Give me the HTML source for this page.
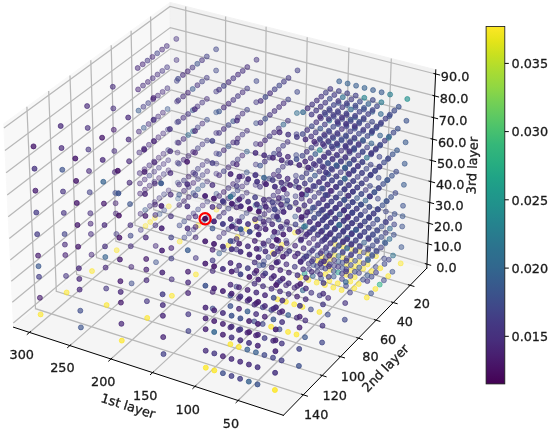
<!DOCTYPE html>
<html><head><meta charset="utf-8"><title>3D scatter</title>
<style>html,body{margin:0;padding:0;background:#fff}svg{display:block}</style></head>
<body>
<svg width="550" height="431" viewBox="0 0 550 431" font-family="'DejaVu Sans','Liberation Sans',sans-serif" font-size="12.8">
<rect width="550" height="431" fill="#fff"/>
<polygon points="172.2,194.2 13.5,327.2 3.7,123.7 170,2.4" fill="#f2f2f2" stroke="#f2f2f2" stroke-width="1" opacity="0.5" stroke-linejoin="miter"/>
<polygon points="426.8,268.2 172.2,194.2 170,2.4 435.8,69.8" fill="#e6e6e6" stroke="#e6e6e6" stroke-width="1" opacity="0.5" stroke-linejoin="miter"/>
<polygon points="426.8,268.2 172.2,194.2 13.5,327.2 283.4,415.3" fill="#ececec" stroke="#ececec" stroke-width="1" opacity="0.5" stroke-linejoin="miter"/>
<g fill="none" stroke="#b8b8b8" stroke-width="1.25" stroke-linejoin="miter">
<polyline points="238.1,400.5 384.2,255.8 391.3,58.5"/>
<polyline points="195,386.4 343.7,244 348.9,47.8"/>
<polyline points="152.6,372.6 303.7,232.4 307.2,37.2"/>
<polyline points="110.9,359 264.3,221 266.1,26.7"/>
<polyline points="69.9,345.6 225.5,209.7 225.6,16.5"/>
<polyline points="29.5,332.4 187.3,198.6 185.7,6.4"/>
<polyline points="410.1,285.3 153.7,209.7 150.6,16.5"/>
<polyline points="393.3,302.5 135,225.3 131.1,30.7"/>
<polyline points="376.1,320.2 115.9,241.3 111.2,45.3"/>
<polyline points="358.5,338.2 96.5,257.6 90.8,60.2"/>
<polyline points="340.5,356.6 76.6,274.3 70,75.4"/>
<polyline points="322.2,375.5 56.3,291.3 48.7,90.9"/>
<polyline points="303.4,394.8 35.5,308.7 26.9,106.8"/>
<polyline points="426.9,264.1 172.1,190.3 13.3,323"/>
<polyline points="427.9,243.8 171.9,170.6 12.3,302.2"/>
<polyline points="428.8,223.2 171.7,150.7 11.3,281.2"/>
<polyline points="429.8,202.5 171.4,130.6 10.3,259.9"/>
<polyline points="430.7,181.6 171.2,110.4 9.3,238.5"/>
<polyline points="431.7,160.5 171,90 8.2,216.8"/>
<polyline points="432.7,139.2 170.7,69.4 7.2,194.9"/>
<polyline points="433.6,117.6 170.5,48.6 6.1,172.8"/>
<polyline points="434.6,95.9 170.3,27.6 5,150.5"/>
<polyline points="435.6,74 170,6.4 3.9,128"/>
</g>
<g fill="none" stroke="#000" stroke-width="1.0" stroke-linecap="square">
<polyline points="13.5,327.2 283.4,415.3"/>
<polyline points="283.4,415.3 426.8,268.2"/>
<polyline points="426.8,268.2 435.8,69.8"/>
</g>
<g fill="none" stroke="#000" stroke-width="1" stroke-linecap="butt">
<polyline points="235.6,403 239.4,399.3"/>
<polyline points="192.4,388.9 196.3,385.2"/>
<polyline points="150,375 153.9,371.4"/>
<polyline points="108.3,361.4 112.3,357.8"/>
<polyline points="67.2,347.9 71.2,344.4"/>
<polyline points="26.8,334.7 30.9,331.2"/>
<polyline points="414.4,286.5 407.9,284.6"/>
<polyline points="397.6,303.8 391.1,301.9"/>
<polyline points="380.4,321.5 373.9,319.5"/>
<polyline points="362.9,339.6 356.3,337.5"/>
<polyline points="345,358 338.3,356"/>
<polyline points="326.6,376.9 319.9,374.8"/>
<polyline points="307.9,396.3 301.1,394.1"/>
<polyline points="431.2,265.4 424.8,263.5"/>
<polyline points="432.2,245 425.7,243.2"/>
<polyline points="433.1,224.5 426.7,222.6"/>
<polyline points="434.1,203.7 427.6,201.9"/>
<polyline points="435.1,182.8 428.5,181"/>
<polyline points="436.1,161.7 429.5,159.9"/>
<polyline points="437.1,140.3 430.5,138.6"/>
<polyline points="438.1,118.8 431.4,117.1"/>
<polyline points="439.1,97.1 432.4,95.3"/>
<polyline points="440.1,75.1 433.4,73.4"/>
</g>
<g text-anchor="middle" fill="#1a1a1a" stroke="#1a1a1a" stroke-width="0.3">
<text x="21.8" y="359">300</text>
<text x="62.4" y="372.3">250</text>
<text x="103.3" y="385.9">200</text>
<text x="145.3" y="399.8">150</text>
<text x="187.8" y="413.5">100</text>
<text x="231" y="427.7">50</text>
<text x="421.8" y="308.4">20</text>
<text x="404.8" y="325.6">40</text>
<text x="388.1" y="343.7">60</text>
<text x="370.4" y="361.3">80</text>
<text x="353" y="380.6">100</text>
<text x="334.8" y="399.5">120</text>
<text x="316.2" y="419">140</text>
<text x="446.4" y="271.6">0.0</text>
<text x="447.4" y="251.3">10.0</text>
<text x="448.3" y="230.7">20.0</text>
<text x="449.3" y="210">30.0</text>
<text x="450.2" y="189.1">40.0</text>
<text x="451.2" y="167.9">50.0</text>
<text x="452.2" y="146.6">60.0</text>
<text x="453.1" y="125.1">70.0</text>
<text x="454.1" y="103.4">80.0</text>
<text x="455.1" y="81.4">90.0</text>
<text transform="translate(127.8,406.9) rotate(17.5)" y="3.5">1st layer</text>
<text transform="translate(386.1,368.7) rotate(-46)" y="3.5">2nd layer</text>
<text transform="translate(473.3,165.6) rotate(-87.4)" y="3.5">3rd layer</text>
</g>
<g stroke-width="1.0">
<circle cx="178" cy="198.6" r="2.5" fill="#355e8d" stroke="#355e8d" fill-opacity="0.3" stroke-opacity="0.3"/>
<circle cx="177.8" cy="182.7" r="2.5" fill="#3f4788" stroke="#3f4788" fill-opacity="0.31" stroke-opacity="0.31"/>
<circle cx="168.8" cy="206.3" r="2.5" fill="#fde725" stroke="#fde725" fill-opacity="0.32" stroke-opacity="0.32"/>
<circle cx="216.4" cy="209.7" r="2.5" fill="#fde725" stroke="#fde725" fill-opacity="0.33" stroke-opacity="0.33"/>
<circle cx="164.2" cy="210.2" r="2.5" fill="#3e4a89" stroke="#3e4a89" fill-opacity="0.33" stroke-opacity="0.33"/>
<circle cx="177.6" cy="162.7" r="2.5" fill="#46307e" stroke="#46307e" fill-opacity="0.33" stroke-opacity="0.33"/>
<circle cx="168.6" cy="190.4" r="2.5" fill="#46337f" stroke="#46337f" fill-opacity="0.34" stroke-opacity="0.34"/>
<circle cx="177.5" cy="152.6" r="2.5" fill="#46307e" stroke="#46307e" fill-opacity="0.34" stroke-opacity="0.34"/>
<circle cx="159.6" cy="214.1" r="2.5" fill="#39558c" stroke="#39558c" fill-opacity="0.34" stroke-opacity="0.34"/>
<circle cx="216.4" cy="193.8" r="2.5" fill="#3c4f8a" stroke="#3c4f8a" fill-opacity="0.34" stroke-opacity="0.34"/>
<circle cx="164" cy="194.2" r="2.5" fill="#414287" stroke="#414287" fill-opacity="0.35" stroke-opacity="0.35"/>
<circle cx="177.4" cy="142.5" r="2.5" fill="#433e85" stroke="#433e85" fill-opacity="0.35" stroke-opacity="0.35"/>
<circle cx="207.4" cy="217.6" r="2.5" fill="#424186" stroke="#424186" fill-opacity="0.35" stroke-opacity="0.35"/>
<circle cx="154.9" cy="218" r="2.5" fill="#fde725" stroke="#fde725" fill-opacity="0.35" stroke-opacity="0.35"/>
<circle cx="168.4" cy="170.3" r="2.5" fill="#472d7b" stroke="#472d7b" fill-opacity="0.35" stroke-opacity="0.35"/>
<circle cx="159.3" cy="198.1" r="2.5" fill="#443a83" stroke="#443a83" fill-opacity="0.36" stroke-opacity="0.36"/>
<circle cx="255.4" cy="221.1" r="2.5" fill="#fde725" stroke="#fde725" fill-opacity="0.36" stroke-opacity="0.36"/>
<circle cx="202.8" cy="221.5" r="2.5" fill="#3a538b" stroke="#3a538b" fill-opacity="0.36" stroke-opacity="0.36"/>
<circle cx="168.2" cy="160.2" r="2.5" fill="#453581" stroke="#453581" fill-opacity="0.36" stroke-opacity="0.36"/>
<circle cx="216.3" cy="173.7" r="2.5" fill="#453581" stroke="#453581" fill-opacity="0.36" stroke-opacity="0.36"/>
<circle cx="150.2" cy="222" r="2.5" fill="#fde725" stroke="#fde725" fill-opacity="0.36" stroke-opacity="0.36"/>
<circle cx="163.7" cy="174.1" r="2.5" fill="#453882" stroke="#453882" fill-opacity="0.36" stroke-opacity="0.36"/>
<circle cx="207.3" cy="201.6" r="2.5" fill="#433e85" stroke="#433e85" fill-opacity="0.37" stroke-opacity="0.37"/>
<circle cx="154.6" cy="202" r="2.5" fill="#46327e" stroke="#46327e" fill-opacity="0.37" stroke-opacity="0.37"/>
<circle cx="177.2" cy="122.2" r="2.5" fill="#424186" stroke="#424186" fill-opacity="0.37" stroke-opacity="0.37"/>
<circle cx="168.1" cy="150.1" r="2.5" fill="#424186" stroke="#424186" fill-opacity="0.37" stroke-opacity="0.37"/>
<circle cx="216.3" cy="163.6" r="2.5" fill="#443b84" stroke="#443b84" fill-opacity="0.37" stroke-opacity="0.37"/>
<circle cx="198.2" cy="225.5" r="2.5" fill="#fde725" stroke="#fde725" fill-opacity="0.37" stroke-opacity="0.37"/>
<circle cx="163.6" cy="164" r="2.5" fill="#472e7c" stroke="#472e7c" fill-opacity="0.37" stroke-opacity="0.37"/>
<circle cx="145.5" cy="225.9" r="2.5" fill="#fde725" stroke="#fde725" fill-opacity="0.37" stroke-opacity="0.37"/>
<circle cx="159" cy="178" r="2.5" fill="#482979" stroke="#482979" fill-opacity="0.37" stroke-opacity="0.37"/>
<circle cx="255.5" cy="205.1" r="2.5" fill="#31678e" stroke="#31678e" fill-opacity="0.38" stroke-opacity="0.38"/>
<circle cx="202.7" cy="205.5" r="2.5" fill="#46337f" stroke="#46337f" fill-opacity="0.38" stroke-opacity="0.38"/>
<circle cx="149.9" cy="205.9" r="2.5" fill="#453581" stroke="#453581" fill-opacity="0.38" stroke-opacity="0.38"/>
<circle cx="216.3" cy="153.4" r="2.5" fill="#443983" stroke="#443983" fill-opacity="0.38" stroke-opacity="0.38"/>
<circle cx="246.5" cy="229.1" r="2.5" fill="#fde725" stroke="#fde725" fill-opacity="0.38" stroke-opacity="0.38"/>
<circle cx="163.4" cy="153.8" r="2.5" fill="#472d7b" stroke="#472d7b" fill-opacity="0.38" stroke-opacity="0.38"/>
<circle cx="193.6" cy="229.5" r="2.5" fill="#443b84" stroke="#443b84" fill-opacity="0.38" stroke-opacity="0.38"/>
<circle cx="158.9" cy="167.8" r="2.5" fill="#443983" stroke="#443983" fill-opacity="0.38" stroke-opacity="0.38"/>
<circle cx="207.2" cy="181.4" r="2.5" fill="#46327e" stroke="#46327e" fill-opacity="0.38" stroke-opacity="0.38"/>
<circle cx="140.8" cy="229.9" r="2.5" fill="#443b84" stroke="#443b84" fill-opacity="0.38" stroke-opacity="0.38"/>
<circle cx="154.3" cy="181.8" r="2.5" fill="#453581" stroke="#453581" fill-opacity="0.39" stroke-opacity="0.39"/>
<circle cx="177" cy="101.6" r="2.5" fill="#46337f" stroke="#46337f" fill-opacity="0.39" stroke-opacity="0.39"/>
<circle cx="198.1" cy="209.4" r="2.5" fill="#404588" stroke="#404588" fill-opacity="0.39" stroke-opacity="0.39"/>
<circle cx="145.2" cy="209.9" r="2.5" fill="#39558c" stroke="#39558c" fill-opacity="0.39" stroke-opacity="0.39"/>
<circle cx="167.9" cy="129.6" r="2.5" fill="#443b84" stroke="#443b84" fill-opacity="0.39" stroke-opacity="0.39"/>
<circle cx="295" cy="232.6" r="2.5" fill="#fde725" stroke="#fde725" fill-opacity="0.39" stroke-opacity="0.39"/>
<circle cx="242" cy="233.1" r="2.5" fill="#433e85" stroke="#433e85" fill-opacity="0.39" stroke-opacity="0.39"/>
<circle cx="158.7" cy="157.7" r="2.5" fill="#472c7a" stroke="#472c7a" fill-opacity="0.39" stroke-opacity="0.39"/>
<circle cx="207.2" cy="171.3" r="2.5" fill="#46327e" stroke="#46327e" fill-opacity="0.39" stroke-opacity="0.39"/>
<circle cx="255.6" cy="184.9" r="2.5" fill="#463480" stroke="#463480" fill-opacity="0.39" stroke-opacity="0.39"/>
<circle cx="189" cy="233.5" r="2.5" fill="#414487" stroke="#414487" fill-opacity="0.39" stroke-opacity="0.39"/>
<circle cx="154.2" cy="171.7" r="2.5" fill="#463480" stroke="#463480" fill-opacity="0.39" stroke-opacity="0.39"/>
<circle cx="202.6" cy="185.3" r="2.5" fill="#3c508b" stroke="#3c508b" fill-opacity="0.4" stroke-opacity="0.4"/>
<circle cx="149.6" cy="185.7" r="2.5" fill="#472c7a" stroke="#472c7a" fill-opacity="0.4" stroke-opacity="0.4"/>
<circle cx="246.6" cy="213" r="2.5" fill="#3f4788" stroke="#3f4788" fill-opacity="0.4" stroke-opacity="0.4"/>
<circle cx="193.5" cy="213.4" r="2.5" fill="#433d84" stroke="#433d84" fill-opacity="0.4" stroke-opacity="0.4"/>
<circle cx="140.5" cy="213.8" r="2.5" fill="#472c7a" stroke="#472c7a" fill-opacity="0.4" stroke-opacity="0.4"/>
<circle cx="216.2" cy="133" r="2.5" fill="#453882" stroke="#453882" fill-opacity="0.4" stroke-opacity="0.4"/>
<circle cx="163.2" cy="133.4" r="2.5" fill="#472e7c" stroke="#472e7c" fill-opacity="0.4" stroke-opacity="0.4"/>
<circle cx="207.1" cy="161.1" r="2.5" fill="#453781" stroke="#453781" fill-opacity="0.4" stroke-opacity="0.4"/>
<circle cx="255.7" cy="174.7" r="2.5" fill="#46337f" stroke="#46337f" fill-opacity="0.4" stroke-opacity="0.4"/>
<circle cx="237.5" cy="237.1" r="2.5" fill="#fde725" stroke="#fde725" fill-opacity="0.4" stroke-opacity="0.4"/>
<circle cx="154" cy="161.5" r="2.5" fill="#472a7a" stroke="#472a7a" fill-opacity="0.4" stroke-opacity="0.4"/>
<circle cx="202.6" cy="175.1" r="2.5" fill="#443b84" stroke="#443b84" fill-opacity="0.4" stroke-opacity="0.4"/>
<circle cx="184.4" cy="237.5" r="2.5" fill="#404588" stroke="#404588" fill-opacity="0.41" stroke-opacity="0.41"/>
<circle cx="149.4" cy="175.6" r="2.5" fill="#414287" stroke="#414287" fill-opacity="0.41" stroke-opacity="0.41"/>
<circle cx="176.8" cy="80.9" r="2.5" fill="#423f85" stroke="#423f85" fill-opacity="0.41" stroke-opacity="0.41"/>
<circle cx="198" cy="189.2" r="2.5" fill="#38598c" stroke="#38598c" fill-opacity="0.41" stroke-opacity="0.41"/>
<circle cx="295.2" cy="216.5" r="2.5" fill="#39558c" stroke="#39558c" fill-opacity="0.41" stroke-opacity="0.41"/>
<circle cx="144.9" cy="189.6" r="2.5" fill="#482878" stroke="#482878" fill-opacity="0.41" stroke-opacity="0.41"/>
<circle cx="242.1" cy="217" r="2.5" fill="#404688" stroke="#404688" fill-opacity="0.41" stroke-opacity="0.41"/>
<circle cx="167.6" cy="109" r="2.5" fill="#39568c" stroke="#39568c" fill-opacity="0.41" stroke-opacity="0.41"/>
<circle cx="188.9" cy="217.4" r="2.5" fill="#472c7a" stroke="#472c7a" fill-opacity="0.41" stroke-opacity="0.41"/>
<circle cx="158.4" cy="137.2" r="2.5" fill="#482979" stroke="#482979" fill-opacity="0.41" stroke-opacity="0.41"/>
<circle cx="255.8" cy="164.5" r="2.5" fill="#453781" stroke="#453781" fill-opacity="0.41" stroke-opacity="0.41"/>
<circle cx="286.2" cy="240.7" r="2.5" fill="#433d84" stroke="#433d84" fill-opacity="0.41" stroke-opacity="0.41"/>
<circle cx="202.5" cy="164.9" r="2.5" fill="#463480" stroke="#463480" fill-opacity="0.41" stroke-opacity="0.41"/>
<circle cx="233" cy="241.2" r="2.5" fill="#443b84" stroke="#443b84" fill-opacity="0.41" stroke-opacity="0.41"/>
<circle cx="149.3" cy="165.3" r="2.5" fill="#46307e" stroke="#46307e" fill-opacity="0.42" stroke-opacity="0.42"/>
<circle cx="198" cy="179" r="2.5" fill="#443983" stroke="#443983" fill-opacity="0.42" stroke-opacity="0.42"/>
<circle cx="246.7" cy="192.7" r="2.5" fill="#46327e" stroke="#46327e" fill-opacity="0.42" stroke-opacity="0.42"/>
<circle cx="179.7" cy="241.6" r="2.5" fill="#fde725" stroke="#fde725" fill-opacity="0.42" stroke-opacity="0.42"/>
<circle cx="144.7" cy="179.5" r="2.5" fill="#472d7b" stroke="#472d7b" fill-opacity="0.42" stroke-opacity="0.42"/>
<circle cx="193.4" cy="193.1" r="2.5" fill="#3d4e8a" stroke="#3d4e8a" fill-opacity="0.42" stroke-opacity="0.42"/>
<circle cx="140.1" cy="193.6" r="2.5" fill="#482677" stroke="#482677" fill-opacity="0.42" stroke-opacity="0.42"/>
<circle cx="216.2" cy="112.3" r="2.5" fill="#3a548c" stroke="#3a548c" fill-opacity="0.42" stroke-opacity="0.42"/>
<circle cx="237.5" cy="221" r="2.5" fill="#463480" stroke="#463480" fill-opacity="0.42" stroke-opacity="0.42"/>
<circle cx="162.9" cy="112.7" r="2.5" fill="#472c7a" stroke="#472c7a" fill-opacity="0.42" stroke-opacity="0.42"/>
<circle cx="184.2" cy="221.4" r="2.5" fill="#3e4a89" stroke="#3e4a89" fill-opacity="0.42" stroke-opacity="0.42"/>
<circle cx="207.1" cy="140.5" r="2.5" fill="#423f85" stroke="#423f85" fill-opacity="0.42" stroke-opacity="0.42"/>
<circle cx="153.7" cy="141" r="2.5" fill="#472d7b" stroke="#472d7b" fill-opacity="0.42" stroke-opacity="0.42"/>
<circle cx="335.1" cy="244.3" r="2.5" fill="#fde725" stroke="#fde725" fill-opacity="0.42" stroke-opacity="0.42"/>
<circle cx="176.5" cy="60" r="2.5" fill="#46337f" stroke="#46337f" fill-opacity="0.42" stroke-opacity="0.42"/>
<circle cx="281.8" cy="244.8" r="2.5" fill="#fde725" stroke="#fde725" fill-opacity="0.42" stroke-opacity="0.42"/>
<circle cx="197.9" cy="168.8" r="2.5" fill="#433e85" stroke="#433e85" fill-opacity="0.42" stroke-opacity="0.42"/>
<circle cx="246.7" cy="182.5" r="2.5" fill="#453781" stroke="#453781" fill-opacity="0.43" stroke-opacity="0.43"/>
<circle cx="295.5" cy="196.2" r="2.5" fill="#423f85" stroke="#423f85" fill-opacity="0.43" stroke-opacity="0.43"/>
<circle cx="228.4" cy="245.2" r="2.5" fill="#fde725" stroke="#fde725" fill-opacity="0.43" stroke-opacity="0.43"/>
<circle cx="144.5" cy="169.2" r="2.5" fill="#482979" stroke="#482979" fill-opacity="0.43" stroke-opacity="0.43"/>
<circle cx="193.3" cy="182.9" r="2.5" fill="#482878" stroke="#482878" fill-opacity="0.43" stroke-opacity="0.43"/>
<circle cx="242.1" cy="196.7" r="2.5" fill="#453781" stroke="#453781" fill-opacity="0.43" stroke-opacity="0.43"/>
<circle cx="139.9" cy="183.4" r="2.5" fill="#472d7b" stroke="#472d7b" fill-opacity="0.43" stroke-opacity="0.43"/>
<circle cx="167.4" cy="88.2" r="2.5" fill="#46327e" stroke="#46327e" fill-opacity="0.43" stroke-opacity="0.43"/>
<circle cx="188.7" cy="197.1" r="2.5" fill="#472f7d" stroke="#472f7d" fill-opacity="0.43" stroke-opacity="0.43"/>
<circle cx="286.4" cy="224.5" r="2.5" fill="#443983" stroke="#443983" fill-opacity="0.43" stroke-opacity="0.43"/>
<circle cx="343.3" cy="246.7" r="2.5" fill="#fde725" stroke="#fde725" fill-opacity="0.43" stroke-opacity="0.43"/>
<circle cx="233" cy="225" r="2.5" fill="#3a538b" stroke="#3a538b" fill-opacity="0.43" stroke-opacity="0.43"/>
<circle cx="158.2" cy="116.5" r="2.5" fill="#472e7c" stroke="#472e7c" fill-opacity="0.43" stroke-opacity="0.43"/>
<circle cx="179.5" cy="225.4" r="2.5" fill="#3f4889" stroke="#3f4889" fill-opacity="0.43" stroke-opacity="0.43"/>
<circle cx="255.9" cy="143.9" r="2.5" fill="#453781" stroke="#453781" fill-opacity="0.43" stroke-opacity="0.43"/>
<circle cx="202.4" cy="144.3" r="2.5" fill="#453882" stroke="#453882" fill-opacity="0.43" stroke-opacity="0.43"/>
<circle cx="148.9" cy="144.8" r="2.5" fill="#472d7b" stroke="#472d7b" fill-opacity="0.43" stroke-opacity="0.43"/>
<circle cx="246.8" cy="172.3" r="2.5" fill="#3b528b" stroke="#3b528b" fill-opacity="0.43" stroke-opacity="0.43"/>
<circle cx="295.7" cy="186" r="2.5" fill="#404588" stroke="#404588" fill-opacity="0.44" stroke-opacity="0.44"/>
<circle cx="277.4" cy="248.9" r="2.5" fill="#424086" stroke="#424086" fill-opacity="0.44" stroke-opacity="0.44"/>
<circle cx="193.3" cy="172.7" r="2.5" fill="#472f7d" stroke="#472f7d" fill-opacity="0.44" stroke-opacity="0.44"/>
<circle cx="351.4" cy="249.1" r="2.5" fill="#fde725" stroke="#fde725" fill-opacity="0.44" stroke-opacity="0.44"/>
<circle cx="242.2" cy="186.4" r="2.5" fill="#46327e" stroke="#46327e" fill-opacity="0.44" stroke-opacity="0.44"/>
<circle cx="223.8" cy="249.3" r="2.5" fill="#3e4a89" stroke="#3e4a89" fill-opacity="0.44" stroke-opacity="0.44"/>
<circle cx="139.7" cy="173.1" r="2.5" fill="#472d7b" stroke="#472d7b" fill-opacity="0.44" stroke-opacity="0.44"/>
<circle cx="188.7" cy="186.9" r="2.5" fill="#463480" stroke="#463480" fill-opacity="0.44" stroke-opacity="0.44"/>
<circle cx="216.2" cy="91.5" r="2.5" fill="#443b84" stroke="#443b84" fill-opacity="0.44" stroke-opacity="0.44"/>
<circle cx="237.6" cy="200.6" r="2.5" fill="#414287" stroke="#414287" fill-opacity="0.44" stroke-opacity="0.44"/>
<circle cx="335.5" cy="228.1" r="2.5" fill="#3d4e8a" stroke="#3d4e8a" fill-opacity="0.44" stroke-opacity="0.44"/>
<circle cx="162.6" cy="91.9" r="2.5" fill="#472a7a" stroke="#472a7a" fill-opacity="0.44" stroke-opacity="0.44"/>
<circle cx="184" cy="201.1" r="2.5" fill="#472c7a" stroke="#472c7a" fill-opacity="0.44" stroke-opacity="0.44"/>
<circle cx="116.7" cy="250.2" r="2.5" fill="#fde725" stroke="#fde725" fill-opacity="0.44" stroke-opacity="0.44"/>
<circle cx="282" cy="228.6" r="2.5" fill="#414487" stroke="#414487" fill-opacity="0.44" stroke-opacity="0.44"/>
<circle cx="207" cy="119.8" r="2.5" fill="#3e4c8a" stroke="#3e4c8a" fill-opacity="0.44" stroke-opacity="0.44"/>
<circle cx="228.4" cy="229" r="2.5" fill="#423f85" stroke="#423f85" fill-opacity="0.44" stroke-opacity="0.44"/>
<circle cx="153.4" cy="120.2" r="2.5" fill="#472c7a" stroke="#472c7a" fill-opacity="0.44" stroke-opacity="0.44"/>
<circle cx="359.6" cy="251.4" r="2.5" fill="#fde725" stroke="#fde725" fill-opacity="0.44" stroke-opacity="0.44"/>
<circle cx="176.3" cy="38.9" r="2.5" fill="#46337f" stroke="#46337f" fill-opacity="0.44" stroke-opacity="0.44"/>
<circle cx="197.8" cy="148.2" r="2.5" fill="#433d84" stroke="#433d84" fill-opacity="0.44" stroke-opacity="0.44"/>
<circle cx="295.9" cy="175.7" r="2.5" fill="#423f85" stroke="#423f85" fill-opacity="0.44" stroke-opacity="0.44"/>
<circle cx="343.7" cy="230.5" r="2.5" fill="#3e4c8a" stroke="#3e4c8a" fill-opacity="0.45" stroke-opacity="0.45"/>
<circle cx="144.1" cy="148.6" r="2.5" fill="#472a7a" stroke="#472a7a" fill-opacity="0.45" stroke-opacity="0.45"/>
<circle cx="326.5" cy="252.5" r="2.5" fill="#3d4e8a" stroke="#3d4e8a" fill-opacity="0.45" stroke-opacity="0.45"/>
<circle cx="242.2" cy="176.2" r="2.5" fill="#46307e" stroke="#46307e" fill-opacity="0.45" stroke-opacity="0.45"/>
<circle cx="167.1" cy="67.2" r="2.5" fill="#453882" stroke="#453882" fill-opacity="0.45" stroke-opacity="0.45"/>
<circle cx="272.9" cy="253" r="2.5" fill="#fde725" stroke="#fde725" fill-opacity="0.45" stroke-opacity="0.45"/>
<circle cx="188.6" cy="176.6" r="2.5" fill="#482878" stroke="#482878" fill-opacity="0.45" stroke-opacity="0.45"/>
<circle cx="237.6" cy="190.4" r="2.5" fill="#3f4889" stroke="#3f4889" fill-opacity="0.45" stroke-opacity="0.45"/>
<circle cx="286.7" cy="204.2" r="2.5" fill="#3d4e8a" stroke="#3d4e8a" fill-opacity="0.45" stroke-opacity="0.45"/>
<circle cx="219.2" cy="253.4" r="2.5" fill="#355e8d" stroke="#355e8d" fill-opacity="0.45" stroke-opacity="0.45"/>
<circle cx="184" cy="190.8" r="2.5" fill="#472f7d" stroke="#472f7d" fill-opacity="0.45" stroke-opacity="0.45"/>
<circle cx="233" cy="204.6" r="2.5" fill="#414287" stroke="#414287" fill-opacity="0.45" stroke-opacity="0.45"/>
<circle cx="367.7" cy="253.8" r="2.5" fill="#fde725" stroke="#fde725" fill-opacity="0.45" stroke-opacity="0.45"/>
<circle cx="157.9" cy="95.6" r="2.5" fill="#472d7b" stroke="#472d7b" fill-opacity="0.45" stroke-opacity="0.45"/>
<circle cx="179.3" cy="205" r="2.5" fill="#463480" stroke="#463480" fill-opacity="0.45" stroke-opacity="0.45"/>
<circle cx="256.1" cy="123.2" r="2.5" fill="#3d4d8a" stroke="#3d4d8a" fill-opacity="0.45" stroke-opacity="0.45"/>
<circle cx="277.6" cy="232.7" r="2.5" fill="#423f85" stroke="#423f85" fill-opacity="0.45" stroke-opacity="0.45"/>
<circle cx="351.9" cy="232.8" r="2.5" fill="#34618d" stroke="#34618d" fill-opacity="0.45" stroke-opacity="0.45"/>
<circle cx="202.3" cy="123.6" r="2.5" fill="#472e7c" stroke="#472e7c" fill-opacity="0.45" stroke-opacity="0.45"/>
<circle cx="334.7" cy="254.9" r="2.5" fill="#fde725" stroke="#fde725" fill-opacity="0.45" stroke-opacity="0.45"/>
<circle cx="223.8" cy="233.1" r="2.5" fill="#46337f" stroke="#46337f" fill-opacity="0.45" stroke-opacity="0.45"/>
<circle cx="148.6" cy="124" r="2.5" fill="#472f7d" stroke="#472f7d" fill-opacity="0.45" stroke-opacity="0.45"/>
<circle cx="246.9" cy="151.6" r="2.5" fill="#365d8d" stroke="#365d8d" fill-opacity="0.45" stroke-opacity="0.45"/>
<circle cx="116.3" cy="234" r="2.5" fill="#443a83" stroke="#443a83" fill-opacity="0.45" stroke-opacity="0.45"/>
<circle cx="193.1" cy="152" r="2.5" fill="#482677" stroke="#482677" fill-opacity="0.46" stroke-opacity="0.46"/>
<circle cx="376" cy="256.2" r="2.5" fill="#fde725" stroke="#fde725" fill-opacity="0.46" stroke-opacity="0.46"/>
<circle cx="139.3" cy="152.5" r="2.5" fill="#472f7d" stroke="#472f7d" fill-opacity="0.46" stroke-opacity="0.46"/>
<circle cx="216.1" cy="70.5" r="2.5" fill="#404588" stroke="#404588" fill-opacity="0.46" stroke-opacity="0.46"/>
<circle cx="322.2" cy="256.7" r="2.5" fill="#fde725" stroke="#fde725" fill-opacity="0.46" stroke-opacity="0.46"/>
<circle cx="237.7" cy="180.1" r="2.5" fill="#453581" stroke="#453581" fill-opacity="0.46" stroke-opacity="0.46"/>
<circle cx="286.9" cy="193.9" r="2.5" fill="#463480" stroke="#463480" fill-opacity="0.46" stroke-opacity="0.46"/>
<circle cx="336.1" cy="207.7" r="2.5" fill="#424086" stroke="#424086" fill-opacity="0.46" stroke-opacity="0.46"/>
<circle cx="162.3" cy="70.9" r="2.5" fill="#463480" stroke="#463480" fill-opacity="0.46" stroke-opacity="0.46"/>
<circle cx="360" cy="235.2" r="2.5" fill="#414287" stroke="#414287" fill-opacity="0.46" stroke-opacity="0.46"/>
<circle cx="268.4" cy="257.1" r="2.5" fill="#3f4788" stroke="#3f4788" fill-opacity="0.46" stroke-opacity="0.46"/>
<circle cx="183.9" cy="180.5" r="2.5" fill="#443a83" stroke="#443a83" fill-opacity="0.46" stroke-opacity="0.46"/>
<circle cx="342.8" cy="257.3" r="2.5" fill="#fde725" stroke="#fde725" fill-opacity="0.46" stroke-opacity="0.46"/>
<circle cx="233.1" cy="194.4" r="2.5" fill="#3b528b" stroke="#3b528b" fill-opacity="0.46" stroke-opacity="0.46"/>
<circle cx="282.3" cy="208.2" r="2.5" fill="#443a83" stroke="#443a83" fill-opacity="0.46" stroke-opacity="0.46"/>
<circle cx="179.2" cy="194.8" r="2.5" fill="#3a538b" stroke="#3a538b" fill-opacity="0.46" stroke-opacity="0.46"/>
<circle cx="206.9" cy="98.9" r="2.5" fill="#472e7c" stroke="#472e7c" fill-opacity="0.46" stroke-opacity="0.46"/>
<circle cx="228.5" cy="208.6" r="2.5" fill="#414487" stroke="#414487" fill-opacity="0.46" stroke-opacity="0.46"/>
<circle cx="326.9" cy="236.3" r="2.5" fill="#433d84" stroke="#433d84" fill-opacity="0.46" stroke-opacity="0.46"/>
<circle cx="153.1" cy="99.3" r="2.5" fill="#482878" stroke="#482878" fill-opacity="0.46" stroke-opacity="0.46"/>
<circle cx="384.2" cy="258.6" r="2.5" fill="#404588" stroke="#404588" fill-opacity="0.46" stroke-opacity="0.46"/>
<circle cx="273.1" cy="236.7" r="2.5" fill="#404588" stroke="#404588" fill-opacity="0.46" stroke-opacity="0.46"/>
<circle cx="197.7" cy="127.4" r="2.5" fill="#414287" stroke="#414287" fill-opacity="0.46" stroke-opacity="0.46"/>
<circle cx="330.4" cy="259.1" r="2.5" fill="#fde725" stroke="#fde725" fill-opacity="0.46" stroke-opacity="0.46"/>
<circle cx="219.2" cy="237.2" r="2.5" fill="#453581" stroke="#453581" fill-opacity="0.46" stroke-opacity="0.46"/>
<circle cx="296.2" cy="155.1" r="2.5" fill="#3f4788" stroke="#3f4788" fill-opacity="0.46" stroke-opacity="0.46"/>
<circle cx="344.2" cy="210.1" r="2.5" fill="#3f4889" stroke="#3f4889" fill-opacity="0.46" stroke-opacity="0.46"/>
<circle cx="143.8" cy="127.8" r="2.5" fill="#39558c" stroke="#39558c" fill-opacity="0.46" stroke-opacity="0.46"/>
<circle cx="368.3" cy="237.6" r="2.5" fill="#3c4f8a" stroke="#3c4f8a" fill-opacity="0.46" stroke-opacity="0.46"/>
<circle cx="351" cy="259.7" r="2.5" fill="#fde725" stroke="#fde725" fill-opacity="0.47" stroke-opacity="0.47"/>
<circle cx="242.3" cy="155.5" r="2.5" fill="#472c7a" stroke="#472c7a" fill-opacity="0.47" stroke-opacity="0.47"/>
<circle cx="166.8" cy="46" r="2.5" fill="#472e7c" stroke="#472e7c" fill-opacity="0.47" stroke-opacity="0.47"/>
<circle cx="188.4" cy="155.9" r="2.5" fill="#472c7a" stroke="#472c7a" fill-opacity="0.47" stroke-opacity="0.47"/>
<circle cx="287" cy="183.6" r="2.5" fill="#453882" stroke="#453882" fill-opacity="0.47" stroke-opacity="0.47"/>
<circle cx="336.3" cy="197.5" r="2.5" fill="#3e4989" stroke="#3e4989" fill-opacity="0.47" stroke-opacity="0.47"/>
<circle cx="335.1" cy="238.7" r="2.5" fill="#424086" stroke="#424086" fill-opacity="0.47" stroke-opacity="0.47"/>
<circle cx="317.8" cy="260.8" r="2.5" fill="#fde725" stroke="#fde725" fill-opacity="0.47" stroke-opacity="0.47"/>
<circle cx="233.1" cy="184" r="2.5" fill="#472c7a" stroke="#472c7a" fill-opacity="0.47" stroke-opacity="0.47"/>
<circle cx="282.4" cy="197.9" r="2.5" fill="#423f85" stroke="#423f85" fill-opacity="0.47" stroke-opacity="0.47"/>
<circle cx="157.5" cy="74.5" r="2.5" fill="#472e7c" stroke="#472e7c" fill-opacity="0.47" stroke-opacity="0.47"/>
<circle cx="263.9" cy="261.3" r="2.5" fill="#404588" stroke="#404588" fill-opacity="0.47" stroke-opacity="0.47"/>
<circle cx="179.1" cy="184.5" r="2.5" fill="#46327e" stroke="#46327e" fill-opacity="0.47" stroke-opacity="0.47"/>
<circle cx="338.5" cy="261.5" r="2.5" fill="#375b8d" stroke="#375b8d" fill-opacity="0.47" stroke-opacity="0.47"/>
<circle cx="228.5" cy="198.3" r="2.5" fill="#472f7d" stroke="#472f7d" fill-opacity="0.47" stroke-opacity="0.47"/>
<circle cx="256.2" cy="102.2" r="2.5" fill="#443983" stroke="#443983" fill-opacity="0.47" stroke-opacity="0.47"/>
<circle cx="277.8" cy="212.2" r="2.5" fill="#46327e" stroke="#46327e" fill-opacity="0.47" stroke-opacity="0.47"/>
<circle cx="352.4" cy="212.4" r="2.5" fill="#424086" stroke="#424086" fill-opacity="0.47" stroke-opacity="0.47"/>
<circle cx="376.5" cy="239.9" r="2.5" fill="#38588c" stroke="#38588c" fill-opacity="0.47" stroke-opacity="0.47"/>
<circle cx="202.2" cy="102.6" r="2.5" fill="#463480" stroke="#463480" fill-opacity="0.47" stroke-opacity="0.47"/>
<circle cx="223.8" cy="212.7" r="2.5" fill="#463480" stroke="#463480" fill-opacity="0.47" stroke-opacity="0.47"/>
<circle cx="359.3" cy="262.1" r="2.5" fill="#fde725" stroke="#fde725" fill-opacity="0.47" stroke-opacity="0.47"/>
<circle cx="156" cy="262.2" r="2.5" fill="#3c4f8a" stroke="#3c4f8a" fill-opacity="0.47" stroke-opacity="0.47"/>
<circle cx="322.6" cy="240.4" r="2.5" fill="#443b84" stroke="#443b84" fill-opacity="0.47" stroke-opacity="0.47"/>
<circle cx="148.2" cy="103.1" r="2.5" fill="#423f85" stroke="#423f85" fill-opacity="0.47" stroke-opacity="0.47"/>
<circle cx="247" cy="130.8" r="2.5" fill="#46337f" stroke="#46337f" fill-opacity="0.47" stroke-opacity="0.47"/>
<circle cx="268.6" cy="240.8" r="2.5" fill="#443a83" stroke="#443a83" fill-opacity="0.47" stroke-opacity="0.47"/>
<circle cx="344.5" cy="199.8" r="2.5" fill="#424186" stroke="#424186" fill-opacity="0.47" stroke-opacity="0.47"/>
<circle cx="115.8" cy="213.5" r="2.5" fill="#482677" stroke="#482677" fill-opacity="0.47" stroke-opacity="0.47"/>
<circle cx="343.3" cy="241" r="2.5" fill="#3d4d8a" stroke="#3d4d8a" fill-opacity="0.47" stroke-opacity="0.47"/>
<circle cx="193" cy="131.2" r="2.5" fill="#2f6c8e" stroke="#2f6c8e" fill-opacity="0.47" stroke-opacity="0.47"/>
<circle cx="326" cy="263.2" r="2.5" fill="#fde725" stroke="#fde725" fill-opacity="0.47" stroke-opacity="0.47"/>
<circle cx="400.7" cy="263.4" r="2.5" fill="#fde725" stroke="#fde725" fill-opacity="0.48" stroke-opacity="0.48"/>
<circle cx="138.9" cy="131.6" r="2.5" fill="#472d7b" stroke="#472d7b" fill-opacity="0.48" stroke-opacity="0.48"/>
<circle cx="216.1" cy="49.3" r="2.5" fill="#404688" stroke="#404688" fill-opacity="0.48" stroke-opacity="0.48"/>
<circle cx="346.8" cy="263.9" r="2.5" fill="#fde725" stroke="#fde725" fill-opacity="0.48" stroke-opacity="0.48"/>
<circle cx="237.7" cy="159.4" r="2.5" fill="#433d84" stroke="#433d84" fill-opacity="0.48" stroke-opacity="0.48"/>
<circle cx="336.6" cy="187.1" r="2.5" fill="#3a538b" stroke="#3a538b" fill-opacity="0.48" stroke-opacity="0.48"/>
<circle cx="162.1" cy="49.6" r="2.5" fill="#472a7a" stroke="#472a7a" fill-opacity="0.48" stroke-opacity="0.48"/>
<circle cx="360.7" cy="214.7" r="2.5" fill="#414487" stroke="#414487" fill-opacity="0.48" stroke-opacity="0.48"/>
<circle cx="384.8" cy="242.3" r="2.5" fill="#355e8d" stroke="#355e8d" fill-opacity="0.48" stroke-opacity="0.48"/>
<circle cx="183.7" cy="159.8" r="2.5" fill="#472a7a" stroke="#472a7a" fill-opacity="0.48" stroke-opacity="0.48"/>
<circle cx="367.5" cy="264.5" r="2.5" fill="#fde725" stroke="#fde725" fill-opacity="0.48" stroke-opacity="0.48"/>
<circle cx="282.5" cy="187.6" r="2.5" fill="#3e4a89" stroke="#3e4a89" fill-opacity="0.48" stroke-opacity="0.48"/>
<circle cx="330.8" cy="242.8" r="2.5" fill="#424086" stroke="#424086" fill-opacity="0.48" stroke-opacity="0.48"/>
<circle cx="206.8" cy="77.8" r="2.5" fill="#443a83" stroke="#443a83" fill-opacity="0.48" stroke-opacity="0.48"/>
<circle cx="313.5" cy="265" r="2.5" fill="#3c4f8a" stroke="#3c4f8a" fill-opacity="0.48" stroke-opacity="0.48"/>
<circle cx="228.5" cy="188" r="2.5" fill="#463480" stroke="#463480" fill-opacity="0.48" stroke-opacity="0.48"/>
<circle cx="277.9" cy="201.9" r="2.5" fill="#463480" stroke="#463480" fill-opacity="0.48" stroke-opacity="0.48"/>
<circle cx="327.4" cy="215.8" r="2.5" fill="#3e4989" stroke="#3e4989" fill-opacity="0.48" stroke-opacity="0.48"/>
<circle cx="152.7" cy="78.2" r="2.5" fill="#472f7d" stroke="#472f7d" fill-opacity="0.48" stroke-opacity="0.48"/>
<circle cx="352.7" cy="202.1" r="2.5" fill="#424086" stroke="#424086" fill-opacity="0.48" stroke-opacity="0.48"/>
<circle cx="351.5" cy="243.4" r="2.5" fill="#404588" stroke="#404588" fill-opacity="0.48" stroke-opacity="0.48"/>
<circle cx="259.4" cy="265.5" r="2.5" fill="#3b528b" stroke="#3b528b" fill-opacity="0.48" stroke-opacity="0.48"/>
<circle cx="334.2" cy="265.7" r="2.5" fill="#433e85" stroke="#433e85" fill-opacity="0.48" stroke-opacity="0.48"/>
<circle cx="223.8" cy="202.4" r="2.5" fill="#46327e" stroke="#46327e" fill-opacity="0.48" stroke-opacity="0.48"/>
<circle cx="273.3" cy="216.3" r="2.5" fill="#443a83" stroke="#443a83" fill-opacity="0.48" stroke-opacity="0.48"/>
<circle cx="197.5" cy="106.4" r="2.5" fill="#46337f" stroke="#46337f" fill-opacity="0.48" stroke-opacity="0.48"/>
<circle cx="219.2" cy="216.7" r="2.5" fill="#453581" stroke="#453581" fill-opacity="0.48" stroke-opacity="0.48"/>
<circle cx="355" cy="266.3" r="2.5" fill="#fde725" stroke="#fde725" fill-opacity="0.48" stroke-opacity="0.48"/>
<circle cx="296.5" cy="134.2" r="2.5" fill="#433e85" stroke="#433e85" fill-opacity="0.48" stroke-opacity="0.48"/>
<circle cx="318.2" cy="244.5" r="2.5" fill="#443a83" stroke="#443a83" fill-opacity="0.48" stroke-opacity="0.48"/>
<circle cx="344.8" cy="189.5" r="2.5" fill="#3f4889" stroke="#3f4889" fill-opacity="0.48" stroke-opacity="0.48"/>
<circle cx="115.6" cy="203.2" r="2.5" fill="#482374" stroke="#482374" fill-opacity="0.48" stroke-opacity="0.48"/>
<circle cx="143.4" cy="106.8" r="2.5" fill="#443a83" stroke="#443a83" fill-opacity="0.48" stroke-opacity="0.48"/>
<circle cx="368.9" cy="217.1" r="2.5" fill="#3c4f8a" stroke="#3c4f8a" fill-opacity="0.48" stroke-opacity="0.48"/>
<circle cx="242.4" cy="134.6" r="2.5" fill="#453781" stroke="#453781" fill-opacity="0.48" stroke-opacity="0.48"/>
<circle cx="375.8" cy="267" r="2.5" fill="#3f4889" stroke="#3f4889" fill-opacity="0.48" stroke-opacity="0.48"/>
<circle cx="264.1" cy="245" r="2.5" fill="#433d84" stroke="#433d84" fill-opacity="0.48" stroke-opacity="0.48"/>
<circle cx="339" cy="245.2" r="2.5" fill="#424086" stroke="#424086" fill-opacity="0.49" stroke-opacity="0.49"/>
<circle cx="188.2" cy="135" r="2.5" fill="#30698e" stroke="#30698e" fill-opacity="0.49" stroke-opacity="0.49"/>
<circle cx="321.7" cy="267.4" r="2.5" fill="#433d84" stroke="#433d84" fill-opacity="0.49" stroke-opacity="0.49"/>
<circle cx="287.3" cy="162.9" r="2.5" fill="#443b84" stroke="#443b84" fill-opacity="0.49" stroke-opacity="0.49"/>
<circle cx="335.6" cy="218.2" r="2.5" fill="#3e4989" stroke="#3e4989" fill-opacity="0.49" stroke-opacity="0.49"/>
<circle cx="361" cy="204.4" r="2.5" fill="#3f4889" stroke="#3f4889" fill-opacity="0.49" stroke-opacity="0.49"/>
<circle cx="359.8" cy="245.8" r="2.5" fill="#404688" stroke="#404688" fill-opacity="0.49" stroke-opacity="0.49"/>
<circle cx="155.7" cy="245.9" r="2.5" fill="#472d7b" stroke="#472d7b" fill-opacity="0.49" stroke-opacity="0.49"/>
<circle cx="342.4" cy="268.1" r="2.5" fill="#3d4d8a" stroke="#3d4d8a" fill-opacity="0.49" stroke-opacity="0.49"/>
<circle cx="233.1" cy="163.3" r="2.5" fill="#463480" stroke="#463480" fill-opacity="0.49" stroke-opacity="0.49"/>
<circle cx="157.2" cy="53.3" r="2.5" fill="#414287" stroke="#414287" fill-opacity="0.49" stroke-opacity="0.49"/>
<circle cx="178.9" cy="163.7" r="2.5" fill="#423f85" stroke="#423f85" fill-opacity="0.49" stroke-opacity="0.49"/>
<circle cx="256.4" cy="81.1" r="2.5" fill="#404688" stroke="#404688" fill-opacity="0.49" stroke-opacity="0.49"/>
<circle cx="363.2" cy="268.7" r="2.5" fill="#fde725" stroke="#fde725" fill-opacity="0.49" stroke-opacity="0.49"/>
<circle cx="278.1" cy="191.6" r="2.5" fill="#472f7d" stroke="#472f7d" fill-opacity="0.49" stroke-opacity="0.49"/>
<circle cx="327.6" cy="205.5" r="2.5" fill="#3f4788" stroke="#3f4788" fill-opacity="0.49" stroke-opacity="0.49"/>
<circle cx="326.4" cy="246.9" r="2.5" fill="#443b84" stroke="#443b84" fill-opacity="0.49" stroke-opacity="0.49"/>
<circle cx="353" cy="191.8" r="2.5" fill="#38588c" stroke="#38588c" fill-opacity="0.49" stroke-opacity="0.49"/>
<circle cx="377.2" cy="219.4" r="2.5" fill="#31688e" stroke="#31688e" fill-opacity="0.49" stroke-opacity="0.49"/>
<circle cx="202.1" cy="81.5" r="2.5" fill="#423f85" stroke="#423f85" fill-opacity="0.49" stroke-opacity="0.49"/>
<circle cx="401.4" cy="247.1" r="2.5" fill="#3a548c" stroke="#3a548c" fill-opacity="0.49" stroke-opacity="0.49"/>
<circle cx="309.1" cy="269.2" r="2.5" fill="#433d84" stroke="#433d84" fill-opacity="0.49" stroke-opacity="0.49"/>
<circle cx="223.8" cy="192" r="2.5" fill="#482677" stroke="#482677" fill-opacity="0.49" stroke-opacity="0.49"/>
<circle cx="273.4" cy="205.9" r="2.5" fill="#46327e" stroke="#46327e" fill-opacity="0.49" stroke-opacity="0.49"/>
<circle cx="323" cy="219.9" r="2.5" fill="#355e8d" stroke="#355e8d" fill-opacity="0.49" stroke-opacity="0.49"/>
<circle cx="147.9" cy="81.9" r="2.5" fill="#482878" stroke="#482878" fill-opacity="0.49" stroke-opacity="0.49"/>
<circle cx="347.2" cy="247.6" r="2.5" fill="#404588" stroke="#404588" fill-opacity="0.49" stroke-opacity="0.49"/>
<circle cx="329.9" cy="269.9" r="2.5" fill="#fde725" stroke="#fde725" fill-opacity="0.49" stroke-opacity="0.49"/>
<circle cx="219.2" cy="206.4" r="2.5" fill="#46337f" stroke="#46337f" fill-opacity="0.49" stroke-opacity="0.49"/>
<circle cx="247.1" cy="109.8" r="2.5" fill="#424186" stroke="#424186" fill-opacity="0.49" stroke-opacity="0.49"/>
<circle cx="268.8" cy="220.3" r="2.5" fill="#453781" stroke="#453781" fill-opacity="0.49" stroke-opacity="0.49"/>
<circle cx="115.3" cy="192.9" r="2.5" fill="#3e4c8a" stroke="#3e4c8a" fill-opacity="0.49" stroke-opacity="0.49"/>
<circle cx="343.8" cy="220.5" r="2.5" fill="#414287" stroke="#414287" fill-opacity="0.49" stroke-opacity="0.49"/>
<circle cx="369.3" cy="206.8" r="2.5" fill="#3c4f8a" stroke="#3c4f8a" fill-opacity="0.49" stroke-opacity="0.49"/>
<circle cx="368" cy="248.2" r="2.5" fill="#3e4989" stroke="#3e4989" fill-opacity="0.49" stroke-opacity="0.49"/>
<circle cx="192.8" cy="110.2" r="2.5" fill="#3a548c" stroke="#3a548c" fill-opacity="0.49" stroke-opacity="0.49"/>
<circle cx="350.7" cy="270.5" r="2.5" fill="#fde725" stroke="#fde725" fill-opacity="0.49" stroke-opacity="0.49"/>
<circle cx="313.8" cy="248.7" r="2.5" fill="#404588" stroke="#404588" fill-opacity="0.49" stroke-opacity="0.49"/>
<circle cx="138.5" cy="110.6" r="2.5" fill="#38598c" stroke="#38598c" fill-opacity="0.5" stroke-opacity="0.5"/>
<circle cx="92" cy="271.1" r="2.5" fill="#fde725" stroke="#fde725" fill-opacity="0.5" stroke-opacity="0.5"/>
<circle cx="237.8" cy="138.5" r="2.5" fill="#472d7b" stroke="#472d7b" fill-opacity="0.5" stroke-opacity="0.5"/>
<circle cx="371.5" cy="271.2" r="2.5" fill="#fde725" stroke="#fde725" fill-opacity="0.5" stroke-opacity="0.5"/>
<circle cx="259.5" cy="249.1" r="2.5" fill="#414287" stroke="#414287" fill-opacity="0.5" stroke-opacity="0.5"/>
<circle cx="337.1" cy="166.4" r="2.5" fill="#424086" stroke="#424086" fill-opacity="0.5" stroke-opacity="0.5"/>
<circle cx="335.9" cy="207.8" r="2.5" fill="#433d84" stroke="#433d84" fill-opacity="0.5" stroke-opacity="0.5"/>
<circle cx="334.6" cy="249.3" r="2.5" fill="#424086" stroke="#424086" fill-opacity="0.5" stroke-opacity="0.5"/>
<circle cx="361.3" cy="194.1" r="2.5" fill="#3d4e8a" stroke="#3d4e8a" fill-opacity="0.5" stroke-opacity="0.5"/>
<circle cx="385.5" cy="221.8" r="2.5" fill="#404688" stroke="#404688" fill-opacity="0.5" stroke-opacity="0.5"/>
<circle cx="183.5" cy="138.9" r="2.5" fill="#472d7b" stroke="#472d7b" fill-opacity="0.5" stroke-opacity="0.5"/>
<circle cx="317.3" cy="271.6" r="2.5" fill="#424186" stroke="#424186" fill-opacity="0.5" stroke-opacity="0.5"/>
<circle cx="392.4" cy="271.8" r="2.5" fill="#3c4f8a" stroke="#3c4f8a" fill-opacity="0.5" stroke-opacity="0.5"/>
<circle cx="282.8" cy="166.8" r="2.5" fill="#453882" stroke="#453882" fill-opacity="0.5" stroke-opacity="0.5"/>
<circle cx="331.2" cy="222.2" r="2.5" fill="#3a548c" stroke="#3a548c" fill-opacity="0.5" stroke-opacity="0.5"/>
<circle cx="355.5" cy="250" r="2.5" fill="#38588c" stroke="#38588c" fill-opacity="0.5" stroke-opacity="0.5"/>
<circle cx="206.8" cy="56.5" r="2.5" fill="#424086" stroke="#424086" fill-opacity="0.5" stroke-opacity="0.5"/>
<circle cx="338.1" cy="272.3" r="2.5" fill="#1e9c89" stroke="#1e9c89" fill-opacity="0.5" stroke-opacity="0.5"/>
<circle cx="228.5" cy="167.2" r="2.5" fill="#472e7c" stroke="#472e7c" fill-opacity="0.5" stroke-opacity="0.5"/>
<circle cx="327.9" cy="195.1" r="2.5" fill="#414287" stroke="#414287" fill-opacity="0.5" stroke-opacity="0.5"/>
<circle cx="152.4" cy="56.9" r="2.5" fill="#472a7a" stroke="#472a7a" fill-opacity="0.5" stroke-opacity="0.5"/>
<circle cx="352.1" cy="222.9" r="2.5" fill="#32648e" stroke="#32648e" fill-opacity="0.5" stroke-opacity="0.5"/>
<circle cx="377.6" cy="209.1" r="2.5" fill="#3e4a89" stroke="#3e4a89" fill-opacity="0.5" stroke-opacity="0.5"/>
<circle cx="376.3" cy="250.6" r="2.5" fill="#404588" stroke="#404588" fill-opacity="0.5" stroke-opacity="0.5"/>
<circle cx="359" cy="273" r="2.5" fill="#433d84" stroke="#433d84" fill-opacity="0.5" stroke-opacity="0.5"/>
<circle cx="273.5" cy="195.6" r="2.5" fill="#453781" stroke="#453781" fill-opacity="0.5" stroke-opacity="0.5"/>
<circle cx="323.2" cy="209.6" r="2.5" fill="#443983" stroke="#443983" fill-opacity="0.5" stroke-opacity="0.5"/>
<circle cx="322" cy="251.1" r="2.5" fill="#453781" stroke="#453781" fill-opacity="0.5" stroke-opacity="0.5"/>
<circle cx="197.4" cy="85.2" r="2.5" fill="#46307e" stroke="#46307e" fill-opacity="0.5" stroke-opacity="0.5"/>
<circle cx="304.6" cy="273.4" r="2.5" fill="#1e9c89" stroke="#1e9c89" fill-opacity="0.5" stroke-opacity="0.5"/>
<circle cx="219.2" cy="196" r="2.5" fill="#472a7a" stroke="#472a7a" fill-opacity="0.5" stroke-opacity="0.5"/>
<circle cx="268.9" cy="210" r="2.5" fill="#472f7d" stroke="#472f7d" fill-opacity="0.5" stroke-opacity="0.5"/>
<circle cx="296.9" cy="113.1" r="2.5" fill="#2f6b8e" stroke="#2f6b8e" fill-opacity="0.5" stroke-opacity="0.5"/>
<circle cx="318.6" cy="224" r="2.5" fill="#433d84" stroke="#433d84" fill-opacity="0.5" stroke-opacity="0.5"/>
<circle cx="345.3" cy="168.6" r="2.5" fill="#3f4788" stroke="#3f4788" fill-opacity="0.5" stroke-opacity="0.5"/>
<circle cx="143" cy="85.6" r="2.5" fill="#472d7b" stroke="#472d7b" fill-opacity="0.5" stroke-opacity="0.5"/>
<circle cx="344.1" cy="210.2" r="2.5" fill="#424086" stroke="#424086" fill-opacity="0.5" stroke-opacity="0.5"/>
<circle cx="342.9" cy="251.7" r="2.5" fill="#424086" stroke="#424086" fill-opacity="0.5" stroke-opacity="0.5"/>
<circle cx="369.6" cy="196.4" r="2.5" fill="#3e4989" stroke="#3e4989" fill-opacity="0.5" stroke-opacity="0.5"/>
<circle cx="325.5" cy="274.1" r="2.5" fill="#fde725" stroke="#fde725" fill-opacity="0.5" stroke-opacity="0.5"/>
<circle cx="242.5" cy="113.6" r="2.5" fill="#46307e" stroke="#46307e" fill-opacity="0.5" stroke-opacity="0.5"/>
<circle cx="264.3" cy="224.4" r="2.5" fill="#472f7d" stroke="#472f7d" fill-opacity="0.5" stroke-opacity="0.5"/>
<circle cx="195.9" cy="274.4" r="2.5" fill="#fde725" stroke="#fde725" fill-opacity="0.5" stroke-opacity="0.5"/>
<circle cx="339.5" cy="224.6" r="2.5" fill="#365c8d" stroke="#365c8d" fill-opacity="0.5" stroke-opacity="0.5"/>
<circle cx="363.8" cy="252.4" r="2.5" fill="#414487" stroke="#414487" fill-opacity="0.51" stroke-opacity="0.51"/>
<circle cx="188.1" cy="114" r="2.5" fill="#453581" stroke="#453581" fill-opacity="0.51" stroke-opacity="0.51"/>
<circle cx="346.4" cy="274.8" r="2.5" fill="#fde725" stroke="#fde725" fill-opacity="0.51" stroke-opacity="0.51"/>
<circle cx="287.6" cy="141.9" r="2.5" fill="#46337f" stroke="#46337f" fill-opacity="0.51" stroke-opacity="0.51"/>
<circle cx="309.4" cy="252.8" r="2.5" fill="#414487" stroke="#414487" fill-opacity="0.51" stroke-opacity="0.51"/>
<circle cx="336.1" cy="197.5" r="2.5" fill="#414487" stroke="#414487" fill-opacity="0.51" stroke-opacity="0.51"/>
<circle cx="360.4" cy="225.3" r="2.5" fill="#414287" stroke="#414287" fill-opacity="0.51" stroke-opacity="0.51"/>
<circle cx="385.9" cy="211.5" r="2.5" fill="#404688" stroke="#404688" fill-opacity="0.51" stroke-opacity="0.51"/>
<circle cx="155.4" cy="225.3" r="2.5" fill="#46307e" stroke="#46307e" fill-opacity="0.51" stroke-opacity="0.51"/>
<circle cx="233.2" cy="142.4" r="2.5" fill="#472c7a" stroke="#472c7a" fill-opacity="0.51" stroke-opacity="0.51"/>
<circle cx="367.3" cy="275.4" r="2.5" fill="#39568c" stroke="#39568c" fill-opacity="0.51" stroke-opacity="0.51"/>
<circle cx="331.5" cy="211.9" r="2.5" fill="#39568c" stroke="#39568c" fill-opacity="0.51" stroke-opacity="0.51"/>
<circle cx="330.3" cy="253.5" r="2.5" fill="#404588" stroke="#404588" fill-opacity="0.51" stroke-opacity="0.51"/>
<circle cx="178.7" cy="142.8" r="2.5" fill="#472c7a" stroke="#472c7a" fill-opacity="0.51" stroke-opacity="0.51"/>
<circle cx="312.8" cy="275.9" r="2.5" fill="#33638d" stroke="#33638d" fill-opacity="0.51" stroke-opacity="0.51"/>
<circle cx="256.5" cy="59.8" r="2.5" fill="#463480" stroke="#463480" fill-opacity="0.51" stroke-opacity="0.51"/>
<circle cx="388.2" cy="276.1" r="2.5" fill="#fde725" stroke="#fde725" fill-opacity="0.51" stroke-opacity="0.51"/>
<circle cx="278.3" cy="170.8" r="2.5" fill="#433e85" stroke="#433e85" fill-opacity="0.51" stroke-opacity="0.51"/>
<circle cx="326.9" cy="226.4" r="2.5" fill="#423f85" stroke="#423f85" fill-opacity="0.51" stroke-opacity="0.51"/>
<circle cx="353.6" cy="170.9" r="2.5" fill="#424086" stroke="#424086" fill-opacity="0.51" stroke-opacity="0.51"/>
<circle cx="352.4" cy="212.5" r="2.5" fill="#433e85" stroke="#433e85" fill-opacity="0.51" stroke-opacity="0.51"/>
<circle cx="351.2" cy="254.2" r="2.5" fill="#433e85" stroke="#433e85" fill-opacity="0.51" stroke-opacity="0.51"/>
<circle cx="377.9" cy="198.7" r="2.5" fill="#3f4788" stroke="#3f4788" fill-opacity="0.51" stroke-opacity="0.51"/>
<circle cx="202" cy="60.2" r="2.5" fill="#463480" stroke="#463480" fill-opacity="0.51" stroke-opacity="0.51"/>
<circle cx="402.2" cy="226.5" r="2.5" fill="#3b518b" stroke="#3b518b" fill-opacity="0.51" stroke-opacity="0.51"/>
<circle cx="333.7" cy="276.5" r="2.5" fill="#39568c" stroke="#39568c" fill-opacity="0.51" stroke-opacity="0.51"/>
<circle cx="223.8" cy="171.2" r="2.5" fill="#433e85" stroke="#433e85" fill-opacity="0.51" stroke-opacity="0.51"/>
<circle cx="323.5" cy="199.2" r="2.5" fill="#453781" stroke="#453781" fill-opacity="0.51" stroke-opacity="0.51"/>
<circle cx="91.5" cy="254.7" r="2.5" fill="#482979" stroke="#482979" fill-opacity="0.51" stroke-opacity="0.51"/>
<circle cx="147.5" cy="60.6" r="2.5" fill="#453781" stroke="#453781" fill-opacity="0.51" stroke-opacity="0.51"/>
<circle cx="347.8" cy="227" r="2.5" fill="#453882" stroke="#453882" fill-opacity="0.51" stroke-opacity="0.51"/>
<circle cx="372.1" cy="254.8" r="2.5" fill="#39568c" stroke="#39568c" fill-opacity="0.51" stroke-opacity="0.51"/>
<circle cx="247.2" cy="88.5" r="2.5" fill="#443b84" stroke="#443b84" fill-opacity="0.51" stroke-opacity="0.51"/>
<circle cx="354.7" cy="277.2" r="2.5" fill="#fde725" stroke="#fde725" fill-opacity="0.51" stroke-opacity="0.51"/>
<circle cx="269" cy="199.6" r="2.5" fill="#46307e" stroke="#46307e" fill-opacity="0.51" stroke-opacity="0.51"/>
<circle cx="318.8" cy="213.6" r="2.5" fill="#404588" stroke="#404588" fill-opacity="0.51" stroke-opacity="0.51"/>
<circle cx="317.6" cy="255.3" r="2.5" fill="#3c4f8a" stroke="#3c4f8a" fill-opacity="0.51" stroke-opacity="0.51"/>
<circle cx="114.8" cy="172.1" r="2.5" fill="#482576" stroke="#482576" fill-opacity="0.51" stroke-opacity="0.51"/>
<circle cx="344.4" cy="199.8" r="2.5" fill="#424086" stroke="#424086" fill-opacity="0.51" stroke-opacity="0.51"/>
<circle cx="368.7" cy="227.6" r="2.5" fill="#3f4788" stroke="#3f4788" fill-opacity="0.51" stroke-opacity="0.51"/>
<circle cx="192.7" cy="89" r="2.5" fill="#39558c" stroke="#39558c" fill-opacity="0.51" stroke-opacity="0.51"/>
<circle cx="393" cy="255.5" r="2.5" fill="#2e6f8e" stroke="#2e6f8e" fill-opacity="0.51" stroke-opacity="0.51"/>
<circle cx="300.2" cy="277.7" r="2.5" fill="#fde725" stroke="#fde725" fill-opacity="0.51" stroke-opacity="0.51"/>
<circle cx="264.4" cy="214.1" r="2.5" fill="#46307e" stroke="#46307e" fill-opacity="0.51" stroke-opacity="0.51"/>
<circle cx="314.2" cy="228.1" r="2.5" fill="#423f85" stroke="#423f85" fill-opacity="0.51" stroke-opacity="0.51"/>
<circle cx="138.1" cy="89.4" r="2.5" fill="#482677" stroke="#482677" fill-opacity="0.51" stroke-opacity="0.51"/>
<circle cx="339.8" cy="214.3" r="2.5" fill="#453882" stroke="#453882" fill-opacity="0.51" stroke-opacity="0.51"/>
<circle cx="338.5" cy="255.9" r="2.5" fill="#32648e" stroke="#32648e" fill-opacity="0.51" stroke-opacity="0.51"/>
<circle cx="321.1" cy="278.3" r="2.5" fill="#3c508b" stroke="#3c508b" fill-opacity="0.52" stroke-opacity="0.52"/>
<circle cx="237.9" cy="117.4" r="2.5" fill="#46327e" stroke="#46327e" fill-opacity="0.52" stroke-opacity="0.52"/>
<circle cx="259.7" cy="228.5" r="2.5" fill="#472d7b" stroke="#472d7b" fill-opacity="0.52" stroke-opacity="0.52"/>
<circle cx="337.6" cy="145.4" r="2.5" fill="#3b518b" stroke="#3b518b" fill-opacity="0.52" stroke-opacity="0.52"/>
<circle cx="335.1" cy="228.7" r="2.5" fill="#3f4889" stroke="#3f4889" fill-opacity="0.52" stroke-opacity="0.52"/>
<circle cx="361.9" cy="173.2" r="2.5" fill="#414487" stroke="#414487" fill-opacity="0.52" stroke-opacity="0.52"/>
<circle cx="360.7" cy="214.9" r="2.5" fill="#423f85" stroke="#423f85" fill-opacity="0.52" stroke-opacity="0.52"/>
<circle cx="359.5" cy="256.6" r="2.5" fill="#404688" stroke="#404688" fill-opacity="0.52" stroke-opacity="0.52"/>
<circle cx="386.3" cy="201.1" r="2.5" fill="#306a8e" stroke="#306a8e" fill-opacity="0.52" stroke-opacity="0.52"/>
<circle cx="155.3" cy="215" r="2.5" fill="#472f7d" stroke="#472f7d" fill-opacity="0.52" stroke-opacity="0.52"/>
<circle cx="183.3" cy="117.8" r="2.5" fill="#46307e" stroke="#46307e" fill-opacity="0.52" stroke-opacity="0.52"/>
<circle cx="342" cy="279" r="2.5" fill="#433e85" stroke="#433e85" fill-opacity="0.52" stroke-opacity="0.52"/>
<circle cx="283.1" cy="145.8" r="2.5" fill="#443b84" stroke="#443b84" fill-opacity="0.52" stroke-opacity="0.52"/>
<circle cx="304.9" cy="257" r="2.5" fill="#375b8d" stroke="#375b8d" fill-opacity="0.52" stroke-opacity="0.52"/>
<circle cx="331.7" cy="201.5" r="2.5" fill="#3b518b" stroke="#3b518b" fill-opacity="0.52" stroke-opacity="0.52"/>
<circle cx="356.1" cy="229.4" r="2.5" fill="#423f85" stroke="#423f85" fill-opacity="0.52" stroke-opacity="0.52"/>
<circle cx="228.5" cy="146.3" r="2.5" fill="#39568c" stroke="#39568c" fill-opacity="0.52" stroke-opacity="0.52"/>
<circle cx="363" cy="279.7" r="2.5" fill="#3e4989" stroke="#3e4989" fill-opacity="0.52" stroke-opacity="0.52"/>
<circle cx="328.3" cy="174.3" r="2.5" fill="#423f85" stroke="#423f85" fill-opacity="0.52" stroke-opacity="0.52"/>
<circle cx="327.1" cy="216" r="2.5" fill="#33638d" stroke="#33638d" fill-opacity="0.52" stroke-opacity="0.52"/>
<circle cx="325.9" cy="257.7" r="2.5" fill="#414487" stroke="#414487" fill-opacity="0.52" stroke-opacity="0.52"/>
<circle cx="352.7" cy="202.2" r="2.5" fill="#424186" stroke="#424186" fill-opacity="0.52" stroke-opacity="0.52"/>
<circle cx="377" cy="230" r="2.5" fill="#404588" stroke="#404588" fill-opacity="0.52" stroke-opacity="0.52"/>
<circle cx="402.6" cy="216.2" r="2.5" fill="#39558c" stroke="#39558c" fill-opacity="0.52" stroke-opacity="0.52"/>
<circle cx="308.4" cy="280.1" r="2.5" fill="#fde725" stroke="#fde725" fill-opacity="0.52" stroke-opacity="0.52"/>
<circle cx="195.8" cy="258" r="2.5" fill="#453581" stroke="#453581" fill-opacity="0.52" stroke-opacity="0.52"/>
<circle cx="383.9" cy="280.3" r="2.5" fill="#3e4989" stroke="#3e4989" fill-opacity="0.52" stroke-opacity="0.52"/>
<circle cx="273.8" cy="174.7" r="2.5" fill="#472d7b" stroke="#472d7b" fill-opacity="0.52" stroke-opacity="0.52"/>
<circle cx="322.5" cy="230.5" r="2.5" fill="#3d4e8a" stroke="#3d4e8a" fill-opacity="0.52" stroke-opacity="0.52"/>
<circle cx="348.1" cy="216.6" r="2.5" fill="#453781" stroke="#453781" fill-opacity="0.52" stroke-opacity="0.52"/>
<circle cx="346.8" cy="258.4" r="2.5" fill="#423f85" stroke="#423f85" fill-opacity="0.52" stroke-opacity="0.52"/>
<circle cx="197.3" cy="63.8" r="2.5" fill="#3b518b" stroke="#3b518b" fill-opacity="0.52" stroke-opacity="0.52"/>
<circle cx="329.4" cy="280.8" r="2.5" fill="#fde725" stroke="#fde725" fill-opacity="0.52" stroke-opacity="0.52"/>
<circle cx="219.2" cy="175.2" r="2.5" fill="#472d7b" stroke="#472d7b" fill-opacity="0.52" stroke-opacity="0.52"/>
<circle cx="297.2" cy="91.9" r="2.5" fill="#404688" stroke="#404688" fill-opacity="0.52" stroke-opacity="0.52"/>
<circle cx="319.1" cy="203.2" r="2.5" fill="#424086" stroke="#424086" fill-opacity="0.52" stroke-opacity="0.52"/>
<circle cx="345.9" cy="147.7" r="2.5" fill="#414287" stroke="#414287" fill-opacity="0.52" stroke-opacity="0.52"/>
<circle cx="142.7" cy="64.3" r="2.5" fill="#482979" stroke="#482979" fill-opacity="0.52" stroke-opacity="0.52"/>
<circle cx="343.4" cy="231.1" r="2.5" fill="#404688" stroke="#404688" fill-opacity="0.52" stroke-opacity="0.52"/>
<circle cx="370.3" cy="175.5" r="2.5" fill="#3f4889" stroke="#3f4889" fill-opacity="0.52" stroke-opacity="0.52"/>
<circle cx="369" cy="217.3" r="2.5" fill="#39568c" stroke="#39568c" fill-opacity="0.52" stroke-opacity="0.52"/>
<circle cx="367.8" cy="259" r="2.5" fill="#3e4c8a" stroke="#3e4c8a" fill-opacity="0.52" stroke-opacity="0.52"/>
<circle cx="242.6" cy="92.3" r="2.5" fill="#472e7c" stroke="#472e7c" fill-opacity="0.52" stroke-opacity="0.52"/>
<circle cx="350.3" cy="281.5" r="2.5" fill="#fde725" stroke="#fde725" fill-opacity="0.52" stroke-opacity="0.52"/>
<circle cx="264.4" cy="203.7" r="2.5" fill="#472c7a" stroke="#472c7a" fill-opacity="0.52" stroke-opacity="0.52"/>
<circle cx="314.4" cy="217.7" r="2.5" fill="#31668e" stroke="#31668e" fill-opacity="0.52" stroke-opacity="0.52"/>
<circle cx="313.2" cy="259.5" r="2.5" fill="#453581" stroke="#453581" fill-opacity="0.52" stroke-opacity="0.52"/>
<circle cx="340" cy="203.9" r="2.5" fill="#404588" stroke="#404588" fill-opacity="0.52" stroke-opacity="0.52"/>
<circle cx="364.4" cy="231.8" r="2.5" fill="#404588" stroke="#404588" fill-opacity="0.52" stroke-opacity="0.52"/>
<circle cx="187.9" cy="92.7" r="2.5" fill="#482878" stroke="#482878" fill-opacity="0.52" stroke-opacity="0.52"/>
<circle cx="388.8" cy="259.7" r="2.5" fill="#414487" stroke="#414487" fill-opacity="0.52" stroke-opacity="0.52"/>
<circle cx="259.8" cy="218.2" r="2.5" fill="#423f85" stroke="#423f85" fill-opacity="0.53" stroke-opacity="0.53"/>
<circle cx="287.9" cy="120.8" r="2.5" fill="#453781" stroke="#453781" fill-opacity="0.53" stroke-opacity="0.53"/>
<circle cx="309.8" cy="232.2" r="2.5" fill="#46327e" stroke="#46327e" fill-opacity="0.53" stroke-opacity="0.53"/>
<circle cx="336.6" cy="176.6" r="2.5" fill="#3d4d8a" stroke="#3d4d8a" fill-opacity="0.53" stroke-opacity="0.53"/>
<circle cx="335.4" cy="218.4" r="2.5" fill="#424186" stroke="#424186" fill-opacity="0.53" stroke-opacity="0.53"/>
<circle cx="334.1" cy="260.1" r="2.5" fill="#453781" stroke="#453781" fill-opacity="0.53" stroke-opacity="0.53"/>
<circle cx="361" cy="204.5" r="2.5" fill="#32658e" stroke="#32658e" fill-opacity="0.53" stroke-opacity="0.53"/>
<circle cx="155.1" cy="204.6" r="2.5" fill="#482576" stroke="#482576" fill-opacity="0.53" stroke-opacity="0.53"/>
<circle cx="316.7" cy="282.6" r="2.5" fill="#fde725" stroke="#fde725" fill-opacity="0.53" stroke-opacity="0.53"/>
<circle cx="233.2" cy="121.2" r="2.5" fill="#3a548c" stroke="#3a548c" fill-opacity="0.53" stroke-opacity="0.53"/>
<circle cx="330.7" cy="232.9" r="2.5" fill="#3f4889" stroke="#3f4889" fill-opacity="0.53" stroke-opacity="0.53"/>
<circle cx="356.4" cy="219" r="2.5" fill="#3e4989" stroke="#3e4989" fill-opacity="0.53" stroke-opacity="0.53"/>
<circle cx="355.1" cy="260.8" r="2.5" fill="#3d4d8a" stroke="#3d4d8a" fill-opacity="0.53" stroke-opacity="0.53"/>
<circle cx="178.5" cy="121.6" r="2.5" fill="#443a83" stroke="#443a83" fill-opacity="0.53" stroke-opacity="0.53"/>
<circle cx="337.7" cy="283.3" r="2.5" fill="#fde725" stroke="#fde725" fill-opacity="0.53" stroke-opacity="0.53"/>
<circle cx="131.6" cy="283.4" r="2.5" fill="#3e4c8a" stroke="#3e4c8a" fill-opacity="0.53" stroke-opacity="0.53"/>
<circle cx="278.6" cy="149.7" r="2.5" fill="#453781" stroke="#453781" fill-opacity="0.53" stroke-opacity="0.53"/>
<circle cx="300.5" cy="261.3" r="2.5" fill="#46307e" stroke="#46307e" fill-opacity="0.53" stroke-opacity="0.53"/>
<circle cx="327.3" cy="205.6" r="2.5" fill="#3e4a89" stroke="#3e4a89" fill-opacity="0.53" stroke-opacity="0.53"/>
<circle cx="354.2" cy="149.9" r="2.5" fill="#38588c" stroke="#38588c" fill-opacity="0.53" stroke-opacity="0.53"/>
<circle cx="351.7" cy="233.5" r="2.5" fill="#443983" stroke="#443983" fill-opacity="0.53" stroke-opacity="0.53"/>
<circle cx="378.6" cy="177.8" r="2.5" fill="#3f4788" stroke="#3f4788" fill-opacity="0.53" stroke-opacity="0.53"/>
<circle cx="377.4" cy="219.7" r="2.5" fill="#424186" stroke="#424186" fill-opacity="0.53" stroke-opacity="0.53"/>
<circle cx="403" cy="205.8" r="2.5" fill="#3b518b" stroke="#3b518b" fill-opacity="0.53" stroke-opacity="0.53"/>
<circle cx="223.8" cy="150.2" r="2.5" fill="#472d7b" stroke="#472d7b" fill-opacity="0.53" stroke-opacity="0.53"/>
<circle cx="358.7" cy="284" r="2.5" fill="#fde725" stroke="#fde725" fill-opacity="0.53" stroke-opacity="0.53"/>
<circle cx="323.9" cy="178.3" r="2.5" fill="#3a548c" stroke="#3a548c" fill-opacity="0.53" stroke-opacity="0.53"/>
<circle cx="322.7" cy="220.1" r="2.5" fill="#453882" stroke="#453882" fill-opacity="0.53" stroke-opacity="0.53"/>
<circle cx="90.9" cy="234" r="2.5" fill="#472e7c" stroke="#472e7c" fill-opacity="0.53" stroke-opacity="0.53"/>
<circle cx="321.4" cy="261.9" r="2.5" fill="#3e4c8a" stroke="#3e4c8a" fill-opacity="0.53" stroke-opacity="0.53"/>
<circle cx="348.3" cy="206.2" r="2.5" fill="#433d84" stroke="#433d84" fill-opacity="0.53" stroke-opacity="0.53"/>
<circle cx="372.8" cy="234.2" r="2.5" fill="#3f4788" stroke="#3f4788" fill-opacity="0.53" stroke-opacity="0.53"/>
<circle cx="247.3" cy="67.1" r="2.5" fill="#472d7b" stroke="#472d7b" fill-opacity="0.53" stroke-opacity="0.53"/>
<circle cx="379.7" cy="284.6" r="2.5" fill="#26ad81" stroke="#26ad81" fill-opacity="0.53" stroke-opacity="0.53"/>
<circle cx="269.2" cy="178.7" r="2.5" fill="#3e4a89" stroke="#3e4a89" fill-opacity="0.53" stroke-opacity="0.53"/>
<circle cx="318" cy="234.6" r="2.5" fill="#3d4e8a" stroke="#3d4e8a" fill-opacity="0.53" stroke-opacity="0.53"/>
<circle cx="114.3" cy="151" r="2.5" fill="#472d7b" stroke="#472d7b" fill-opacity="0.53" stroke-opacity="0.53"/>
<circle cx="344.9" cy="178.9" r="2.5" fill="#3a548c" stroke="#3a548c" fill-opacity="0.53" stroke-opacity="0.53"/>
<circle cx="343.7" cy="220.7" r="2.5" fill="#424186" stroke="#424186" fill-opacity="0.53" stroke-opacity="0.53"/>
<circle cx="342.5" cy="262.6" r="2.5" fill="#3f4889" stroke="#3f4889" fill-opacity="0.53" stroke-opacity="0.53"/>
<circle cx="369.4" cy="206.9" r="2.5" fill="#404688" stroke="#404688" fill-opacity="0.53" stroke-opacity="0.53"/>
<circle cx="192.5" cy="67.5" r="2.5" fill="#453781" stroke="#453781" fill-opacity="0.53" stroke-opacity="0.53"/>
<circle cx="393.8" cy="234.8" r="2.5" fill="#3d4d8a" stroke="#3d4d8a" fill-opacity="0.53" stroke-opacity="0.53"/>
<circle cx="324.9" cy="285.1" r="2.5" fill="#fde725" stroke="#fde725" fill-opacity="0.53" stroke-opacity="0.53"/>
<circle cx="314.6" cy="207.3" r="2.5" fill="#453581" stroke="#453581" fill-opacity="0.53" stroke-opacity="0.53"/>
<circle cx="137.7" cy="68" r="2.5" fill="#482979" stroke="#482979" fill-opacity="0.53" stroke-opacity="0.53"/>
<circle cx="339.1" cy="235.3" r="2.5" fill="#453781" stroke="#453781" fill-opacity="0.53" stroke-opacity="0.53"/>
<circle cx="364.7" cy="221.4" r="2.5" fill="#404588" stroke="#404588" fill-opacity="0.53" stroke-opacity="0.53"/>
<circle cx="363.5" cy="263.2" r="2.5" fill="#433e85" stroke="#433e85" fill-opacity="0.53" stroke-opacity="0.53"/>
<circle cx="237.9" cy="96.1" r="2.5" fill="#453581" stroke="#453581" fill-opacity="0.54" stroke-opacity="0.54"/>
<circle cx="346" cy="285.8" r="2.5" fill="#404588" stroke="#404588" fill-opacity="0.54" stroke-opacity="0.54"/>
<circle cx="259.9" cy="207.8" r="2.5" fill="#3c4f8a" stroke="#3c4f8a" fill-opacity="0.54" stroke-opacity="0.54"/>
<circle cx="310" cy="221.8" r="2.5" fill="#453882" stroke="#453882" fill-opacity="0.54" stroke-opacity="0.54"/>
<circle cx="338.1" cy="124.2" r="2.5" fill="#3b518b" stroke="#3b518b" fill-opacity="0.54" stroke-opacity="0.54"/>
<circle cx="308.7" cy="263.7" r="2.5" fill="#453882" stroke="#453882" fill-opacity="0.54" stroke-opacity="0.54"/>
<circle cx="335.7" cy="208" r="2.5" fill="#443a83" stroke="#443a83" fill-opacity="0.54" stroke-opacity="0.54"/>
<circle cx="362.6" cy="152.2" r="2.5" fill="#3e4a89" stroke="#3e4a89" fill-opacity="0.54" stroke-opacity="0.54"/>
<circle cx="360.1" cy="235.9" r="2.5" fill="#423f85" stroke="#423f85" fill-opacity="0.54" stroke-opacity="0.54"/>
<circle cx="387" cy="180.2" r="2.5" fill="#355f8d" stroke="#355f8d" fill-opacity="0.54" stroke-opacity="0.54"/>
<circle cx="183.1" cy="96.5" r="2.5" fill="#472c7a" stroke="#472c7a" fill-opacity="0.54" stroke-opacity="0.54"/>
<circle cx="384.5" cy="263.9" r="2.5" fill="#3f4889" stroke="#3f4889" fill-opacity="0.54" stroke-opacity="0.54"/>
<circle cx="283.4" cy="124.6" r="2.5" fill="#33638d" stroke="#33638d" fill-opacity="0.54" stroke-opacity="0.54"/>
<circle cx="305.3" cy="236.4" r="2.5" fill="#46327e" stroke="#46327e" fill-opacity="0.54" stroke-opacity="0.54"/>
<circle cx="332.2" cy="180.6" r="2.5" fill="#404688" stroke="#404688" fill-opacity="0.54" stroke-opacity="0.54"/>
<circle cx="331" cy="222.5" r="2.5" fill="#443a83" stroke="#443a83" fill-opacity="0.54" stroke-opacity="0.54"/>
<circle cx="329.7" cy="264.4" r="2.5" fill="#424086" stroke="#424086" fill-opacity="0.54" stroke-opacity="0.54"/>
<circle cx="236.4" cy="286.7" r="2.5" fill="#424186" stroke="#424186" fill-opacity="0.54" stroke-opacity="0.54"/>
<circle cx="356.7" cy="208.6" r="2.5" fill="#3a538b" stroke="#3a538b" fill-opacity="0.54" stroke-opacity="0.54"/>
<circle cx="228.5" cy="125.1" r="2.5" fill="#414287" stroke="#414287" fill-opacity="0.54" stroke-opacity="0.54"/>
<circle cx="328.8" cy="153.2" r="2.5" fill="#443a83" stroke="#443a83" fill-opacity="0.54" stroke-opacity="0.54"/>
<circle cx="326.3" cy="237" r="2.5" fill="#472f7d" stroke="#472f7d" fill-opacity="0.54" stroke-opacity="0.54"/>
<circle cx="353.3" cy="181.2" r="2.5" fill="#423f85" stroke="#423f85" fill-opacity="0.54" stroke-opacity="0.54"/>
<circle cx="352" cy="223.1" r="2.5" fill="#443b84" stroke="#443b84" fill-opacity="0.54" stroke-opacity="0.54"/>
<circle cx="350.8" cy="265" r="2.5" fill="#3f4889" stroke="#3f4889" fill-opacity="0.54" stroke-opacity="0.54"/>
<circle cx="377.7" cy="209.2" r="2.5" fill="#3e4989" stroke="#3e4989" fill-opacity="0.54" stroke-opacity="0.54"/>
<circle cx="195.6" cy="237.3" r="2.5" fill="#472c7a" stroke="#472c7a" fill-opacity="0.54" stroke-opacity="0.54"/>
<circle cx="333.3" cy="287.6" r="2.5" fill="#fde725" stroke="#fde725" fill-opacity="0.54" stroke-opacity="0.54"/>
<circle cx="274" cy="153.7" r="2.5" fill="#404688" stroke="#404688" fill-opacity="0.54" stroke-opacity="0.54"/>
<circle cx="322.9" cy="209.7" r="2.5" fill="#453781" stroke="#453781" fill-opacity="0.54" stroke-opacity="0.54"/>
<circle cx="90.6" cy="223.7" r="2.5" fill="#482677" stroke="#482677" fill-opacity="0.54" stroke-opacity="0.54"/>
<circle cx="347.4" cy="237.7" r="2.5" fill="#453781" stroke="#453781" fill-opacity="0.54" stroke-opacity="0.54"/>
<circle cx="373.1" cy="223.8" r="2.5" fill="#414287" stroke="#414287" fill-opacity="0.54" stroke-opacity="0.54"/>
<circle cx="219.1" cy="154.1" r="2.5" fill="#414287" stroke="#414287" fill-opacity="0.54" stroke-opacity="0.54"/>
<circle cx="354.3" cy="288.3" r="2.5" fill="#fde725" stroke="#fde725" fill-opacity="0.54" stroke-opacity="0.54"/>
<circle cx="297.5" cy="70.4" r="2.5" fill="#423f85" stroke="#423f85" fill-opacity="0.54" stroke-opacity="0.54"/>
<circle cx="319.5" cy="182.3" r="2.5" fill="#423f85" stroke="#423f85" fill-opacity="0.54" stroke-opacity="0.54"/>
<circle cx="318.3" cy="224.2" r="2.5" fill="#46337f" stroke="#46337f" fill-opacity="0.54" stroke-opacity="0.54"/>
<circle cx="346.5" cy="126.5" r="2.5" fill="#433e85" stroke="#433e85" fill-opacity="0.54" stroke-opacity="0.54"/>
<circle cx="317" cy="266.2" r="2.5" fill="#404588" stroke="#404588" fill-opacity="0.54" stroke-opacity="0.54"/>
<circle cx="344" cy="210.3" r="2.5" fill="#453882" stroke="#453882" fill-opacity="0.54" stroke-opacity="0.54"/>
<circle cx="371" cy="154.5" r="2.5" fill="#414487" stroke="#414487" fill-opacity="0.54" stroke-opacity="0.54"/>
<circle cx="368.5" cy="238.3" r="2.5" fill="#424186" stroke="#424186" fill-opacity="0.54" stroke-opacity="0.54"/>
<circle cx="394.2" cy="224.4" r="2.5" fill="#404588" stroke="#404588" fill-opacity="0.54" stroke-opacity="0.54"/>
<circle cx="242.7" cy="70.9" r="2.5" fill="#46307e" stroke="#46307e" fill-opacity="0.54" stroke-opacity="0.54"/>
<circle cx="375.4" cy="288.9" r="2.5" fill="#fde725" stroke="#fde725" fill-opacity="0.54" stroke-opacity="0.54"/>
<circle cx="264.6" cy="182.7" r="2.5" fill="#482979" stroke="#482979" fill-opacity="0.54" stroke-opacity="0.54"/>
<circle cx="313.6" cy="238.8" r="2.5" fill="#472e7c" stroke="#472e7c" fill-opacity="0.54" stroke-opacity="0.54"/>
<circle cx="340.6" cy="182.9" r="2.5" fill="#3f4889" stroke="#3f4889" fill-opacity="0.54" stroke-opacity="0.54"/>
<circle cx="339.3" cy="224.9" r="2.5" fill="#443a83" stroke="#443a83" fill-opacity="0.54" stroke-opacity="0.54"/>
<circle cx="338.1" cy="266.8" r="2.5" fill="#453781" stroke="#453781" fill-opacity="0.54" stroke-opacity="0.54"/>
<circle cx="365.1" cy="211" r="2.5" fill="#424086" stroke="#424086" fill-opacity="0.54" stroke-opacity="0.54"/>
<circle cx="131.3" cy="266.9" r="2.5" fill="#482979" stroke="#482979" fill-opacity="0.54" stroke-opacity="0.54"/>
<circle cx="187.7" cy="71.3" r="2.5" fill="#482979" stroke="#482979" fill-opacity="0.54" stroke-opacity="0.54"/>
<circle cx="389.5" cy="239" r="2.5" fill="#30698e" stroke="#30698e" fill-opacity="0.54" stroke-opacity="0.54"/>
<circle cx="288.2" cy="99.5" r="2.5" fill="#414287" stroke="#414287" fill-opacity="0.55" stroke-opacity="0.55"/>
<circle cx="310.2" cy="211.4" r="2.5" fill="#3b518b" stroke="#3b518b" fill-opacity="0.55" stroke-opacity="0.55"/>
<circle cx="337.2" cy="155.5" r="2.5" fill="#3e4a89" stroke="#3e4a89" fill-opacity="0.55" stroke-opacity="0.55"/>
<circle cx="334.7" cy="239.5" r="2.5" fill="#3e4989" stroke="#3e4989" fill-opacity="0.55" stroke-opacity="0.55"/>
<circle cx="361.7" cy="183.6" r="2.5" fill="#414487" stroke="#414487" fill-opacity="0.55" stroke-opacity="0.55"/>
<circle cx="360.4" cy="225.5" r="2.5" fill="#443983" stroke="#443983" fill-opacity="0.55" stroke-opacity="0.55"/>
<circle cx="359.2" cy="267.5" r="2.5" fill="#3a548c" stroke="#3a548c" fill-opacity="0.55" stroke-opacity="0.55"/>
<circle cx="154.8" cy="183.6" r="2.5" fill="#482878" stroke="#482878" fill-opacity="0.55" stroke-opacity="0.55"/>
<circle cx="233.3" cy="99.9" r="2.5" fill="#46337f" stroke="#46337f" fill-opacity="0.55" stroke-opacity="0.55"/>
<circle cx="341.6" cy="290.1" r="2.5" fill="#fde725" stroke="#fde725" fill-opacity="0.55" stroke-opacity="0.55"/>
<circle cx="305.5" cy="226" r="2.5" fill="#2f6b8e" stroke="#2f6b8e" fill-opacity="0.55" stroke-opacity="0.55"/>
<circle cx="331.2" cy="212.1" r="2.5" fill="#433e85" stroke="#433e85" fill-opacity="0.55" stroke-opacity="0.55"/>
<circle cx="355.8" cy="240.1" r="2.5" fill="#39558c" stroke="#39558c" fill-opacity="0.55" stroke-opacity="0.55"/>
<circle cx="178.3" cy="100.3" r="2.5" fill="#453781" stroke="#453781" fill-opacity="0.55" stroke-opacity="0.55"/>
<circle cx="380.3" cy="268.2" r="2.5" fill="#fde725" stroke="#fde725" fill-opacity="0.55" stroke-opacity="0.55"/>
<circle cx="278.8" cy="128.5" r="2.5" fill="#463480" stroke="#463480" fill-opacity="0.55" stroke-opacity="0.55"/>
<circle cx="300.8" cy="240.6" r="2.5" fill="#443983" stroke="#443983" fill-opacity="0.55" stroke-opacity="0.55"/>
<circle cx="327.8" cy="184.6" r="2.5" fill="#443a83" stroke="#443a83" fill-opacity="0.55" stroke-opacity="0.55"/>
<circle cx="326.6" cy="226.6" r="2.5" fill="#433d84" stroke="#433d84" fill-opacity="0.55" stroke-opacity="0.55"/>
<circle cx="354.8" cy="128.7" r="2.5" fill="#404588" stroke="#404588" fill-opacity="0.55" stroke-opacity="0.55"/>
<circle cx="325.3" cy="268.6" r="2.5" fill="#423f85" stroke="#423f85" fill-opacity="0.55" stroke-opacity="0.55"/>
<circle cx="352.3" cy="212.7" r="2.5" fill="#424086" stroke="#424086" fill-opacity="0.55" stroke-opacity="0.55"/>
<circle cx="379.4" cy="156.8" r="2.5" fill="#404688" stroke="#404688" fill-opacity="0.55" stroke-opacity="0.55"/>
<circle cx="403.9" cy="184.8" r="2.5" fill="#375a8c" stroke="#375a8c" fill-opacity="0.55" stroke-opacity="0.55"/>
<circle cx="195.6" cy="226.9" r="2.5" fill="#482475" stroke="#482475" fill-opacity="0.55" stroke-opacity="0.55"/>
<circle cx="223.8" cy="129" r="2.5" fill="#472f7d" stroke="#472f7d" fill-opacity="0.55" stroke-opacity="0.55"/>
<circle cx="324.4" cy="157.2" r="2.5" fill="#463480" stroke="#463480" fill-opacity="0.55" stroke-opacity="0.55"/>
<circle cx="90.3" cy="213.2" r="2.5" fill="#472d7b" stroke="#472d7b" fill-opacity="0.55" stroke-opacity="0.55"/>
<circle cx="321.9" cy="241.2" r="2.5" fill="#453781" stroke="#453781" fill-opacity="0.55" stroke-opacity="0.55"/>
<circle cx="348.9" cy="185.3" r="2.5" fill="#424086" stroke="#424086" fill-opacity="0.55" stroke-opacity="0.55"/>
<circle cx="347.7" cy="227.3" r="2.5" fill="#423f85" stroke="#423f85" fill-opacity="0.55" stroke-opacity="0.55"/>
<circle cx="346.4" cy="269.3" r="2.5" fill="#423f85" stroke="#423f85" fill-opacity="0.55" stroke-opacity="0.55"/>
<circle cx="373.5" cy="213.3" r="2.5" fill="#3b518b" stroke="#3b518b" fill-opacity="0.55" stroke-opacity="0.55"/>
<circle cx="269.4" cy="157.6" r="2.5" fill="#433d84" stroke="#433d84" fill-opacity="0.55" stroke-opacity="0.55"/>
<circle cx="318.5" cy="213.8" r="2.5" fill="#3f4889" stroke="#3f4889" fill-opacity="0.55" stroke-opacity="0.55"/>
<circle cx="113.8" cy="129.8" r="2.5" fill="#481f70" stroke="#481f70" fill-opacity="0.55" stroke-opacity="0.55"/>
<circle cx="345.5" cy="157.8" r="2.5" fill="#404588" stroke="#404588" fill-opacity="0.55" stroke-opacity="0.55"/>
<circle cx="343" cy="241.9" r="2.5" fill="#443983" stroke="#443983" fill-opacity="0.55" stroke-opacity="0.55"/>
<circle cx="370" cy="185.9" r="2.5" fill="#3f4788" stroke="#3f4788" fill-opacity="0.55" stroke-opacity="0.55"/>
<circle cx="368.8" cy="227.9" r="2.5" fill="#414487" stroke="#414487" fill-opacity="0.55" stroke-opacity="0.55"/>
<circle cx="394.6" cy="214" r="2.5" fill="#3c4f8a" stroke="#3c4f8a" fill-opacity="0.55" stroke-opacity="0.55"/>
<circle cx="66.6" cy="292.5" r="2.5" fill="#fde725" stroke="#fde725" fill-opacity="0.55" stroke-opacity="0.55"/>
<circle cx="350" cy="292.6" r="2.5" fill="#433e85" stroke="#433e85" fill-opacity="0.55" stroke-opacity="0.55"/>
<circle cx="236.4" cy="270.2" r="2.5" fill="#46327e" stroke="#46327e" fill-opacity="0.55" stroke-opacity="0.55"/>
<circle cx="315.1" cy="186.3" r="2.5" fill="#414487" stroke="#414487" fill-opacity="0.55" stroke-opacity="0.55"/>
<circle cx="313.8" cy="228.4" r="2.5" fill="#424086" stroke="#424086" fill-opacity="0.55" stroke-opacity="0.55"/>
<circle cx="339.6" cy="214.4" r="2.5" fill="#38598c" stroke="#38598c" fill-opacity="0.55" stroke-opacity="0.55"/>
<circle cx="364.1" cy="242.5" r="2.5" fill="#365d8d" stroke="#365d8d" fill-opacity="0.55" stroke-opacity="0.55"/>
<circle cx="389.9" cy="228.6" r="2.5" fill="#32648e" stroke="#32648e" fill-opacity="0.55" stroke-opacity="0.55"/>
<circle cx="238" cy="74.6" r="2.5" fill="#472e7c" stroke="#472e7c" fill-opacity="0.56" stroke-opacity="0.56"/>
<circle cx="371.1" cy="293.3" r="2.5" fill="#3c508b" stroke="#3c508b" fill-opacity="0.56" stroke-opacity="0.56"/>
<circle cx="260" cy="186.8" r="2.5" fill="#453882" stroke="#453882" fill-opacity="0.56" stroke-opacity="0.56"/>
<circle cx="338.7" cy="102.9" r="2.5" fill="#3a548c" stroke="#3a548c" fill-opacity="0.56" stroke-opacity="0.56"/>
<circle cx="309.1" cy="243" r="2.5" fill="#472d7b" stroke="#472d7b" fill-opacity="0.56" stroke-opacity="0.56"/>
<circle cx="336.2" cy="187" r="2.5" fill="#414487" stroke="#414487" fill-opacity="0.56" stroke-opacity="0.56"/>
<circle cx="334.9" cy="229" r="2.5" fill="#463480" stroke="#463480" fill-opacity="0.56" stroke-opacity="0.56"/>
<circle cx="363.2" cy="131" r="2.5" fill="#3e4a89" stroke="#3e4a89" fill-opacity="0.56" stroke-opacity="0.56"/>
<circle cx="333.7" cy="271.1" r="2.5" fill="#3e4c8a" stroke="#3e4c8a" fill-opacity="0.56" stroke-opacity="0.56"/>
<circle cx="360.7" cy="215.1" r="2.5" fill="#404588" stroke="#404588" fill-opacity="0.56" stroke-opacity="0.56"/>
<circle cx="387.8" cy="159.1" r="2.5" fill="#3e4a89" stroke="#3e4a89" fill-opacity="0.56" stroke-opacity="0.56"/>
<circle cx="182.9" cy="75" r="2.5" fill="#472d7b" stroke="#472d7b" fill-opacity="0.56" stroke-opacity="0.56"/>
<circle cx="385.3" cy="243.2" r="2.5" fill="#3a548c" stroke="#3a548c" fill-opacity="0.56" stroke-opacity="0.56"/>
<circle cx="283.6" cy="103.3" r="2.5" fill="#472e7c" stroke="#472e7c" fill-opacity="0.56" stroke-opacity="0.56"/>
<circle cx="305.7" cy="215.5" r="2.5" fill="#46327e" stroke="#46327e" fill-opacity="0.56" stroke-opacity="0.56"/>
<circle cx="332.7" cy="159.5" r="2.5" fill="#453781" stroke="#453781" fill-opacity="0.56" stroke-opacity="0.56"/>
<circle cx="330.2" cy="243.6" r="2.5" fill="#46307e" stroke="#46307e" fill-opacity="0.56" stroke-opacity="0.56"/>
<circle cx="357.3" cy="187.6" r="2.5" fill="#3e4a89" stroke="#3e4a89" fill-opacity="0.56" stroke-opacity="0.56"/>
<circle cx="356.1" cy="229.7" r="2.5" fill="#443b84" stroke="#443b84" fill-opacity="0.56" stroke-opacity="0.56"/>
<circle cx="354.8" cy="271.8" r="2.5" fill="#3f4788" stroke="#3f4788" fill-opacity="0.56" stroke-opacity="0.56"/>
<circle cx="228.6" cy="103.7" r="2.5" fill="#472d7b" stroke="#472d7b" fill-opacity="0.56" stroke-opacity="0.56"/>
<circle cx="301" cy="230.1" r="2.5" fill="#453581" stroke="#453581" fill-opacity="0.56" stroke-opacity="0.56"/>
<circle cx="329.3" cy="132" r="2.5" fill="#453581" stroke="#453581" fill-opacity="0.56" stroke-opacity="0.56"/>
<circle cx="326.8" cy="216.2" r="2.5" fill="#433d84" stroke="#433d84" fill-opacity="0.56" stroke-opacity="0.56"/>
<circle cx="353.9" cy="160.1" r="2.5" fill="#3f4889" stroke="#3f4889" fill-opacity="0.56" stroke-opacity="0.56"/>
<circle cx="351.4" cy="244.3" r="2.5" fill="#3e4a89" stroke="#3e4a89" fill-opacity="0.56" stroke-opacity="0.56"/>
<circle cx="378.5" cy="188.2" r="2.5" fill="#355f8d" stroke="#355f8d" fill-opacity="0.56" stroke-opacity="0.56"/>
<circle cx="376" cy="272.4" r="2.5" fill="#424086" stroke="#424086" fill-opacity="0.56" stroke-opacity="0.56"/>
<circle cx="195.5" cy="216.4" r="2.5" fill="#482374" stroke="#482374" fill-opacity="0.56" stroke-opacity="0.56"/>
<circle cx="274.2" cy="132.4" r="2.5" fill="#472d7b" stroke="#472d7b" fill-opacity="0.56" stroke-opacity="0.56"/>
<circle cx="323.4" cy="188.7" r="2.5" fill="#463480" stroke="#463480" fill-opacity="0.56" stroke-opacity="0.56"/>
<circle cx="322.1" cy="230.8" r="2.5" fill="#414287" stroke="#414287" fill-opacity="0.56" stroke-opacity="0.56"/>
<circle cx="348" cy="216.8" r="2.5" fill="#463480" stroke="#463480" fill-opacity="0.56" stroke-opacity="0.56"/>
<circle cx="219.1" cy="132.9" r="2.5" fill="#453581" stroke="#453581" fill-opacity="0.56" stroke-opacity="0.56"/>
<circle cx="171.9" cy="295.8" r="2.5" fill="#fde725" stroke="#fde725" fill-opacity="0.56" stroke-opacity="0.56"/>
<circle cx="320" cy="161.2" r="2.5" fill="#453882" stroke="#453882" fill-opacity="0.56" stroke-opacity="0.56"/>
<circle cx="347.1" cy="105.1" r="2.5" fill="#38588c" stroke="#38588c" fill-opacity="0.56" stroke-opacity="0.56"/>
<circle cx="317.4" cy="245.4" r="2.5" fill="#463480" stroke="#463480" fill-opacity="0.56" stroke-opacity="0.56"/>
<circle cx="344.5" cy="189.3" r="2.5" fill="#433d84" stroke="#433d84" fill-opacity="0.56" stroke-opacity="0.56"/>
<circle cx="343.3" cy="231.5" r="2.5" fill="#453581" stroke="#453581" fill-opacity="0.56" stroke-opacity="0.56"/>
<circle cx="371.6" cy="133.2" r="2.5" fill="#32648e" stroke="#32648e" fill-opacity="0.56" stroke-opacity="0.56"/>
<circle cx="342" cy="273.6" r="2.5" fill="#443b84" stroke="#443b84" fill-opacity="0.56" stroke-opacity="0.56"/>
<circle cx="369.1" cy="217.5" r="2.5" fill="#424086" stroke="#424086" fill-opacity="0.56" stroke-opacity="0.56"/>
<circle cx="264.8" cy="161.6" r="2.5" fill="#46337f" stroke="#46337f" fill-opacity="0.56" stroke-opacity="0.56"/>
<circle cx="314" cy="217.9" r="2.5" fill="#443b84" stroke="#443b84" fill-opacity="0.56" stroke-opacity="0.56"/>
<circle cx="341.1" cy="161.8" r="2.5" fill="#443a83" stroke="#443a83" fill-opacity="0.56" stroke-opacity="0.56"/>
<circle cx="338.6" cy="246.1" r="2.5" fill="#3d4d8a" stroke="#3d4d8a" fill-opacity="0.56" stroke-opacity="0.56"/>
<circle cx="365.7" cy="190" r="2.5" fill="#443a83" stroke="#443a83" fill-opacity="0.56" stroke-opacity="0.56"/>
<circle cx="364.5" cy="232.1" r="2.5" fill="#423f85" stroke="#423f85" fill-opacity="0.56" stroke-opacity="0.56"/>
<circle cx="130.8" cy="246.2" r="2.5" fill="#472f7d" stroke="#472f7d" fill-opacity="0.56" stroke-opacity="0.56"/>
<circle cx="390.3" cy="218.1" r="2.5" fill="#414287" stroke="#414287" fill-opacity="0.56" stroke-opacity="0.56"/>
<circle cx="288.5" cy="77.9" r="2.5" fill="#443983" stroke="#443983" fill-opacity="0.57" stroke-opacity="0.57"/>
<circle cx="310.6" cy="190.4" r="2.5" fill="#443a83" stroke="#443a83" fill-opacity="0.57" stroke-opacity="0.57"/>
<circle cx="309.3" cy="232.6" r="2.5" fill="#453581" stroke="#453581" fill-opacity="0.57" stroke-opacity="0.57"/>
<circle cx="337.7" cy="134.3" r="2.5" fill="#424086" stroke="#424086" fill-opacity="0.57" stroke-opacity="0.57"/>
<circle cx="335.2" cy="218.6" r="2.5" fill="#443983" stroke="#443983" fill-opacity="0.57" stroke-opacity="0.57"/>
<circle cx="362.3" cy="162.4" r="2.5" fill="#3d4e8a" stroke="#3d4e8a" fill-opacity="0.57" stroke-opacity="0.57"/>
<circle cx="359.8" cy="246.7" r="2.5" fill="#443983" stroke="#443983" fill-opacity="0.57" stroke-opacity="0.57"/>
<circle cx="154.5" cy="162.5" r="2.5" fill="#482374" stroke="#482374" fill-opacity="0.57" stroke-opacity="0.57"/>
<circle cx="385.7" cy="232.8" r="2.5" fill="#424186" stroke="#424186" fill-opacity="0.57" stroke-opacity="0.57"/>
<circle cx="233.3" cy="78.3" r="2.5" fill="#463480" stroke="#463480" fill-opacity="0.57" stroke-opacity="0.57"/>
<circle cx="366.8" cy="297.6" r="2.5" fill="#fde725" stroke="#fde725" fill-opacity="0.57" stroke-opacity="0.57"/>
<circle cx="331.7" cy="191" r="2.5" fill="#443b84" stroke="#443b84" fill-opacity="0.57" stroke-opacity="0.57"/>
<circle cx="330.5" cy="233.2" r="2.5" fill="#46327e" stroke="#46327e" fill-opacity="0.57" stroke-opacity="0.57"/>
<circle cx="356.4" cy="219.2" r="2.5" fill="#433d84" stroke="#433d84" fill-opacity="0.57" stroke-opacity="0.57"/>
<circle cx="178.1" cy="78.8" r="2.5" fill="#404588" stroke="#404588" fill-opacity="0.57" stroke-opacity="0.57"/>
<circle cx="381" cy="247.4" r="2.5" fill="#424186" stroke="#424186" fill-opacity="0.57" stroke-opacity="0.57"/>
<circle cx="279.1" cy="107.1" r="2.5" fill="#472f7d" stroke="#472f7d" fill-opacity="0.57" stroke-opacity="0.57"/>
<circle cx="301.2" cy="219.7" r="2.5" fill="#424186" stroke="#424186" fill-opacity="0.57" stroke-opacity="0.57"/>
<circle cx="328.3" cy="163.5" r="2.5" fill="#414287" stroke="#414287" fill-opacity="0.57" stroke-opacity="0.57"/>
<circle cx="66" cy="275.9" r="2.5" fill="#463480" stroke="#463480" fill-opacity="0.57" stroke-opacity="0.57"/>
<circle cx="355.5" cy="107.3" r="2.5" fill="#3d4d8a" stroke="#3d4d8a" fill-opacity="0.57" stroke-opacity="0.57"/>
<circle cx="325.8" cy="247.9" r="2.5" fill="#453781" stroke="#453781" fill-opacity="0.57" stroke-opacity="0.57"/>
<circle cx="352.9" cy="191.7" r="2.5" fill="#3f4889" stroke="#3f4889" fill-opacity="0.57" stroke-opacity="0.57"/>
<circle cx="351.7" cy="233.9" r="2.5" fill="#443b84" stroke="#443b84" fill-opacity="0.57" stroke-opacity="0.57"/>
<circle cx="380.1" cy="135.5" r="2.5" fill="#355f8d" stroke="#355f8d" fill-opacity="0.57" stroke-opacity="0.57"/>
<circle cx="350.4" cy="276.1" r="2.5" fill="#433d84" stroke="#433d84" fill-opacity="0.57" stroke-opacity="0.57"/>
<circle cx="404.7" cy="163.7" r="2.5" fill="#38588c" stroke="#38588c" fill-opacity="0.57" stroke-opacity="0.57"/>
<circle cx="223.8" cy="107.5" r="2.5" fill="#472c7a" stroke="#472c7a" fill-opacity="0.57" stroke-opacity="0.57"/>
<circle cx="324.9" cy="135.9" r="2.5" fill="#3e4a89" stroke="#3e4a89" fill-opacity="0.57" stroke-opacity="0.57"/>
<circle cx="89.7" cy="192.2" r="2.5" fill="#424086" stroke="#424086" fill-opacity="0.57" stroke-opacity="0.57"/>
<circle cx="322.4" cy="220.3" r="2.5" fill="#433d84" stroke="#433d84" fill-opacity="0.57" stroke-opacity="0.57"/>
<circle cx="349.5" cy="164.1" r="2.5" fill="#443983" stroke="#443983" fill-opacity="0.57" stroke-opacity="0.57"/>
<circle cx="347" cy="248.5" r="2.5" fill="#30698e" stroke="#30698e" fill-opacity="0.57" stroke-opacity="0.57"/>
<circle cx="374.2" cy="192.3" r="2.5" fill="#3d4e8a" stroke="#3d4e8a" fill-opacity="0.57" stroke-opacity="0.57"/>
<circle cx="371.6" cy="276.7" r="2.5" fill="#404688" stroke="#404688" fill-opacity="0.57" stroke-opacity="0.57"/>
<circle cx="277.5" cy="299.3" r="2.5" fill="#fde725" stroke="#fde725" fill-opacity="0.57" stroke-opacity="0.57"/>
<circle cx="269.6" cy="136.3" r="2.5" fill="#443983" stroke="#443983" fill-opacity="0.57" stroke-opacity="0.57"/>
<circle cx="318.9" cy="192.8" r="2.5" fill="#443983" stroke="#443983" fill-opacity="0.57" stroke-opacity="0.57"/>
<circle cx="113.3" cy="108.4" r="2.5" fill="#472d7b" stroke="#472d7b" fill-opacity="0.57" stroke-opacity="0.57"/>
<circle cx="317.7" cy="235" r="2.5" fill="#463480" stroke="#463480" fill-opacity="0.57" stroke-opacity="0.57"/>
<circle cx="346.1" cy="136.5" r="2.5" fill="#3c4f8a" stroke="#3c4f8a" fill-opacity="0.57" stroke-opacity="0.57"/>
<circle cx="343.6" cy="221" r="2.5" fill="#453882" stroke="#453882" fill-opacity="0.57" stroke-opacity="0.57"/>
<circle cx="370.7" cy="164.7" r="2.5" fill="#414287" stroke="#414287" fill-opacity="0.57" stroke-opacity="0.57"/>
<circle cx="395.4" cy="193" r="2.5" fill="#3f4889" stroke="#3f4889" fill-opacity="0.57" stroke-opacity="0.57"/>
<circle cx="236.5" cy="249.5" r="2.5" fill="#463480" stroke="#463480" fill-opacity="0.57" stroke-opacity="0.57"/>
<circle cx="315.5" cy="165.2" r="2.5" fill="#472f7d" stroke="#472f7d" fill-opacity="0.57" stroke-opacity="0.57"/>
<circle cx="340.1" cy="193.4" r="2.5" fill="#3f4788" stroke="#3f4788" fill-opacity="0.57" stroke-opacity="0.57"/>
<circle cx="338.9" cy="235.6" r="2.5" fill="#3f4889" stroke="#3f4889" fill-opacity="0.57" stroke-opacity="0.57"/>
<circle cx="364.8" cy="221.6" r="2.5" fill="#414487" stroke="#414487" fill-opacity="0.57" stroke-opacity="0.57"/>
<circle cx="130.6" cy="235.7" r="2.5" fill="#404688" stroke="#404688" fill-opacity="0.57" stroke-opacity="0.57"/>
<circle cx="260.2" cy="165.6" r="2.5" fill="#3c508b" stroke="#3c508b" fill-opacity="0.58" stroke-opacity="0.58"/>
<circle cx="339.2" cy="81.3" r="2.5" fill="#365c8d" stroke="#365c8d" fill-opacity="0.58" stroke-opacity="0.58"/>
<circle cx="309.5" cy="222.1" r="2.5" fill="#472e7c" stroke="#472e7c" fill-opacity="0.58" stroke-opacity="0.58"/>
<circle cx="336.7" cy="165.8" r="2.5" fill="#414287" stroke="#414287" fill-opacity="0.58" stroke-opacity="0.58"/>
<circle cx="363.9" cy="109.5" r="2.5" fill="#3e4a89" stroke="#3e4a89" fill-opacity="0.58" stroke-opacity="0.58"/>
<circle cx="334.2" cy="250.3" r="2.5" fill="#414287" stroke="#414287" fill-opacity="0.58" stroke-opacity="0.58"/>
<circle cx="361.4" cy="194" r="2.5" fill="#404688" stroke="#404688" fill-opacity="0.58" stroke-opacity="0.58"/>
<circle cx="360.1" cy="236.3" r="2.5" fill="#443b84" stroke="#443b84" fill-opacity="0.58" stroke-opacity="0.58"/>
<circle cx="388.6" cy="137.8" r="2.5" fill="#24878e" stroke="#24878e" fill-opacity="0.58" stroke-opacity="0.58"/>
<circle cx="386" cy="222.3" r="2.5" fill="#433e85" stroke="#433e85" fill-opacity="0.58" stroke-opacity="0.58"/>
<circle cx="283.9" cy="81.7" r="2.5" fill="#443a83" stroke="#443a83" fill-opacity="0.58" stroke-opacity="0.58"/>
<circle cx="306.1" cy="194.5" r="2.5" fill="#38588c" stroke="#38588c" fill-opacity="0.58" stroke-opacity="0.58"/>
<circle cx="333.3" cy="138.2" r="2.5" fill="#39558c" stroke="#39558c" fill-opacity="0.58" stroke-opacity="0.58"/>
<circle cx="330.7" cy="222.7" r="2.5" fill="#453882" stroke="#453882" fill-opacity="0.58" stroke-opacity="0.58"/>
<circle cx="357.9" cy="166.4" r="2.5" fill="#423f85" stroke="#423f85" fill-opacity="0.58" stroke-opacity="0.58"/>
<circle cx="355.4" cy="251" r="2.5" fill="#463480" stroke="#463480" fill-opacity="0.58" stroke-opacity="0.58"/>
<circle cx="381.4" cy="237" r="2.5" fill="#3e4c8a" stroke="#3e4c8a" fill-opacity="0.58" stroke-opacity="0.58"/>
<circle cx="285.9" cy="301.8" r="2.5" fill="#fde725" stroke="#fde725" fill-opacity="0.58" stroke-opacity="0.58"/>
<circle cx="171.7" cy="279.3" r="2.5" fill="#46307e" stroke="#46307e" fill-opacity="0.58" stroke-opacity="0.58"/>
<circle cx="228.6" cy="82.1" r="2.5" fill="#472c7a" stroke="#472c7a" fill-opacity="0.58" stroke-opacity="0.58"/>
<circle cx="329.8" cy="110.5" r="2.5" fill="#433d84" stroke="#433d84" fill-opacity="0.58" stroke-opacity="0.58"/>
<circle cx="327.3" cy="195.1" r="2.5" fill="#46307e" stroke="#46307e" fill-opacity="0.58" stroke-opacity="0.58"/>
<circle cx="326" cy="237.4" r="2.5" fill="#424086" stroke="#424086" fill-opacity="0.58" stroke-opacity="0.58"/>
<circle cx="354.5" cy="138.8" r="2.5" fill="#34608d" stroke="#34608d" fill-opacity="0.58" stroke-opacity="0.58"/>
<circle cx="352" cy="223.4" r="2.5" fill="#453781" stroke="#453781" fill-opacity="0.58" stroke-opacity="0.58"/>
<circle cx="379.2" cy="167.1" r="2.5" fill="#3f4788" stroke="#3f4788" fill-opacity="0.58" stroke-opacity="0.58"/>
<circle cx="376.7" cy="251.6" r="2.5" fill="#3f4788" stroke="#3f4788" fill-opacity="0.58" stroke-opacity="0.58"/>
<circle cx="195.4" cy="195.4" r="2.5" fill="#443a83" stroke="#443a83" fill-opacity="0.58" stroke-opacity="0.58"/>
<circle cx="274.5" cy="111" r="2.5" fill="#46307e" stroke="#46307e" fill-opacity="0.58" stroke-opacity="0.58"/>
<circle cx="323.9" cy="167.5" r="2.5" fill="#46337f" stroke="#46337f" fill-opacity="0.58" stroke-opacity="0.58"/>
<circle cx="348.6" cy="195.8" r="2.5" fill="#433e85" stroke="#433e85" fill-opacity="0.58" stroke-opacity="0.58"/>
<circle cx="347.3" cy="238.1" r="2.5" fill="#2e6d8e" stroke="#2e6d8e" fill-opacity="0.58" stroke-opacity="0.58"/>
<circle cx="219.1" cy="111.4" r="2.5" fill="#3a538b" stroke="#3a538b" fill-opacity="0.58" stroke-opacity="0.58"/>
<circle cx="320.4" cy="139.9" r="2.5" fill="#3f4788" stroke="#3f4788" fill-opacity="0.58" stroke-opacity="0.58"/>
<circle cx="347.6" cy="83.5" r="2.5" fill="#34608d" stroke="#34608d" fill-opacity="0.58" stroke-opacity="0.58"/>
<circle cx="317.9" cy="224.5" r="2.5" fill="#472e7c" stroke="#472e7c" fill-opacity="0.58" stroke-opacity="0.58"/>
<circle cx="345.1" cy="168.1" r="2.5" fill="#423f85" stroke="#423f85" fill-opacity="0.58" stroke-opacity="0.58"/>
<circle cx="372.3" cy="111.8" r="2.5" fill="#365d8d" stroke="#365d8d" fill-opacity="0.58" stroke-opacity="0.58"/>
<circle cx="342.6" cy="252.8" r="2.5" fill="#414287" stroke="#414287" fill-opacity="0.58" stroke-opacity="0.58"/>
<circle cx="369.8" cy="196.4" r="2.5" fill="#414287" stroke="#414287" fill-opacity="0.58" stroke-opacity="0.58"/>
<circle cx="367.3" cy="281.1" r="2.5" fill="#443983" stroke="#443983" fill-opacity="0.58" stroke-opacity="0.58"/>
<circle cx="236.5" cy="239" r="2.5" fill="#472f7d" stroke="#472f7d" fill-opacity="0.58" stroke-opacity="0.58"/>
<circle cx="265" cy="140.3" r="2.5" fill="#472c7a" stroke="#472c7a" fill-opacity="0.58" stroke-opacity="0.58"/>
<circle cx="314.4" cy="196.9" r="2.5" fill="#433e85" stroke="#433e85" fill-opacity="0.58" stroke-opacity="0.58"/>
<circle cx="341.7" cy="140.5" r="2.5" fill="#3e4989" stroke="#3e4989" fill-opacity="0.58" stroke-opacity="0.58"/>
<circle cx="339.1" cy="225.1" r="2.5" fill="#2c718e" stroke="#2c718e" fill-opacity="0.58" stroke-opacity="0.58"/>
<circle cx="366.4" cy="168.8" r="2.5" fill="#3f4788" stroke="#3f4788" fill-opacity="0.59" stroke-opacity="0.59"/>
<circle cx="130.4" cy="225.2" r="2.5" fill="#472f7d" stroke="#472f7d" fill-opacity="0.59" stroke-opacity="0.59"/>
<circle cx="391.1" cy="197" r="2.5" fill="#3c508b" stroke="#3c508b" fill-opacity="0.59" stroke-opacity="0.59"/>
<circle cx="294.2" cy="304.3" r="2.5" fill="#fde725" stroke="#fde725" fill-opacity="0.59" stroke-opacity="0.59"/>
<circle cx="311" cy="169.2" r="2.5" fill="#3e4989" stroke="#3e4989" fill-opacity="0.59" stroke-opacity="0.59"/>
<circle cx="338.2" cy="112.8" r="2.5" fill="#433d84" stroke="#433d84" fill-opacity="0.59" stroke-opacity="0.59"/>
<circle cx="335.7" cy="197.5" r="2.5" fill="#433d84" stroke="#433d84" fill-opacity="0.59" stroke-opacity="0.59"/>
<circle cx="334.4" cy="239.9" r="2.5" fill="#414287" stroke="#414287" fill-opacity="0.59" stroke-opacity="0.59"/>
<circle cx="363" cy="141.1" r="2.5" fill="#404588" stroke="#404588" fill-opacity="0.59" stroke-opacity="0.59"/>
<circle cx="360.4" cy="225.8" r="2.5" fill="#433d84" stroke="#433d84" fill-opacity="0.59" stroke-opacity="0.59"/>
<circle cx="154.1" cy="141.2" r="2.5" fill="#482173" stroke="#482173" fill-opacity="0.59" stroke-opacity="0.59"/>
<circle cx="106.6" cy="305.1" r="2.5" fill="#fde725" stroke="#fde725" fill-opacity="0.59" stroke-opacity="0.59"/>
<circle cx="277.7" cy="282.7" r="2.5" fill="#453781" stroke="#453781" fill-opacity="0.59" stroke-opacity="0.59"/>
<circle cx="332.3" cy="169.8" r="2.5" fill="#46327e" stroke="#46327e" fill-opacity="0.59" stroke-opacity="0.59"/>
<circle cx="357" cy="198.1" r="2.5" fill="#39568c" stroke="#39568c" fill-opacity="0.59" stroke-opacity="0.59"/>
<circle cx="355.7" cy="240.5" r="2.5" fill="#453882" stroke="#453882" fill-opacity="0.59" stroke-opacity="0.59"/>
<circle cx="381.7" cy="226.5" r="2.5" fill="#3e4c8a" stroke="#3e4c8a" fill-opacity="0.59" stroke-opacity="0.59"/>
<circle cx="279.3" cy="85.5" r="2.5" fill="#404588" stroke="#404588" fill-opacity="0.59" stroke-opacity="0.59"/>
<circle cx="301.5" cy="198.6" r="2.5" fill="#46327e" stroke="#46327e" fill-opacity="0.59" stroke-opacity="0.59"/>
<circle cx="328.8" cy="142.1" r="2.5" fill="#38588c" stroke="#38588c" fill-opacity="0.59" stroke-opacity="0.59"/>
<circle cx="65.3" cy="255.1" r="2.5" fill="#482173" stroke="#482173" fill-opacity="0.59" stroke-opacity="0.59"/>
<circle cx="356.1" cy="85.7" r="2.5" fill="#365c8d" stroke="#365c8d" fill-opacity="0.59" stroke-opacity="0.59"/>
<circle cx="326.3" cy="226.9" r="2.5" fill="#3f4889" stroke="#3f4889" fill-opacity="0.59" stroke-opacity="0.59"/>
<circle cx="353.5" cy="170.5" r="2.5" fill="#404588" stroke="#404588" fill-opacity="0.59" stroke-opacity="0.59"/>
<circle cx="380.8" cy="114" r="2.5" fill="#31688e" stroke="#31688e" fill-opacity="0.59" stroke-opacity="0.59"/>
<circle cx="351" cy="255.2" r="2.5" fill="#443983" stroke="#443983" fill-opacity="0.59" stroke-opacity="0.59"/>
<circle cx="377" cy="241.2" r="2.5" fill="#424086" stroke="#424086" fill-opacity="0.59" stroke-opacity="0.59"/>
<circle cx="405.6" cy="142.3" r="2.5" fill="#38588c" stroke="#38588c" fill-opacity="0.59" stroke-opacity="0.59"/>
<circle cx="223.8" cy="85.9" r="2.5" fill="#423f85" stroke="#423f85" fill-opacity="0.59" stroke-opacity="0.59"/>
<circle cx="325.4" cy="114.4" r="2.5" fill="#3e4c8a" stroke="#3e4c8a" fill-opacity="0.59" stroke-opacity="0.59"/>
<circle cx="89" cy="171" r="2.5" fill="#482878" stroke="#482878" fill-opacity="0.59" stroke-opacity="0.59"/>
<circle cx="322.8" cy="199.2" r="2.5" fill="#472f7d" stroke="#472f7d" fill-opacity="0.59" stroke-opacity="0.59"/>
<circle cx="350.1" cy="142.8" r="2.5" fill="#443b84" stroke="#443b84" fill-opacity="0.59" stroke-opacity="0.59"/>
<circle cx="347.6" cy="227.6" r="2.5" fill="#423f85" stroke="#423f85" fill-opacity="0.59" stroke-opacity="0.59"/>
<circle cx="374.9" cy="171.1" r="2.5" fill="#3e4989" stroke="#3e4989" fill-opacity="0.59" stroke-opacity="0.59"/>
<circle cx="372.3" cy="255.9" r="2.5" fill="#3e4989" stroke="#3e4989" fill-opacity="0.59" stroke-opacity="0.59"/>
<circle cx="302.5" cy="306.9" r="2.5" fill="#fde725" stroke="#fde725" fill-opacity="0.59" stroke-opacity="0.59"/>
<circle cx="269.9" cy="114.9" r="2.5" fill="#463480" stroke="#463480" fill-opacity="0.59" stroke-opacity="0.59"/>
<circle cx="319.4" cy="171.5" r="2.5" fill="#453882" stroke="#453882" fill-opacity="0.59" stroke-opacity="0.59"/>
<circle cx="112.8" cy="86.8" r="2.5" fill="#472c7a" stroke="#472c7a" fill-opacity="0.59" stroke-opacity="0.59"/>
<circle cx="346.7" cy="115" r="2.5" fill="#443983" stroke="#443983" fill-opacity="0.59" stroke-opacity="0.59"/>
<circle cx="344.1" cy="199.9" r="2.5" fill="#39558c" stroke="#39558c" fill-opacity="0.59" stroke-opacity="0.59"/>
<circle cx="342.9" cy="242.3" r="2.5" fill="#46307e" stroke="#46307e" fill-opacity="0.59" stroke-opacity="0.59"/>
<circle cx="371.4" cy="143.4" r="2.5" fill="#355f8d" stroke="#355f8d" fill-opacity="0.59" stroke-opacity="0.59"/>
<circle cx="396.2" cy="171.7" r="2.5" fill="#3e4989" stroke="#3e4989" fill-opacity="0.59" stroke-opacity="0.59"/>
<circle cx="236.6" cy="228.5" r="2.5" fill="#482677" stroke="#482677" fill-opacity="0.59" stroke-opacity="0.59"/>
<circle cx="315.9" cy="143.8" r="2.5" fill="#463480" stroke="#463480" fill-opacity="0.59" stroke-opacity="0.59"/>
<circle cx="286.1" cy="285.2" r="2.5" fill="#472d7b" stroke="#472d7b" fill-opacity="0.59" stroke-opacity="0.59"/>
<circle cx="340.7" cy="172.2" r="2.5" fill="#443a83" stroke="#443a83" fill-opacity="0.6" stroke-opacity="0.6"/>
<circle cx="365.5" cy="200.5" r="2.5" fill="#34608d" stroke="#34608d" fill-opacity="0.6" stroke-opacity="0.6"/>
<circle cx="260.4" cy="144.2" r="2.5" fill="#482677" stroke="#482677" fill-opacity="0.6" stroke-opacity="0.6"/>
<circle cx="309.9" cy="201" r="2.5" fill="#472d7b" stroke="#472d7b" fill-opacity="0.6" stroke-opacity="0.6"/>
<circle cx="337.2" cy="144.4" r="2.5" fill="#3b518b" stroke="#3b518b" fill-opacity="0.6" stroke-opacity="0.6"/>
<circle cx="364.5" cy="87.9" r="2.5" fill="#34608d" stroke="#34608d" fill-opacity="0.6" stroke-opacity="0.6"/>
<circle cx="212.7" cy="308.5" r="2.5" fill="#3e4989" stroke="#3e4989" fill-opacity="0.6" stroke-opacity="0.6"/>
<circle cx="334.7" cy="229.3" r="2.5" fill="#424186" stroke="#424186" fill-opacity="0.6" stroke-opacity="0.6"/>
<circle cx="362" cy="172.8" r="2.5" fill="#424086" stroke="#424086" fill-opacity="0.6" stroke-opacity="0.6"/>
<circle cx="389.3" cy="116.2" r="2.5" fill="#3a538b" stroke="#3a538b" fill-opacity="0.6" stroke-opacity="0.6"/>
<circle cx="386.8" cy="201.2" r="2.5" fill="#3f4788" stroke="#3f4788" fill-opacity="0.6" stroke-opacity="0.6"/>
<circle cx="306.5" cy="173.2" r="2.5" fill="#433d84" stroke="#433d84" fill-opacity="0.6" stroke-opacity="0.6"/>
<circle cx="333.8" cy="116.7" r="2.5" fill="#3f4889" stroke="#3f4889" fill-opacity="0.6" stroke-opacity="0.6"/>
<circle cx="331.2" cy="201.6" r="2.5" fill="#453882" stroke="#453882" fill-opacity="0.6" stroke-opacity="0.6"/>
<circle cx="358.6" cy="145.1" r="2.5" fill="#424186" stroke="#424186" fill-opacity="0.6" stroke-opacity="0.6"/>
<circle cx="356" cy="230" r="2.5" fill="#365d8d" stroke="#365d8d" fill-opacity="0.6" stroke-opacity="0.6"/>
<circle cx="171.4" cy="258.5" r="2.5" fill="#433e85" stroke="#433e85" fill-opacity="0.6" stroke-opacity="0.6"/>
<circle cx="310.9" cy="309.4" r="2.5" fill="#3f4788" stroke="#3f4788" fill-opacity="0.6" stroke-opacity="0.6"/>
<circle cx="330.3" cy="88.9" r="2.5" fill="#453882" stroke="#453882" fill-opacity="0.6" stroke-opacity="0.6"/>
<circle cx="64.9" cy="244.6" r="2.5" fill="#472c7a" stroke="#472c7a" fill-opacity="0.6" stroke-opacity="0.6"/>
<circle cx="327.8" cy="173.9" r="2.5" fill="#3b528b" stroke="#3b528b" fill-opacity="0.6" stroke-opacity="0.6"/>
<circle cx="355.1" cy="117.3" r="2.5" fill="#365c8d" stroke="#365c8d" fill-opacity="0.6" stroke-opacity="0.6"/>
<circle cx="352.6" cy="202.3" r="2.5" fill="#414487" stroke="#414487" fill-opacity="0.6" stroke-opacity="0.6"/>
<circle cx="351.3" cy="244.8" r="2.5" fill="#46327e" stroke="#46327e" fill-opacity="0.6" stroke-opacity="0.6"/>
<circle cx="379.9" cy="145.7" r="2.5" fill="#3c4f8a" stroke="#3c4f8a" fill-opacity="0.6" stroke-opacity="0.6"/>
<circle cx="377.4" cy="230.7" r="2.5" fill="#3f4788" stroke="#3f4788" fill-opacity="0.6" stroke-opacity="0.6"/>
<circle cx="195.2" cy="174.1" r="2.5" fill="#453581" stroke="#453581" fill-opacity="0.6" stroke-opacity="0.6"/>
<circle cx="274.7" cy="89.3" r="2.5" fill="#423f85" stroke="#423f85" fill-opacity="0.6" stroke-opacity="0.6"/>
<circle cx="324.3" cy="146.1" r="2.5" fill="#443a83" stroke="#443a83" fill-opacity="0.6" stroke-opacity="0.6"/>
<circle cx="294.5" cy="287.7" r="2.5" fill="#472a7a" stroke="#472a7a" fill-opacity="0.6" stroke-opacity="0.6"/>
<circle cx="349.1" cy="174.5" r="2.5" fill="#423f85" stroke="#423f85" fill-opacity="0.6" stroke-opacity="0.6"/>
<circle cx="372.7" cy="245.4" r="2.5" fill="#3f4889" stroke="#3f4889" fill-opacity="0.6" stroke-opacity="0.6"/>
<circle cx="219.1" cy="89.7" r="2.5" fill="#453581" stroke="#453581" fill-opacity="0.6" stroke-opacity="0.6"/>
<circle cx="320.9" cy="118.3" r="2.5" fill="#453581" stroke="#453581" fill-opacity="0.6" stroke-opacity="0.6"/>
<circle cx="318.3" cy="203.4" r="2.5" fill="#443983" stroke="#443983" fill-opacity="0.6" stroke-opacity="0.6"/>
<circle cx="345.7" cy="146.7" r="2.5" fill="#453581" stroke="#453581" fill-opacity="0.6" stroke-opacity="0.6"/>
<circle cx="373" cy="90.1" r="2.5" fill="#375a8c" stroke="#375a8c" fill-opacity="0.6" stroke-opacity="0.6"/>
<circle cx="343.2" cy="231.8" r="2.5" fill="#433d84" stroke="#433d84" fill-opacity="0.6" stroke-opacity="0.6"/>
<circle cx="370.5" cy="175.1" r="2.5" fill="#38588c" stroke="#38588c" fill-opacity="0.6" stroke-opacity="0.6"/>
<circle cx="106.2" cy="288.5" r="2.5" fill="#453581" stroke="#453581" fill-opacity="0.6" stroke-opacity="0.6"/>
<circle cx="368" cy="260.2" r="2.5" fill="#34618d" stroke="#34618d" fill-opacity="0.6" stroke-opacity="0.6"/>
<circle cx="265.2" cy="118.8" r="2.5" fill="#3d4d8a" stroke="#3d4d8a" fill-opacity="0.6" stroke-opacity="0.6"/>
<circle cx="314.9" cy="175.6" r="2.5" fill="#39568c" stroke="#39568c" fill-opacity="0.61" stroke-opacity="0.61"/>
<circle cx="342.2" cy="118.9" r="2.5" fill="#404588" stroke="#404588" fill-opacity="0.61" stroke-opacity="0.61"/>
<circle cx="339.7" cy="204" r="2.5" fill="#443983" stroke="#443983" fill-opacity="0.61" stroke-opacity="0.61"/>
<circle cx="367.1" cy="147.4" r="2.5" fill="#414287" stroke="#414287" fill-opacity="0.61" stroke-opacity="0.61"/>
<circle cx="130" cy="204.1" r="2.5" fill="#3b518b" stroke="#3b518b" fill-opacity="0.61" stroke-opacity="0.61"/>
<circle cx="391.9" cy="175.8" r="2.5" fill="#3b528b" stroke="#3b528b" fill-opacity="0.61" stroke-opacity="0.61"/>
<circle cx="319.4" cy="312" r="2.5" fill="#fde725" stroke="#fde725" fill-opacity="0.61" stroke-opacity="0.61"/>
<circle cx="311.4" cy="147.8" r="2.5" fill="#414487" stroke="#414487" fill-opacity="0.61" stroke-opacity="0.61"/>
<circle cx="338.8" cy="91.1" r="2.5" fill="#424086" stroke="#424086" fill-opacity="0.61" stroke-opacity="0.61"/>
<circle cx="336.2" cy="176.2" r="2.5" fill="#443983" stroke="#443983" fill-opacity="0.61" stroke-opacity="0.61"/>
<circle cx="363.6" cy="119.5" r="2.5" fill="#3e4a89" stroke="#3e4a89" fill-opacity="0.61" stroke-opacity="0.61"/>
<circle cx="361.1" cy="204.7" r="2.5" fill="#424186" stroke="#424186" fill-opacity="0.61" stroke-opacity="0.61"/>
<circle cx="153.8" cy="119.6" r="2.5" fill="#46307e" stroke="#46307e" fill-opacity="0.61" stroke-opacity="0.61"/>
<circle cx="278" cy="261.8" r="2.5" fill="#472d7b" stroke="#472d7b" fill-opacity="0.61" stroke-opacity="0.61"/>
<circle cx="332.8" cy="148.4" r="2.5" fill="#453581" stroke="#453581" fill-opacity="0.61" stroke-opacity="0.61"/>
<circle cx="302.8" cy="290.3" r="2.5" fill="#32658e" stroke="#32658e" fill-opacity="0.61" stroke-opacity="0.61"/>
<circle cx="357.6" cy="176.9" r="2.5" fill="#423f85" stroke="#423f85" fill-opacity="0.61" stroke-opacity="0.61"/>
<circle cx="382.5" cy="205.3" r="2.5" fill="#3c508b" stroke="#3c508b" fill-opacity="0.61" stroke-opacity="0.61"/>
<circle cx="171.3" cy="248" r="2.5" fill="#482677" stroke="#482677" fill-opacity="0.61" stroke-opacity="0.61"/>
<circle cx="301.9" cy="177.3" r="2.5" fill="#424086" stroke="#424086" fill-opacity="0.61" stroke-opacity="0.61"/>
<circle cx="329.3" cy="120.6" r="2.5" fill="#2e6d8e" stroke="#2e6d8e" fill-opacity="0.61" stroke-opacity="0.61"/>
<circle cx="64.6" cy="234.1" r="2.5" fill="#424186" stroke="#424186" fill-opacity="0.61" stroke-opacity="0.61"/>
<circle cx="326.8" cy="205.8" r="2.5" fill="#46327e" stroke="#46327e" fill-opacity="0.61" stroke-opacity="0.61"/>
<circle cx="354.2" cy="149" r="2.5" fill="#3f4889" stroke="#3f4889" fill-opacity="0.61" stroke-opacity="0.61"/>
<circle cx="381.6" cy="92.3" r="2.5" fill="#38588c" stroke="#38588c" fill-opacity="0.61" stroke-opacity="0.61"/>
<circle cx="351.6" cy="234.2" r="2.5" fill="#443983" stroke="#443983" fill-opacity="0.61" stroke-opacity="0.61"/>
<circle cx="406.4" cy="120.8" r="2.5" fill="#3b518b" stroke="#3b518b" fill-opacity="0.61" stroke-opacity="0.61"/>
<circle cx="325.8" cy="92.7" r="2.5" fill="#433e85" stroke="#433e85" fill-opacity="0.61" stroke-opacity="0.61"/>
<circle cx="88.4" cy="149.5" r="2.5" fill="#463480" stroke="#463480" fill-opacity="0.61" stroke-opacity="0.61"/>
<circle cx="323.3" cy="177.9" r="2.5" fill="#46337f" stroke="#46337f" fill-opacity="0.61" stroke-opacity="0.61"/>
<circle cx="350.7" cy="121.2" r="2.5" fill="#433d84" stroke="#433d84" fill-opacity="0.61" stroke-opacity="0.61"/>
<circle cx="348.2" cy="206.4" r="2.5" fill="#414487" stroke="#414487" fill-opacity="0.61" stroke-opacity="0.61"/>
<circle cx="375.6" cy="149.7" r="2.5" fill="#404688" stroke="#404688" fill-opacity="0.61" stroke-opacity="0.61"/>
<circle cx="373" cy="234.9" r="2.5" fill="#3f4889" stroke="#3f4889" fill-opacity="0.61" stroke-opacity="0.61"/>
<circle cx="40.6" cy="314.4" r="2.5" fill="#fde725" stroke="#fde725" fill-opacity="0.61" stroke-opacity="0.61"/>
<circle cx="327.8" cy="314.6" r="2.5" fill="#3e4a89" stroke="#3e4a89" fill-opacity="0.61" stroke-opacity="0.61"/>
<circle cx="212.7" cy="291.9" r="2.5" fill="#482576" stroke="#482576" fill-opacity="0.61" stroke-opacity="0.61"/>
<circle cx="270.1" cy="93.2" r="2.5" fill="#472e7c" stroke="#472e7c" fill-opacity="0.61" stroke-opacity="0.61"/>
<circle cx="319.8" cy="150.1" r="2.5" fill="#25848e" stroke="#25848e" fill-opacity="0.61" stroke-opacity="0.61"/>
<circle cx="347.2" cy="93.3" r="2.5" fill="#424186" stroke="#424186" fill-opacity="0.61" stroke-opacity="0.61"/>
<circle cx="344.7" cy="178.6" r="2.5" fill="#31678e" stroke="#31678e" fill-opacity="0.61" stroke-opacity="0.61"/>
<circle cx="372.1" cy="121.8" r="2.5" fill="#3f4889" stroke="#3f4889" fill-opacity="0.61" stroke-opacity="0.61"/>
<circle cx="368.3" cy="249.7" r="2.5" fill="#433e85" stroke="#433e85" fill-opacity="0.61" stroke-opacity="0.61"/>
<circle cx="397" cy="150.3" r="2.5" fill="#38598c" stroke="#38598c" fill-opacity="0.61" stroke-opacity="0.61"/>
<circle cx="236.6" cy="207.3" r="2.5" fill="#482475" stroke="#482475" fill-opacity="0.61" stroke-opacity="0.61"/>
<circle cx="316.3" cy="122.2" r="2.5" fill="#46327e" stroke="#46327e" fill-opacity="0.62" stroke-opacity="0.62"/>
<circle cx="286.4" cy="264.3" r="2.5" fill="#472a7a" stroke="#472a7a" fill-opacity="0.62" stroke-opacity="0.62"/>
<circle cx="341.2" cy="150.7" r="2.5" fill="#463480" stroke="#463480" fill-opacity="0.62" stroke-opacity="0.62"/>
<circle cx="311.3" cy="292.8" r="2.5" fill="#453581" stroke="#453581" fill-opacity="0.62" stroke-opacity="0.62"/>
<circle cx="366.1" cy="179.2" r="2.5" fill="#443b84" stroke="#443b84" fill-opacity="0.62" stroke-opacity="0.62"/>
<circle cx="260.5" cy="122.7" r="2.5" fill="#46307e" stroke="#46307e" fill-opacity="0.62" stroke-opacity="0.62"/>
<circle cx="310.3" cy="179.7" r="2.5" fill="#404688" stroke="#404688" fill-opacity="0.62" stroke-opacity="0.62"/>
<circle cx="337.8" cy="122.9" r="2.5" fill="#453581" stroke="#453581" fill-opacity="0.62" stroke-opacity="0.62"/>
<circle cx="335.2" cy="208.2" r="2.5" fill="#443a83" stroke="#443a83" fill-opacity="0.62" stroke-opacity="0.62"/>
<circle cx="362.7" cy="151.4" r="2.5" fill="#3f4788" stroke="#3f4788" fill-opacity="0.62" stroke-opacity="0.62"/>
<circle cx="390.1" cy="94.5" r="2.5" fill="#287d8e" stroke="#287d8e" fill-opacity="0.62" stroke-opacity="0.62"/>
<circle cx="387.6" cy="179.9" r="2.5" fill="#3c4f8a" stroke="#3c4f8a" fill-opacity="0.62" stroke-opacity="0.62"/>
<circle cx="278.1" cy="251.3" r="2.5" fill="#472f7d" stroke="#472f7d" fill-opacity="0.62" stroke-opacity="0.62"/>
<circle cx="306.8" cy="151.8" r="2.5" fill="#46337f" stroke="#46337f" fill-opacity="0.62" stroke-opacity="0.62"/>
<circle cx="334.3" cy="95" r="2.5" fill="#443b84" stroke="#443b84" fill-opacity="0.62" stroke-opacity="0.62"/>
<circle cx="331.8" cy="180.3" r="2.5" fill="#424186" stroke="#424186" fill-opacity="0.62" stroke-opacity="0.62"/>
<circle cx="359.2" cy="123.5" r="2.5" fill="#424086" stroke="#424086" fill-opacity="0.62" stroke-opacity="0.62"/>
<circle cx="356.7" cy="208.8" r="2.5" fill="#453781" stroke="#453781" fill-opacity="0.62" stroke-opacity="0.62"/>
<circle cx="171.2" cy="237.4" r="2.5" fill="#424086" stroke="#424086" fill-opacity="0.62" stroke-opacity="0.62"/>
<circle cx="328.3" cy="152.4" r="2.5" fill="#453882" stroke="#453882" fill-opacity="0.62" stroke-opacity="0.62"/>
<circle cx="355.7" cy="95.6" r="2.5" fill="#424186" stroke="#424186" fill-opacity="0.62" stroke-opacity="0.62"/>
<circle cx="353.2" cy="180.9" r="2.5" fill="#424186" stroke="#424186" fill-opacity="0.62" stroke-opacity="0.62"/>
<circle cx="380.7" cy="124.1" r="2.5" fill="#3d4e8a" stroke="#3d4e8a" fill-opacity="0.62" stroke-opacity="0.62"/>
<circle cx="378.1" cy="209.5" r="2.5" fill="#424186" stroke="#424186" fill-opacity="0.62" stroke-opacity="0.62"/>
<circle cx="195.1" cy="152.7" r="2.5" fill="#482576" stroke="#482576" fill-opacity="0.62" stroke-opacity="0.62"/>
<circle cx="147.2" cy="317.9" r="2.5" fill="#fde725" stroke="#fde725" fill-opacity="0.62" stroke-opacity="0.62"/>
<circle cx="324.8" cy="124.5" r="2.5" fill="#443b84" stroke="#443b84" fill-opacity="0.62" stroke-opacity="0.62"/>
<circle cx="294.8" cy="266.8" r="2.5" fill="#443a83" stroke="#443a83" fill-opacity="0.62" stroke-opacity="0.62"/>
<circle cx="349.7" cy="153.1" r="2.5" fill="#404588" stroke="#404588" fill-opacity="0.62" stroke-opacity="0.62"/>
<circle cx="319.7" cy="295.4" r="2.5" fill="#433e85" stroke="#433e85" fill-opacity="0.62" stroke-opacity="0.62"/>
<circle cx="321.3" cy="96.6" r="2.5" fill="#453781" stroke="#453781" fill-opacity="0.62" stroke-opacity="0.62"/>
<circle cx="318.8" cy="182" r="2.5" fill="#472f7d" stroke="#472f7d" fill-opacity="0.62" stroke-opacity="0.62"/>
<circle cx="346.3" cy="125.1" r="2.5" fill="#3e4989" stroke="#3e4989" fill-opacity="0.62" stroke-opacity="0.62"/>
<circle cx="343.7" cy="210.6" r="2.5" fill="#46307e" stroke="#46307e" fill-opacity="0.62" stroke-opacity="0.62"/>
<circle cx="371.2" cy="153.7" r="2.5" fill="#423f85" stroke="#423f85" fill-opacity="0.62" stroke-opacity="0.62"/>
<circle cx="105.6" cy="267.6" r="2.5" fill="#482979" stroke="#482979" fill-opacity="0.62" stroke-opacity="0.62"/>
<circle cx="368.7" cy="239.1" r="2.5" fill="#443b84" stroke="#443b84" fill-opacity="0.62" stroke-opacity="0.62"/>
<circle cx="265.4" cy="97" r="2.5" fill="#3f4788" stroke="#3f4788" fill-opacity="0.63" stroke-opacity="0.63"/>
<circle cx="286.5" cy="253.8" r="2.5" fill="#46337f" stroke="#46337f" fill-opacity="0.63" stroke-opacity="0.63"/>
<circle cx="315.3" cy="154.1" r="2.5" fill="#38588c" stroke="#38588c" fill-opacity="0.63" stroke-opacity="0.63"/>
<circle cx="342.8" cy="97.2" r="2.5" fill="#2e6d8e" stroke="#2e6d8e" fill-opacity="0.63" stroke-opacity="0.63"/>
<circle cx="340.2" cy="182.7" r="2.5" fill="#414287" stroke="#414287" fill-opacity="0.63" stroke-opacity="0.63"/>
<circle cx="367.7" cy="125.8" r="2.5" fill="#424086" stroke="#424086" fill-opacity="0.63" stroke-opacity="0.63"/>
<circle cx="129.5" cy="182.7" r="2.5" fill="#482979" stroke="#482979" fill-opacity="0.63" stroke-opacity="0.63"/>
<circle cx="392.7" cy="154.3" r="2.5" fill="#3a538b" stroke="#3a538b" fill-opacity="0.63" stroke-opacity="0.63"/>
<circle cx="344.8" cy="319.7" r="2.5" fill="#404588" stroke="#404588" fill-opacity="0.63" stroke-opacity="0.63"/>
<circle cx="311.8" cy="126.2" r="2.5" fill="#404688" stroke="#404688" fill-opacity="0.63" stroke-opacity="0.63"/>
<circle cx="336.8" cy="154.8" r="2.5" fill="#46307e" stroke="#46307e" fill-opacity="0.63" stroke-opacity="0.63"/>
<circle cx="364.3" cy="97.8" r="2.5" fill="#26828e" stroke="#26828e" fill-opacity="0.63" stroke-opacity="0.63"/>
<circle cx="361.7" cy="183.3" r="2.5" fill="#423f85" stroke="#423f85" fill-opacity="0.63" stroke-opacity="0.63"/>
<circle cx="153.5" cy="97.9" r="2.5" fill="#482173" stroke="#482173" fill-opacity="0.63" stroke-opacity="0.63"/>
<circle cx="278.3" cy="240.7" r="2.5" fill="#472f7d" stroke="#472f7d" fill-opacity="0.63" stroke-opacity="0.63"/>
<circle cx="39.9" cy="297.8" r="2.5" fill="#481c6e" stroke="#481c6e" fill-opacity="0.63" stroke-opacity="0.63"/>
<circle cx="333.3" cy="126.8" r="2.5" fill="#404688" stroke="#404688" fill-opacity="0.63" stroke-opacity="0.63"/>
<circle cx="303.2" cy="269.3" r="2.5" fill="#472d7b" stroke="#472d7b" fill-opacity="0.63" stroke-opacity="0.63"/>
<circle cx="358.3" cy="155.4" r="2.5" fill="#443983" stroke="#443983" fill-opacity="0.63" stroke-opacity="0.63"/>
<circle cx="328.2" cy="297.9" r="2.5" fill="#472d7b" stroke="#472d7b" fill-opacity="0.63" stroke-opacity="0.63"/>
<circle cx="383.2" cy="184" r="2.5" fill="#3e4c8a" stroke="#3e4c8a" fill-opacity="0.63" stroke-opacity="0.63"/>
<circle cx="302.3" cy="155.8" r="2.5" fill="#414287" stroke="#414287" fill-opacity="0.63" stroke-opacity="0.63"/>
<circle cx="329.8" cy="98.8" r="2.5" fill="#3e4989" stroke="#3e4989" fill-opacity="0.63" stroke-opacity="0.63"/>
<circle cx="63.8" cy="212.9" r="2.5" fill="#46327e" stroke="#46327e" fill-opacity="0.63" stroke-opacity="0.63"/>
<circle cx="327.3" cy="184.4" r="2.5" fill="#46327e" stroke="#46327e" fill-opacity="0.63" stroke-opacity="0.63"/>
<circle cx="354.8" cy="127.4" r="2.5" fill="#3c508b" stroke="#3c508b" fill-opacity="0.63" stroke-opacity="0.63"/>
<circle cx="352.2" cy="213" r="2.5" fill="#404688" stroke="#404688" fill-opacity="0.63" stroke-opacity="0.63"/>
<circle cx="407.3" cy="99" r="2.5" fill="#21908d" stroke="#21908d" fill-opacity="0.63" stroke-opacity="0.63"/>
<circle cx="254.3" cy="321.4" r="2.5" fill="#3f4889" stroke="#3f4889" fill-opacity="0.63" stroke-opacity="0.63"/>
<circle cx="87.7" cy="127.9" r="2.5" fill="#472e7c" stroke="#472e7c" fill-opacity="0.63" stroke-opacity="0.63"/>
<circle cx="295" cy="256.3" r="2.5" fill="#482576" stroke="#482576" fill-opacity="0.63" stroke-opacity="0.63"/>
<circle cx="323.8" cy="156.5" r="2.5" fill="#46307e" stroke="#46307e" fill-opacity="0.63" stroke-opacity="0.63"/>
<circle cx="351.3" cy="99.4" r="2.5" fill="#433d84" stroke="#433d84" fill-opacity="0.63" stroke-opacity="0.63"/>
<circle cx="348.8" cy="185.1" r="2.5" fill="#443b84" stroke="#443b84" fill-opacity="0.63" stroke-opacity="0.63"/>
<circle cx="376.3" cy="128" r="2.5" fill="#375b8d" stroke="#375b8d" fill-opacity="0.63" stroke-opacity="0.63"/>
<circle cx="373.7" cy="213.7" r="2.5" fill="#453781" stroke="#453781" fill-opacity="0.63" stroke-opacity="0.63"/>
<circle cx="212.7" cy="271" r="2.5" fill="#472e7c" stroke="#472e7c" fill-opacity="0.63" stroke-opacity="0.63"/>
<circle cx="320.3" cy="128.5" r="2.5" fill="#3a538b" stroke="#3a538b" fill-opacity="0.63" stroke-opacity="0.63"/>
<circle cx="345.3" cy="157.1" r="2.5" fill="#46337f" stroke="#46337f" fill-opacity="0.63" stroke-opacity="0.63"/>
<circle cx="372.8" cy="100" r="2.5" fill="#3f4889" stroke="#3f4889" fill-opacity="0.63" stroke-opacity="0.63"/>
<circle cx="105.3" cy="257" r="2.5" fill="#34618d" stroke="#34618d" fill-opacity="0.63" stroke-opacity="0.63"/>
<circle cx="397.8" cy="128.7" r="2.5" fill="#3c508b" stroke="#3c508b" fill-opacity="0.64" stroke-opacity="0.64"/>
<circle cx="236.7" cy="186" r="2.5" fill="#453882" stroke="#453882" fill-opacity="0.64" stroke-opacity="0.64"/>
<circle cx="316.8" cy="100.5" r="2.5" fill="#46337f" stroke="#46337f" fill-opacity="0.64" stroke-opacity="0.64"/>
<circle cx="286.7" cy="243.2" r="2.5" fill="#46327e" stroke="#46327e" fill-opacity="0.64" stroke-opacity="0.64"/>
<circle cx="341.8" cy="129.1" r="2.5" fill="#46337f" stroke="#46337f" fill-opacity="0.64" stroke-opacity="0.64"/>
<circle cx="311.7" cy="271.8" r="2.5" fill="#472c7a" stroke="#472c7a" fill-opacity="0.64" stroke-opacity="0.64"/>
<circle cx="366.8" cy="157.7" r="2.5" fill="#2c728e" stroke="#2c728e" fill-opacity="0.64" stroke-opacity="0.64"/>
<circle cx="260.7" cy="100.9" r="2.5" fill="#472f7d" stroke="#472f7d" fill-opacity="0.64" stroke-opacity="0.64"/>
<circle cx="310.7" cy="158.2" r="2.5" fill="#46327e" stroke="#46327e" fill-opacity="0.64" stroke-opacity="0.64"/>
<circle cx="338.3" cy="101.1" r="2.5" fill="#453781" stroke="#453781" fill-opacity="0.64" stroke-opacity="0.64"/>
<circle cx="335.8" cy="186.8" r="2.5" fill="#46327e" stroke="#46327e" fill-opacity="0.64" stroke-opacity="0.64"/>
<circle cx="363.3" cy="129.7" r="2.5" fill="#443a83" stroke="#443a83" fill-opacity="0.64" stroke-opacity="0.64"/>
<circle cx="388.4" cy="158.3" r="2.5" fill="#404688" stroke="#404688" fill-opacity="0.64" stroke-opacity="0.64"/>
<circle cx="262.7" cy="324" r="2.5" fill="#404688" stroke="#404688" fill-opacity="0.64" stroke-opacity="0.64"/>
<circle cx="146.9" cy="301.2" r="2.5" fill="#453581" stroke="#453581" fill-opacity="0.64" stroke-opacity="0.64"/>
<circle cx="307.2" cy="130.1" r="2.5" fill="#463480" stroke="#463480" fill-opacity="0.64" stroke-opacity="0.64"/>
<circle cx="303.4" cy="258.8" r="2.5" fill="#463480" stroke="#463480" fill-opacity="0.64" stroke-opacity="0.64"/>
<circle cx="332.3" cy="158.8" r="2.5" fill="#453581" stroke="#453581" fill-opacity="0.64" stroke-opacity="0.64"/>
<circle cx="359.9" cy="101.7" r="2.5" fill="#3f4889" stroke="#3f4889" fill-opacity="0.64" stroke-opacity="0.64"/>
<circle cx="357.3" cy="187.4" r="2.5" fill="#433d84" stroke="#433d84" fill-opacity="0.64" stroke-opacity="0.64"/>
<circle cx="170.9" cy="216.2" r="2.5" fill="#46327e" stroke="#46327e" fill-opacity="0.64" stroke-opacity="0.64"/>
<circle cx="328.8" cy="130.8" r="2.5" fill="#404588" stroke="#404588" fill-opacity="0.64" stroke-opacity="0.64"/>
<circle cx="353.8" cy="159.4" r="2.5" fill="#443b84" stroke="#443b84" fill-opacity="0.64" stroke-opacity="0.64"/>
<circle cx="381.4" cy="102.3" r="2.5" fill="#2a788e" stroke="#2a788e" fill-opacity="0.64" stroke-opacity="0.64"/>
<circle cx="378.9" cy="188.1" r="2.5" fill="#443b84" stroke="#443b84" fill-opacity="0.64" stroke-opacity="0.64"/>
<circle cx="195" cy="131" r="2.5" fill="#482878" stroke="#482878" fill-opacity="0.64" stroke-opacity="0.64"/>
<circle cx="325.3" cy="102.7" r="2.5" fill="#453882" stroke="#453882" fill-opacity="0.64" stroke-opacity="0.64"/>
<circle cx="295.1" cy="245.7" r="2.5" fill="#482979" stroke="#482979" fill-opacity="0.64" stroke-opacity="0.64"/>
<circle cx="350.3" cy="131.4" r="2.5" fill="#423f85" stroke="#423f85" fill-opacity="0.64" stroke-opacity="0.64"/>
<circle cx="320.2" cy="274.4" r="2.5" fill="#472d7b" stroke="#472d7b" fill-opacity="0.64" stroke-opacity="0.64"/>
<circle cx="345.2" cy="303.1" r="2.5" fill="#463480" stroke="#463480" fill-opacity="0.64" stroke-opacity="0.64"/>
<circle cx="212.6" cy="260.4" r="2.5" fill="#443983" stroke="#443983" fill-opacity="0.64" stroke-opacity="0.64"/>
<circle cx="319.2" cy="160.5" r="2.5" fill="#433d84" stroke="#433d84" fill-opacity="0.64" stroke-opacity="0.64"/>
<circle cx="346.8" cy="103.3" r="2.5" fill="#443b84" stroke="#443b84" fill-opacity="0.65" stroke-opacity="0.65"/>
<circle cx="344.3" cy="189.2" r="2.5" fill="#423f85" stroke="#423f85" fill-opacity="0.65" stroke-opacity="0.65"/>
<circle cx="371.9" cy="132" r="2.5" fill="#424086" stroke="#424086" fill-opacity="0.65" stroke-opacity="0.65"/>
<circle cx="105" cy="246.4" r="2.5" fill="#472f7d" stroke="#472f7d" fill-opacity="0.65" stroke-opacity="0.65"/>
<circle cx="369.3" cy="217.9" r="2.5" fill="#433e85" stroke="#433e85" fill-opacity="0.65" stroke-opacity="0.65"/>
<circle cx="271.1" cy="326.7" r="2.5" fill="#fde725" stroke="#fde725" fill-opacity="0.65" stroke-opacity="0.65"/>
<circle cx="315.7" cy="132.4" r="2.5" fill="#443b84" stroke="#443b84" fill-opacity="0.65" stroke-opacity="0.65"/>
<circle cx="311.9" cy="261.3" r="2.5" fill="#443983" stroke="#443983" fill-opacity="0.65" stroke-opacity="0.65"/>
<circle cx="340.8" cy="161.1" r="2.5" fill="#443a83" stroke="#443a83" fill-opacity="0.65" stroke-opacity="0.65"/>
<circle cx="368.4" cy="103.9" r="2.5" fill="#355f8d" stroke="#355f8d" fill-opacity="0.65" stroke-opacity="0.65"/>
<circle cx="129.1" cy="161.2" r="2.5" fill="#482979" stroke="#482979" fill-opacity="0.65" stroke-opacity="0.65"/>
<circle cx="393.5" cy="132.6" r="2.5" fill="#3f4889" stroke="#3f4889" fill-opacity="0.65" stroke-opacity="0.65"/>
<circle cx="80.9" cy="327.4" r="2.5" fill="#3b518b" stroke="#3b518b" fill-opacity="0.65" stroke-opacity="0.65"/>
<circle cx="254.4" cy="304.7" r="2.5" fill="#472c7a" stroke="#472c7a" fill-opacity="0.65" stroke-opacity="0.65"/>
<circle cx="312.2" cy="104.4" r="2.5" fill="#453581" stroke="#453581" fill-opacity="0.65" stroke-opacity="0.65"/>
<circle cx="337.3" cy="133.1" r="2.5" fill="#453781" stroke="#453781" fill-opacity="0.65" stroke-opacity="0.65"/>
<circle cx="362.4" cy="161.8" r="2.5" fill="#423f85" stroke="#423f85" fill-opacity="0.65" stroke-opacity="0.65"/>
<circle cx="278.5" cy="219.5" r="2.5" fill="#3d4d8a" stroke="#3d4d8a" fill-opacity="0.65" stroke-opacity="0.65"/>
<circle cx="39" cy="276.8" r="2.5" fill="#433e85" stroke="#433e85" fill-opacity="0.65" stroke-opacity="0.65"/>
<circle cx="333.8" cy="105" r="2.5" fill="#404588" stroke="#404588" fill-opacity="0.65" stroke-opacity="0.65"/>
<circle cx="303.6" cy="248.2" r="2.5" fill="#472d7b" stroke="#472d7b" fill-opacity="0.65" stroke-opacity="0.65"/>
<circle cx="358.9" cy="133.7" r="2.5" fill="#404588" stroke="#404588" fill-opacity="0.65" stroke-opacity="0.65"/>
<circle cx="328.7" cy="276.9" r="2.5" fill="#443a83" stroke="#443a83" fill-opacity="0.65" stroke-opacity="0.65"/>
<circle cx="384" cy="162.4" r="2.5" fill="#3e4989" stroke="#3e4989" fill-opacity="0.65" stroke-opacity="0.65"/>
<circle cx="302.7" cy="134.1" r="2.5" fill="#414487" stroke="#414487" fill-opacity="0.65" stroke-opacity="0.65"/>
<circle cx="63" cy="191.5" r="2.5" fill="#46327e" stroke="#46327e" fill-opacity="0.65" stroke-opacity="0.65"/>
<circle cx="327.7" cy="162.9" r="2.5" fill="#3b518b" stroke="#3b518b" fill-opacity="0.65" stroke-opacity="0.65"/>
<circle cx="355.4" cy="105.6" r="2.5" fill="#404688" stroke="#404688" fill-opacity="0.65" stroke-opacity="0.65"/>
<circle cx="352.8" cy="191.6" r="2.5" fill="#453581" stroke="#453581" fill-opacity="0.65" stroke-opacity="0.65"/>
<circle cx="279.5" cy="329.3" r="2.5" fill="#3e4989" stroke="#3e4989" fill-opacity="0.65" stroke-opacity="0.65"/>
<circle cx="87.1" cy="106.1" r="2.5" fill="#482979" stroke="#482979" fill-opacity="0.65" stroke-opacity="0.65"/>
<circle cx="324.2" cy="134.8" r="2.5" fill="#472f7d" stroke="#472f7d" fill-opacity="0.65" stroke-opacity="0.65"/>
<circle cx="320.4" cy="263.8" r="2.5" fill="#46307e" stroke="#46307e" fill-opacity="0.65" stroke-opacity="0.65"/>
<circle cx="349.4" cy="163.5" r="2.5" fill="#39568c" stroke="#39568c" fill-opacity="0.65" stroke-opacity="0.65"/>
<circle cx="377" cy="106.2" r="2.5" fill="#3f4889" stroke="#3f4889" fill-opacity="0.65" stroke-opacity="0.65"/>
<circle cx="374.5" cy="192.2" r="2.5" fill="#3b528b" stroke="#3b528b" fill-opacity="0.65" stroke-opacity="0.65"/>
<circle cx="212.6" cy="249.8" r="2.5" fill="#482173" stroke="#482173" fill-opacity="0.65" stroke-opacity="0.65"/>
<circle cx="262.8" cy="307.3" r="2.5" fill="#423f85" stroke="#423f85" fill-opacity="0.66" stroke-opacity="0.66"/>
<circle cx="320.7" cy="106.6" r="2.5" fill="#453581" stroke="#453581" fill-opacity="0.66" stroke-opacity="0.66"/>
<circle cx="345.9" cy="135.4" r="2.5" fill="#404688" stroke="#404688" fill-opacity="0.66" stroke-opacity="0.66"/>
<circle cx="398.7" cy="106.8" r="2.5" fill="#3b528b" stroke="#3b528b" fill-opacity="0.66" stroke-opacity="0.66"/>
<circle cx="236.7" cy="164.4" r="2.5" fill="#482677" stroke="#482677" fill-opacity="0.66" stroke-opacity="0.66"/>
<circle cx="287" cy="221.9" r="2.5" fill="#472a7a" stroke="#472a7a" fill-opacity="0.66" stroke-opacity="0.66"/>
<circle cx="342.4" cy="107.2" r="2.5" fill="#443a83" stroke="#443a83" fill-opacity="0.66" stroke-opacity="0.66"/>
<circle cx="188.4" cy="331" r="2.5" fill="#423f85" stroke="#423f85" fill-opacity="0.66" stroke-opacity="0.66"/>
<circle cx="312.1" cy="250.7" r="2.5" fill="#463480" stroke="#463480" fill-opacity="0.66" stroke-opacity="0.66"/>
<circle cx="367.5" cy="136" r="2.5" fill="#3f4889" stroke="#3f4889" fill-opacity="0.66" stroke-opacity="0.66"/>
<circle cx="311.2" cy="136.4" r="2.5" fill="#46337f" stroke="#46337f" fill-opacity="0.66" stroke-opacity="0.66"/>
<circle cx="336.3" cy="165.2" r="2.5" fill="#365c8d" stroke="#365c8d" fill-opacity="0.66" stroke-opacity="0.66"/>
<circle cx="364" cy="107.9" r="2.5" fill="#3b518b" stroke="#3b518b" fill-opacity="0.66" stroke-opacity="0.66"/>
<circle cx="389.1" cy="136.6" r="2.5" fill="#365c8d" stroke="#365c8d" fill-opacity="0.66" stroke-opacity="0.66"/>
<circle cx="146.5" cy="280.2" r="2.5" fill="#482979" stroke="#482979" fill-opacity="0.66" stroke-opacity="0.66"/>
<circle cx="288" cy="331.9" r="2.5" fill="#fde725" stroke="#fde725" fill-opacity="0.66" stroke-opacity="0.66"/>
<circle cx="307.6" cy="108.3" r="2.5" fill="#472f7d" stroke="#472f7d" fill-opacity="0.66" stroke-opacity="0.66"/>
<circle cx="38.5" cy="266.2" r="2.5" fill="#39568c" stroke="#39568c" fill-opacity="0.66" stroke-opacity="0.66"/>
<circle cx="332.8" cy="137.1" r="2.5" fill="#443983" stroke="#443983" fill-opacity="0.66" stroke-opacity="0.66"/>
<circle cx="328.9" cy="266.3" r="2.5" fill="#46307e" stroke="#46307e" fill-opacity="0.66" stroke-opacity="0.66"/>
<circle cx="357.9" cy="165.9" r="2.5" fill="#453581" stroke="#453581" fill-opacity="0.66" stroke-opacity="0.66"/>
<circle cx="170.7" cy="194.7" r="2.5" fill="#472a7a" stroke="#472a7a" fill-opacity="0.66" stroke-opacity="0.66"/>
<circle cx="271.3" cy="309.9" r="2.5" fill="#404688" stroke="#404688" fill-opacity="0.66" stroke-opacity="0.66"/>
<circle cx="329.3" cy="108.9" r="2.5" fill="#414287" stroke="#414287" fill-opacity="0.66" stroke-opacity="0.66"/>
<circle cx="354.4" cy="137.7" r="2.5" fill="#443983" stroke="#443983" fill-opacity="0.66" stroke-opacity="0.66"/>
<circle cx="379.6" cy="166.5" r="2.5" fill="#433e85" stroke="#433e85" fill-opacity="0.66" stroke-opacity="0.66"/>
<circle cx="194.8" cy="109.2" r="2.5" fill="#482979" stroke="#482979" fill-opacity="0.66" stroke-opacity="0.66"/>
<circle cx="295.5" cy="224.4" r="2.5" fill="#423f85" stroke="#423f85" fill-opacity="0.66" stroke-opacity="0.66"/>
<circle cx="350.9" cy="109.5" r="2.5" fill="#31668e" stroke="#31668e" fill-opacity="0.66" stroke-opacity="0.66"/>
<circle cx="320.6" cy="253.2" r="2.5" fill="#463480" stroke="#463480" fill-opacity="0.66" stroke-opacity="0.66"/>
<circle cx="80.3" cy="310.7" r="2.5" fill="#3e4c8a" stroke="#3e4c8a" fill-opacity="0.66" stroke-opacity="0.66"/>
<circle cx="345.8" cy="282" r="2.5" fill="#33628d" stroke="#33628d" fill-opacity="0.66" stroke-opacity="0.66"/>
<circle cx="319.7" cy="138.8" r="2.5" fill="#433e85" stroke="#433e85" fill-opacity="0.67" stroke-opacity="0.67"/>
<circle cx="344.9" cy="167.6" r="2.5" fill="#32658e" stroke="#32658e" fill-opacity="0.67" stroke-opacity="0.67"/>
<circle cx="372.6" cy="110.1" r="2.5" fill="#414487" stroke="#414487" fill-opacity="0.67" stroke-opacity="0.67"/>
<circle cx="104.5" cy="225.1" r="2.5" fill="#482979" stroke="#482979" fill-opacity="0.67" stroke-opacity="0.67"/>
<circle cx="370" cy="196.4" r="2.5" fill="#443b84" stroke="#443b84" fill-opacity="0.67" stroke-opacity="0.67"/>
<circle cx="296.5" cy="334.5" r="2.5" fill="#fde725" stroke="#fde725" fill-opacity="0.67" stroke-opacity="0.67"/>
<circle cx="316.2" cy="110.6" r="2.5" fill="#443983" stroke="#443983" fill-opacity="0.67" stroke-opacity="0.67"/>
<circle cx="341.4" cy="139.4" r="2.5" fill="#3e4989" stroke="#3e4989" fill-opacity="0.67" stroke-opacity="0.67"/>
<circle cx="128.6" cy="139.5" r="2.5" fill="#482979" stroke="#482979" fill-opacity="0.67" stroke-opacity="0.67"/>
<circle cx="394.3" cy="110.7" r="2.5" fill="#3e4a89" stroke="#3e4a89" fill-opacity="0.67" stroke-opacity="0.67"/>
<circle cx="254.5" cy="283.7" r="2.5" fill="#46307e" stroke="#46307e" fill-opacity="0.67" stroke-opacity="0.67"/>
<circle cx="279.7" cy="312.5" r="2.5" fill="#472c7a" stroke="#472c7a" fill-opacity="0.67" stroke-opacity="0.67"/>
<circle cx="337.8" cy="111.2" r="2.5" fill="#433e85" stroke="#433e85" fill-opacity="0.67" stroke-opacity="0.67"/>
<circle cx="363" cy="140" r="2.5" fill="#38598c" stroke="#38598c" fill-opacity="0.67" stroke-opacity="0.67"/>
<circle cx="146.3" cy="269.6" r="2.5" fill="#482071" stroke="#482071" fill-opacity="0.67" stroke-opacity="0.67"/>
<circle cx="278.8" cy="198" r="2.5" fill="#482677" stroke="#482677" fill-opacity="0.67" stroke-opacity="0.67"/>
<circle cx="38.1" cy="255.6" r="2.5" fill="#481c6e" stroke="#481c6e" fill-opacity="0.67" stroke-opacity="0.67"/>
<circle cx="304" cy="226.8" r="2.5" fill="#2c728e" stroke="#2c728e" fill-opacity="0.67" stroke-opacity="0.67"/>
<circle cx="359.5" cy="111.8" r="2.5" fill="#414287" stroke="#414287" fill-opacity="0.67" stroke-opacity="0.67"/>
<circle cx="329.2" cy="255.7" r="2.5" fill="#472c7a" stroke="#472c7a" fill-opacity="0.67" stroke-opacity="0.67"/>
<circle cx="384.8" cy="140.7" r="2.5" fill="#433d84" stroke="#433d84" fill-opacity="0.67" stroke-opacity="0.67"/>
<circle cx="303" cy="112.2" r="2.5" fill="#32658e" stroke="#32658e" fill-opacity="0.67" stroke-opacity="0.67"/>
<circle cx="62.3" cy="169.8" r="2.5" fill="#3b518b" stroke="#3b518b" fill-opacity="0.67" stroke-opacity="0.67"/>
<circle cx="328.2" cy="141.1" r="2.5" fill="#46327e" stroke="#46327e" fill-opacity="0.67" stroke-opacity="0.67"/>
<circle cx="353.5" cy="170" r="2.5" fill="#423f85" stroke="#423f85" fill-opacity="0.67" stroke-opacity="0.67"/>
<circle cx="305" cy="337.2" r="2.5" fill="#39558c" stroke="#39558c" fill-opacity="0.67" stroke-opacity="0.67"/>
<circle cx="188.3" cy="314.2" r="2.5" fill="#453581" stroke="#453581" fill-opacity="0.67" stroke-opacity="0.67"/>
<circle cx="324.7" cy="112.8" r="2.5" fill="#433d84" stroke="#433d84" fill-opacity="0.67" stroke-opacity="0.67"/>
<circle cx="350" cy="141.7" r="2.5" fill="#433d84" stroke="#433d84" fill-opacity="0.68" stroke-opacity="0.68"/>
<circle cx="346.1" cy="271.4" r="2.5" fill="#453781" stroke="#453781" fill-opacity="0.68" stroke-opacity="0.68"/>
<circle cx="375.2" cy="170.6" r="2.5" fill="#423f85" stroke="#423f85" fill-opacity="0.68" stroke-opacity="0.68"/>
<circle cx="212.5" cy="228.4" r="2.5" fill="#3b528b" stroke="#3b528b" fill-opacity="0.68" stroke-opacity="0.68"/>
<circle cx="263" cy="286.2" r="2.5" fill="#472f7d" stroke="#472f7d" fill-opacity="0.68" stroke-opacity="0.68"/>
<circle cx="288.2" cy="315.1" r="2.5" fill="#365c8d" stroke="#365c8d" fill-opacity="0.68" stroke-opacity="0.68"/>
<circle cx="346.4" cy="113.5" r="2.5" fill="#433d84" stroke="#433d84" fill-opacity="0.68" stroke-opacity="0.68"/>
<circle cx="236.8" cy="142.6" r="2.5" fill="#46327e" stroke="#46327e" fill-opacity="0.68" stroke-opacity="0.68"/>
<circle cx="287.3" cy="200.4" r="2.5" fill="#404688" stroke="#404688" fill-opacity="0.68" stroke-opacity="0.68"/>
<circle cx="312.5" cy="229.3" r="2.5" fill="#423f85" stroke="#423f85" fill-opacity="0.68" stroke-opacity="0.68"/>
<circle cx="368.2" cy="114.1" r="2.5" fill="#424186" stroke="#424186" fill-opacity="0.68" stroke-opacity="0.68"/>
<circle cx="254.6" cy="273.1" r="2.5" fill="#472d7b" stroke="#472d7b" fill-opacity="0.68" stroke-opacity="0.68"/>
<circle cx="311.6" cy="114.5" r="2.5" fill="#443983" stroke="#443983" fill-opacity="0.68" stroke-opacity="0.68"/>
<circle cx="336.8" cy="143.4" r="2.5" fill="#453581" stroke="#453581" fill-opacity="0.68" stroke-opacity="0.68"/>
<circle cx="389.9" cy="114.7" r="2.5" fill="#3f4889" stroke="#3f4889" fill-opacity="0.68" stroke-opacity="0.68"/>
<circle cx="146.2" cy="259" r="2.5" fill="#481c6e" stroke="#481c6e" fill-opacity="0.68" stroke-opacity="0.68"/>
<circle cx="333.3" cy="115.1" r="2.5" fill="#443983" stroke="#443983" fill-opacity="0.68" stroke-opacity="0.68"/>
<circle cx="358.6" cy="144.1" r="2.5" fill="#453781" stroke="#453781" fill-opacity="0.68" stroke-opacity="0.68"/>
<circle cx="170.4" cy="173.1" r="2.5" fill="#472a7a" stroke="#472a7a" fill-opacity="0.68" stroke-opacity="0.68"/>
<circle cx="121.8" cy="340.6" r="2.5" fill="#fde725" stroke="#fde725" fill-opacity="0.68" stroke-opacity="0.68"/>
<circle cx="271.5" cy="288.8" r="2.5" fill="#472e7c" stroke="#472e7c" fill-opacity="0.68" stroke-opacity="0.68"/>
<circle cx="296.8" cy="317.7" r="2.5" fill="#472d7b" stroke="#472d7b" fill-opacity="0.68" stroke-opacity="0.68"/>
<circle cx="355.1" cy="115.8" r="2.5" fill="#433d84" stroke="#433d84" fill-opacity="0.68" stroke-opacity="0.68"/>
<circle cx="380.3" cy="144.7" r="2.5" fill="#404688" stroke="#404688" fill-opacity="0.68" stroke-opacity="0.68"/>
<circle cx="295.8" cy="202.8" r="2.5" fill="#46327e" stroke="#46327e" fill-opacity="0.69" stroke-opacity="0.69"/>
<circle cx="321.1" cy="231.8" r="2.5" fill="#472e7c" stroke="#472e7c" fill-opacity="0.69" stroke-opacity="0.69"/>
<circle cx="79.6" cy="289.6" r="2.5" fill="#482979" stroke="#482979" fill-opacity="0.69" stroke-opacity="0.69"/>
<circle cx="346.4" cy="260.7" r="2.5" fill="#443a83" stroke="#443a83" fill-opacity="0.69" stroke-opacity="0.69"/>
<circle cx="263.1" cy="275.6" r="2.5" fill="#482677" stroke="#482677" fill-opacity="0.69" stroke-opacity="0.69"/>
<circle cx="320.1" cy="116.8" r="2.5" fill="#472d7b" stroke="#472d7b" fill-opacity="0.69" stroke-opacity="0.69"/>
<circle cx="345.4" cy="145.8" r="2.5" fill="#443983" stroke="#443983" fill-opacity="0.69" stroke-opacity="0.69"/>
<circle cx="103.9" cy="203.6" r="2.5" fill="#481c6e" stroke="#481c6e" fill-opacity="0.69" stroke-opacity="0.69"/>
<circle cx="370.8" cy="174.7" r="2.5" fill="#443983" stroke="#443983" fill-opacity="0.69" stroke-opacity="0.69"/>
<circle cx="322.1" cy="342.5" r="2.5" fill="#404588" stroke="#404588" fill-opacity="0.69" stroke-opacity="0.69"/>
<circle cx="341.9" cy="117.4" r="2.5" fill="#46327e" stroke="#46327e" fill-opacity="0.69" stroke-opacity="0.69"/>
<circle cx="128.2" cy="117.5" r="2.5" fill="#482979" stroke="#482979" fill-opacity="0.69" stroke-opacity="0.69"/>
<circle cx="254.7" cy="262.4" r="2.5" fill="#46327e" stroke="#46327e" fill-opacity="0.69" stroke-opacity="0.69"/>
<circle cx="280" cy="291.4" r="2.5" fill="#472d7b" stroke="#472d7b" fill-opacity="0.69" stroke-opacity="0.69"/>
<circle cx="305.3" cy="320.4" r="2.5" fill="#472f7d" stroke="#472f7d" fill-opacity="0.69" stroke-opacity="0.69"/>
<circle cx="363.7" cy="118.1" r="2.5" fill="#424186" stroke="#424186" fill-opacity="0.69" stroke-opacity="0.69"/>
<circle cx="279" cy="176.3" r="2.5" fill="#472d7b" stroke="#472d7b" fill-opacity="0.69" stroke-opacity="0.69"/>
<circle cx="37.2" cy="234.2" r="2.5" fill="#443a83" stroke="#443a83" fill-opacity="0.69" stroke-opacity="0.69"/>
<circle cx="304.4" cy="205.3" r="2.5" fill="#46327e" stroke="#46327e" fill-opacity="0.69" stroke-opacity="0.69"/>
<circle cx="329.7" cy="234.3" r="2.5" fill="#46327e" stroke="#46327e" fill-opacity="0.69" stroke-opacity="0.69"/>
<circle cx="385.5" cy="118.7" r="2.5" fill="#424186" stroke="#424186" fill-opacity="0.69" stroke-opacity="0.69"/>
<circle cx="230.4" cy="344.2" r="2.5" fill="#fde725" stroke="#fde725" fill-opacity="0.69" stroke-opacity="0.69"/>
<circle cx="61.5" cy="148" r="2.5" fill="#482979" stroke="#482979" fill-opacity="0.69" stroke-opacity="0.69"/>
<circle cx="271.6" cy="278.2" r="2.5" fill="#472c7a" stroke="#472c7a" fill-opacity="0.69" stroke-opacity="0.69"/>
<circle cx="328.7" cy="119.1" r="2.5" fill="#46337f" stroke="#46337f" fill-opacity="0.69" stroke-opacity="0.69"/>
<circle cx="354.1" cy="148.1" r="2.5" fill="#3f4788" stroke="#3f4788" fill-opacity="0.69" stroke-opacity="0.69"/>
<circle cx="188.1" cy="293.1" r="2.5" fill="#482576" stroke="#482576" fill-opacity="0.7" stroke-opacity="0.7"/>
<circle cx="350.6" cy="119.7" r="2.5" fill="#3d4d8a" stroke="#3d4d8a" fill-opacity="0.7" stroke-opacity="0.7"/>
<circle cx="79.3" cy="278.9" r="2.5" fill="#482979" stroke="#482979" fill-opacity="0.7" stroke-opacity="0.7"/>
<circle cx="375.9" cy="148.8" r="2.5" fill="#443a83" stroke="#443a83" fill-opacity="0.7" stroke-opacity="0.7"/>
<circle cx="212.5" cy="206.9" r="2.5" fill="#472a7a" stroke="#472a7a" fill-opacity="0.7" stroke-opacity="0.7"/>
<circle cx="263.2" cy="264.9" r="2.5" fill="#3d4d8a" stroke="#3d4d8a" fill-opacity="0.7" stroke-opacity="0.7"/>
<circle cx="288.6" cy="294" r="2.5" fill="#46327e" stroke="#46327e" fill-opacity="0.7" stroke-opacity="0.7"/>
<circle cx="236.9" cy="120.6" r="2.5" fill="#472f7d" stroke="#472f7d" fill-opacity="0.7" stroke-opacity="0.7"/>
<circle cx="287.6" cy="178.7" r="2.5" fill="#472a7a" stroke="#472a7a" fill-opacity="0.7" stroke-opacity="0.7"/>
<circle cx="313" cy="207.7" r="2.5" fill="#3c4f8a" stroke="#3c4f8a" fill-opacity="0.7" stroke-opacity="0.7"/>
<circle cx="238.8" cy="346.9" r="2.5" fill="#fde725" stroke="#fde725" fill-opacity="0.7" stroke-opacity="0.7"/>
<circle cx="121.4" cy="323.8" r="2.5" fill="#482677" stroke="#482677" fill-opacity="0.7" stroke-opacity="0.7"/>
<circle cx="280.1" cy="280.7" r="2.5" fill="#443a83" stroke="#443a83" fill-opacity="0.7" stroke-opacity="0.7"/>
<circle cx="337.4" cy="121.4" r="2.5" fill="#453882" stroke="#453882" fill-opacity="0.7" stroke-opacity="0.7"/>
<circle cx="145.8" cy="237.5" r="2.5" fill="#482979" stroke="#482979" fill-opacity="0.7" stroke-opacity="0.7"/>
<circle cx="359.2" cy="122.1" r="2.5" fill="#3e4a89" stroke="#3e4a89" fill-opacity="0.7" stroke-opacity="0.7"/>
<circle cx="170.2" cy="151.2" r="2.5" fill="#472e7c" stroke="#472e7c" fill-opacity="0.7" stroke-opacity="0.7"/>
<circle cx="271.7" cy="267.5" r="2.5" fill="#482374" stroke="#482374" fill-opacity="0.71" stroke-opacity="0.71"/>
<circle cx="297.1" cy="296.6" r="2.5" fill="#482677" stroke="#482677" fill-opacity="0.71" stroke-opacity="0.71"/>
<circle cx="322.5" cy="325.7" r="2.5" fill="#463480" stroke="#463480" fill-opacity="0.71" stroke-opacity="0.71"/>
<circle cx="381.1" cy="122.7" r="2.5" fill="#424086" stroke="#424086" fill-opacity="0.71" stroke-opacity="0.71"/>
<circle cx="188.1" cy="282.4" r="2.5" fill="#482979" stroke="#482979" fill-opacity="0.71" stroke-opacity="0.71"/>
<circle cx="296.2" cy="181.1" r="2.5" fill="#453781" stroke="#453781" fill-opacity="0.71" stroke-opacity="0.71"/>
<circle cx="321.6" cy="210.2" r="2.5" fill="#424186" stroke="#424186" fill-opacity="0.71" stroke-opacity="0.71"/>
<circle cx="78.9" cy="268.3" r="2.5" fill="#482979" stroke="#482979" fill-opacity="0.71" stroke-opacity="0.71"/>
<circle cx="347" cy="239.3" r="2.5" fill="#463480" stroke="#463480" fill-opacity="0.71" stroke-opacity="0.71"/>
<circle cx="247.3" cy="349.6" r="2.5" fill="#365d8d" stroke="#365d8d" fill-opacity="0.71" stroke-opacity="0.71"/>
<circle cx="288.7" cy="283.3" r="2.5" fill="#472e7c" stroke="#472e7c" fill-opacity="0.71" stroke-opacity="0.71"/>
<circle cx="346" cy="123.8" r="2.5" fill="#463480" stroke="#463480" fill-opacity="0.71" stroke-opacity="0.71"/>
<circle cx="103.3" cy="181.8" r="2.5" fill="#34618d" stroke="#34618d" fill-opacity="0.71" stroke-opacity="0.71"/>
<circle cx="371.5" cy="152.9" r="2.5" fill="#443a83" stroke="#443a83" fill-opacity="0.71" stroke-opacity="0.71"/>
<circle cx="230.4" cy="327.4" r="2.5" fill="#472f7d" stroke="#472f7d" fill-opacity="0.71" stroke-opacity="0.71"/>
<circle cx="254.8" cy="240.9" r="2.5" fill="#482374" stroke="#482374" fill-opacity="0.71" stroke-opacity="0.71"/>
<circle cx="280.3" cy="270.1" r="2.5" fill="#482677" stroke="#482677" fill-opacity="0.71" stroke-opacity="0.71"/>
<circle cx="305.7" cy="299.2" r="2.5" fill="#472c7a" stroke="#472c7a" fill-opacity="0.71" stroke-opacity="0.71"/>
<circle cx="279.3" cy="154.4" r="2.5" fill="#46327e" stroke="#46327e" fill-opacity="0.71" stroke-opacity="0.71"/>
<circle cx="36.3" cy="212.5" r="2.5" fill="#443983" stroke="#443983" fill-opacity="0.71" stroke-opacity="0.71"/>
<circle cx="304.8" cy="183.5" r="2.5" fill="#453882" stroke="#453882" fill-opacity="0.71" stroke-opacity="0.71"/>
<circle cx="330.2" cy="212.7" r="2.5" fill="#472e7c" stroke="#472e7c" fill-opacity="0.71" stroke-opacity="0.71"/>
<circle cx="255.9" cy="352.3" r="2.5" fill="#365d8d" stroke="#365d8d" fill-opacity="0.71" stroke-opacity="0.71"/>
<circle cx="60.7" cy="126" r="2.5" fill="#482979" stroke="#482979" fill-opacity="0.72" stroke-opacity="0.72"/>
<circle cx="297.3" cy="285.9" r="2.5" fill="#482979" stroke="#482979" fill-opacity="0.72" stroke-opacity="0.72"/>
<circle cx="354.7" cy="126.1" r="2.5" fill="#463480" stroke="#463480" fill-opacity="0.72" stroke-opacity="0.72"/>
<circle cx="188" cy="271.7" r="2.5" fill="#482071" stroke="#482071" fill-opacity="0.72" stroke-opacity="0.72"/>
<circle cx="238.9" cy="330" r="2.5" fill="#472e7c" stroke="#472e7c" fill-opacity="0.72" stroke-opacity="0.72"/>
<circle cx="376.7" cy="126.7" r="2.5" fill="#433e85" stroke="#433e85" fill-opacity="0.72" stroke-opacity="0.72"/>
<circle cx="212.4" cy="185.1" r="2.5" fill="#472e7c" stroke="#472e7c" fill-opacity="0.72" stroke-opacity="0.72"/>
<circle cx="263.4" cy="243.4" r="2.5" fill="#482878" stroke="#482878" fill-opacity="0.72" stroke-opacity="0.72"/>
<circle cx="163.5" cy="354.1" r="2.5" fill="#424086" stroke="#424086" fill-opacity="0.72" stroke-opacity="0.72"/>
<circle cx="288.9" cy="272.6" r="2.5" fill="#482979" stroke="#482979" fill-opacity="0.72" stroke-opacity="0.72"/>
<circle cx="287.9" cy="156.8" r="2.5" fill="#482979" stroke="#482979" fill-opacity="0.72" stroke-opacity="0.72"/>
<circle cx="313.4" cy="186" r="2.5" fill="#443a83" stroke="#443a83" fill-opacity="0.72" stroke-opacity="0.72"/>
<circle cx="120.9" cy="302.6" r="2.5" fill="#481c6e" stroke="#481c6e" fill-opacity="0.72" stroke-opacity="0.72"/>
<circle cx="264.4" cy="355" r="2.5" fill="#3f4788" stroke="#3f4788" fill-opacity="0.72" stroke-opacity="0.72"/>
<circle cx="305.9" cy="288.5" r="2.5" fill="#472d7b" stroke="#472d7b" fill-opacity="0.72" stroke-opacity="0.72"/>
<circle cx="145.4" cy="215.9" r="2.5" fill="#481d6f" stroke="#481d6f" fill-opacity="0.72" stroke-opacity="0.72"/>
<circle cx="247.4" cy="332.7" r="2.5" fill="#482677" stroke="#482677" fill-opacity="0.72" stroke-opacity="0.72"/>
<circle cx="169.9" cy="129.1" r="2.5" fill="#46337f" stroke="#46337f" fill-opacity="0.73" stroke-opacity="0.73"/>
<circle cx="272" cy="246" r="2.5" fill="#482576" stroke="#482576" fill-opacity="0.73" stroke-opacity="0.73"/>
<circle cx="297.5" cy="275.2" r="2.5" fill="#46307e" stroke="#46307e" fill-opacity="0.73" stroke-opacity="0.73"/>
<circle cx="323" cy="304.4" r="2.5" fill="#453882" stroke="#453882" fill-opacity="0.73" stroke-opacity="0.73"/>
<circle cx="296.5" cy="159.2" r="2.5" fill="#3e4c8a" stroke="#3e4c8a" fill-opacity="0.73" stroke-opacity="0.73"/>
<circle cx="322" cy="188.4" r="2.5" fill="#3c4f8a" stroke="#3c4f8a" fill-opacity="0.73" stroke-opacity="0.73"/>
<circle cx="78.2" cy="246.7" r="2.5" fill="#481c6e" stroke="#481c6e" fill-opacity="0.73" stroke-opacity="0.73"/>
<circle cx="347.6" cy="217.6" r="2.5" fill="#472d7b" stroke="#472d7b" fill-opacity="0.73" stroke-opacity="0.73"/>
<circle cx="273" cy="357.7" r="2.5" fill="#423f85" stroke="#423f85" fill-opacity="0.73" stroke-opacity="0.73"/>
<circle cx="102.7" cy="159.9" r="2.5" fill="#482979" stroke="#482979" fill-opacity="0.73" stroke-opacity="0.73"/>
<circle cx="372.2" cy="130.8" r="2.5" fill="#414287" stroke="#414287" fill-opacity="0.73" stroke-opacity="0.73"/>
<circle cx="230.4" cy="306.1" r="2.5" fill="#3c4f8a" stroke="#3c4f8a" fill-opacity="0.73" stroke-opacity="0.73"/>
<circle cx="256" cy="335.4" r="2.5" fill="#482475" stroke="#482475" fill-opacity="0.73" stroke-opacity="0.73"/>
<circle cx="120.7" cy="291.9" r="2.5" fill="#482979" stroke="#482979" fill-opacity="0.73" stroke-opacity="0.73"/>
<circle cx="255" cy="219.2" r="2.5" fill="#472e7c" stroke="#472e7c" fill-opacity="0.73" stroke-opacity="0.73"/>
<circle cx="280.6" cy="248.5" r="2.5" fill="#482677" stroke="#482677" fill-opacity="0.73" stroke-opacity="0.73"/>
<circle cx="306.1" cy="277.8" r="2.5" fill="#482677" stroke="#482677" fill-opacity="0.73" stroke-opacity="0.73"/>
<circle cx="279.6" cy="132.3" r="2.5" fill="#482878" stroke="#482878" fill-opacity="0.74" stroke-opacity="0.74"/>
<circle cx="35.4" cy="190.7" r="2.5" fill="#481d6f" stroke="#481d6f" fill-opacity="0.74" stroke-opacity="0.74"/>
<circle cx="305.2" cy="161.6" r="2.5" fill="#482979" stroke="#482979" fill-opacity="0.74" stroke-opacity="0.74"/>
<circle cx="330.7" cy="190.8" r="2.5" fill="#482979" stroke="#482979" fill-opacity="0.74" stroke-opacity="0.74"/>
<circle cx="281.6" cy="360.4" r="2.5" fill="#433e85" stroke="#433e85" fill-opacity="0.74" stroke-opacity="0.74"/>
<circle cx="163.2" cy="337.1" r="2.5" fill="#482576" stroke="#482576" fill-opacity="0.74" stroke-opacity="0.74"/>
<circle cx="323.2" cy="293.7" r="2.5" fill="#472c7a" stroke="#472c7a" fill-opacity="0.74" stroke-opacity="0.74"/>
<circle cx="187.8" cy="250.2" r="2.5" fill="#375b8d" stroke="#375b8d" fill-opacity="0.74" stroke-opacity="0.74"/>
<circle cx="239" cy="308.8" r="2.5" fill="#482071" stroke="#482071" fill-opacity="0.74" stroke-opacity="0.74"/>
<circle cx="264.6" cy="338.1" r="2.5" fill="#433e85" stroke="#433e85" fill-opacity="0.74" stroke-opacity="0.74"/>
<circle cx="212.4" cy="163.1" r="2.5" fill="#443a83" stroke="#443a83" fill-opacity="0.74" stroke-opacity="0.74"/>
<circle cx="263.6" cy="221.7" r="2.5" fill="#472a7a" stroke="#472a7a" fill-opacity="0.74" stroke-opacity="0.74"/>
<circle cx="289.2" cy="251.1" r="2.5" fill="#453882" stroke="#453882" fill-opacity="0.74" stroke-opacity="0.74"/>
<circle cx="230.4" cy="295.4" r="2.5" fill="#3d4e8a" stroke="#3d4e8a" fill-opacity="0.74" stroke-opacity="0.74"/>
<circle cx="288.2" cy="134.6" r="2.5" fill="#46337f" stroke="#46337f" fill-opacity="0.74" stroke-opacity="0.74"/>
<circle cx="313.8" cy="164" r="2.5" fill="#46337f" stroke="#46337f" fill-opacity="0.74" stroke-opacity="0.74"/>
<circle cx="120.4" cy="281.2" r="2.5" fill="#481c6e" stroke="#481c6e" fill-opacity="0.74" stroke-opacity="0.74"/>
<circle cx="145" cy="194" r="2.5" fill="#482374" stroke="#482374" fill-opacity="0.75" stroke-opacity="0.75"/>
<circle cx="247.5" cy="311.4" r="2.5" fill="#365c8d" stroke="#365c8d" fill-opacity="0.75" stroke-opacity="0.75"/>
<circle cx="273.2" cy="340.8" r="2.5" fill="#482979" stroke="#482979" fill-opacity="0.75" stroke-opacity="0.75"/>
<circle cx="272.2" cy="224.2" r="2.5" fill="#472c7a" stroke="#472c7a" fill-opacity="0.75" stroke-opacity="0.75"/>
<circle cx="297.8" cy="253.6" r="2.5" fill="#472c7a" stroke="#472c7a" fill-opacity="0.75" stroke-opacity="0.75"/>
<circle cx="323.5" cy="283" r="2.5" fill="#443b84" stroke="#443b84" fill-opacity="0.75" stroke-opacity="0.75"/>
<circle cx="239" cy="298.1" r="2.5" fill="#482878" stroke="#482878" fill-opacity="0.75" stroke-opacity="0.75"/>
<circle cx="296.9" cy="137" r="2.5" fill="#453882" stroke="#453882" fill-opacity="0.75" stroke-opacity="0.75"/>
<circle cx="322.5" cy="166.4" r="2.5" fill="#453581" stroke="#453581" fill-opacity="0.75" stroke-opacity="0.75"/>
<circle cx="77.5" cy="225" r="2.5" fill="#481c6e" stroke="#481c6e" fill-opacity="0.75" stroke-opacity="0.75"/>
<circle cx="348.2" cy="195.7" r="2.5" fill="#46327e" stroke="#46327e" fill-opacity="0.75" stroke-opacity="0.75"/>
<circle cx="298.9" cy="365.9" r="2.5" fill="#3c4f8a" stroke="#3c4f8a" fill-opacity="0.75" stroke-opacity="0.75"/>
<circle cx="102.1" cy="137.7" r="2.5" fill="#481a6c" stroke="#481a6c" fill-opacity="0.75" stroke-opacity="0.75"/>
<circle cx="230.5" cy="284.7" r="2.5" fill="#482979" stroke="#482979" fill-opacity="0.75" stroke-opacity="0.75"/>
<circle cx="256.1" cy="314.1" r="2.5" fill="#472e7c" stroke="#472e7c" fill-opacity="0.75" stroke-opacity="0.75"/>
<circle cx="281.8" cy="343.5" r="2.5" fill="#453781" stroke="#453781" fill-opacity="0.75" stroke-opacity="0.75"/>
<circle cx="255.1" cy="197.3" r="2.5" fill="#433e85" stroke="#433e85" fill-opacity="0.76" stroke-opacity="0.76"/>
<circle cx="280.8" cy="226.8" r="2.5" fill="#472d7b" stroke="#472d7b" fill-opacity="0.76" stroke-opacity="0.76"/>
<circle cx="306.5" cy="256.2" r="2.5" fill="#443983" stroke="#443983" fill-opacity="0.76" stroke-opacity="0.76"/>
<circle cx="205.8" cy="367.7" r="2.5" fill="#fde725" stroke="#fde725" fill-opacity="0.76" stroke-opacity="0.76"/>
<circle cx="34.5" cy="168.7" r="2.5" fill="#46327e" stroke="#46327e" fill-opacity="0.76" stroke-opacity="0.76"/>
<circle cx="247.6" cy="300.7" r="2.5" fill="#472d7b" stroke="#472d7b" fill-opacity="0.76" stroke-opacity="0.76"/>
<circle cx="305.5" cy="139.4" r="2.5" fill="#472a7a" stroke="#472a7a" fill-opacity="0.76" stroke-opacity="0.76"/>
<circle cx="331.3" cy="168.8" r="2.5" fill="#423f85" stroke="#423f85" fill-opacity="0.76" stroke-opacity="0.76"/>
<circle cx="162.9" cy="315.8" r="2.5" fill="#482677" stroke="#482677" fill-opacity="0.76" stroke-opacity="0.76"/>
<circle cx="187.6" cy="228.4" r="2.5" fill="#472d7b" stroke="#472d7b" fill-opacity="0.76" stroke-opacity="0.76"/>
<circle cx="239" cy="287.3" r="2.5" fill="#482878" stroke="#482878" fill-opacity="0.76" stroke-opacity="0.76"/>
<circle cx="264.8" cy="316.7" r="2.5" fill="#482475" stroke="#482475" fill-opacity="0.76" stroke-opacity="0.76"/>
<circle cx="212.3" cy="140.9" r="2.5" fill="#423f85" stroke="#423f85" fill-opacity="0.76" stroke-opacity="0.76"/>
<circle cx="263.8" cy="199.8" r="2.5" fill="#472e7c" stroke="#472e7c" fill-opacity="0.76" stroke-opacity="0.76"/>
<circle cx="289.5" cy="229.3" r="2.5" fill="#472e7c" stroke="#472e7c" fill-opacity="0.76" stroke-opacity="0.76"/>
<circle cx="214.3" cy="370.4" r="2.5" fill="#fde725" stroke="#fde725" fill-opacity="0.76" stroke-opacity="0.76"/>
<circle cx="256.2" cy="303.3" r="2.5" fill="#482576" stroke="#482576" fill-opacity="0.77" stroke-opacity="0.77"/>
<circle cx="314.3" cy="141.7" r="2.5" fill="#482979" stroke="#482979" fill-opacity="0.77" stroke-opacity="0.77"/>
<circle cx="119.9" cy="259.5" r="2.5" fill="#481c6e" stroke="#481c6e" fill-opacity="0.77" stroke-opacity="0.77"/>
<circle cx="144.6" cy="171.9" r="2.5" fill="#481f70" stroke="#481f70" fill-opacity="0.77" stroke-opacity="0.77"/>
<circle cx="247.6" cy="289.9" r="2.5" fill="#482374" stroke="#482374" fill-opacity="0.77" stroke-opacity="0.77"/>
<circle cx="273.4" cy="319.4" r="2.5" fill="#3a548c" stroke="#3a548c" fill-opacity="0.77" stroke-opacity="0.77"/>
<circle cx="299.2" cy="348.9" r="2.5" fill="#414487" stroke="#414487" fill-opacity="0.77" stroke-opacity="0.77"/>
<circle cx="162.8" cy="305.1" r="2.5" fill="#472e7c" stroke="#472e7c" fill-opacity="0.77" stroke-opacity="0.77"/>
<circle cx="272.4" cy="202.3" r="2.5" fill="#433d84" stroke="#433d84" fill-opacity="0.77" stroke-opacity="0.77"/>
<circle cx="298.2" cy="231.8" r="2.5" fill="#482677" stroke="#482677" fill-opacity="0.77" stroke-opacity="0.77"/>
<circle cx="324" cy="261.3" r="2.5" fill="#472e7c" stroke="#472e7c" fill-opacity="0.77" stroke-opacity="0.77"/>
<circle cx="222.9" cy="373.2" r="2.5" fill="#3d4e8a" stroke="#3d4e8a" fill-opacity="0.77" stroke-opacity="0.77"/>
<circle cx="264.9" cy="306" r="2.5" fill="#472a7a" stroke="#472a7a" fill-opacity="0.77" stroke-opacity="0.77"/>
<circle cx="323" cy="144.1" r="2.5" fill="#46327e" stroke="#46327e" fill-opacity="0.77" stroke-opacity="0.77"/>
<circle cx="76.8" cy="203" r="2.5" fill="#481a6c" stroke="#481a6c" fill-opacity="0.77" stroke-opacity="0.77"/>
<circle cx="348.8" cy="173.7" r="2.5" fill="#453581" stroke="#453581" fill-opacity="0.77" stroke-opacity="0.77"/>
<circle cx="205.7" cy="350.7" r="2.5" fill="#472d7b" stroke="#472d7b" fill-opacity="0.77" stroke-opacity="0.77"/>
<circle cx="230.5" cy="263" r="2.5" fill="#482878" stroke="#482878" fill-opacity="0.78" stroke-opacity="0.78"/>
<circle cx="256.3" cy="292.5" r="2.5" fill="#472a7a" stroke="#472a7a" fill-opacity="0.78" stroke-opacity="0.78"/>
<circle cx="282.1" cy="322.1" r="2.5" fill="#46337f" stroke="#46337f" fill-opacity="0.78" stroke-opacity="0.78"/>
<circle cx="255.3" cy="175.2" r="2.5" fill="#463480" stroke="#463480" fill-opacity="0.78" stroke-opacity="0.78"/>
<circle cx="281.1" cy="204.8" r="2.5" fill="#482979" stroke="#482979" fill-opacity="0.78" stroke-opacity="0.78"/>
<circle cx="306.9" cy="234.3" r="2.5" fill="#472e7c" stroke="#472e7c" fill-opacity="0.78" stroke-opacity="0.78"/>
<circle cx="231.5" cy="376" r="2.5" fill="#433e85" stroke="#433e85" fill-opacity="0.78" stroke-opacity="0.78"/>
<circle cx="33.5" cy="146.4" r="2.5" fill="#481a6c" stroke="#481a6c" fill-opacity="0.78" stroke-opacity="0.78"/>
<circle cx="273.5" cy="308.7" r="2.5" fill="#472a7a" stroke="#472a7a" fill-opacity="0.78" stroke-opacity="0.78"/>
<circle cx="331.8" cy="146.5" r="2.5" fill="#424086" stroke="#424086" fill-opacity="0.78" stroke-opacity="0.78"/>
<circle cx="162.6" cy="294.3" r="2.5" fill="#443b84" stroke="#443b84" fill-opacity="0.78" stroke-opacity="0.78"/>
<circle cx="214.3" cy="353.4" r="2.5" fill="#453781" stroke="#453781" fill-opacity="0.78" stroke-opacity="0.78"/>
<circle cx="187.4" cy="206.4" r="2.5" fill="#472d7b" stroke="#472d7b" fill-opacity="0.78" stroke-opacity="0.78"/>
<circle cx="239.1" cy="265.6" r="2.5" fill="#472e7c" stroke="#472e7c" fill-opacity="0.78" stroke-opacity="0.78"/>
<circle cx="265" cy="295.2" r="2.5" fill="#482878" stroke="#482878" fill-opacity="0.78" stroke-opacity="0.78"/>
<circle cx="264" cy="177.7" r="2.5" fill="#355f8d" stroke="#355f8d" fill-opacity="0.79" stroke-opacity="0.79"/>
<circle cx="289.8" cy="207.3" r="2.5" fill="#443983" stroke="#443983" fill-opacity="0.79" stroke-opacity="0.79"/>
<circle cx="240.1" cy="378.8" r="2.5" fill="#433e85" stroke="#433e85" fill-opacity="0.79" stroke-opacity="0.79"/>
<circle cx="282.2" cy="311.3" r="2.5" fill="#482475" stroke="#482475" fill-opacity="0.79" stroke-opacity="0.79"/>
<circle cx="119.4" cy="237.7" r="2.5" fill="#48186a" stroke="#48186a" fill-opacity="0.79" stroke-opacity="0.79"/>
<circle cx="222.9" cy="356.2" r="2.5" fill="#482475" stroke="#482475" fill-opacity="0.79" stroke-opacity="0.79"/>
<circle cx="144.2" cy="149.7" r="2.5" fill="#482576" stroke="#482576" fill-opacity="0.79" stroke-opacity="0.79"/>
<circle cx="247.8" cy="268.2" r="2.5" fill="#433d84" stroke="#433d84" fill-opacity="0.79" stroke-opacity="0.79"/>
<circle cx="273.7" cy="297.8" r="2.5" fill="#3e4989" stroke="#3e4989" fill-opacity="0.79" stroke-opacity="0.79"/>
<circle cx="299.5" cy="327.5" r="2.5" fill="#482475" stroke="#482475" fill-opacity="0.79" stroke-opacity="0.79"/>
<circle cx="272.7" cy="180.1" r="2.5" fill="#443b84" stroke="#443b84" fill-opacity="0.79" stroke-opacity="0.79"/>
<circle cx="298.6" cy="209.8" r="2.5" fill="#482677" stroke="#482677" fill-opacity="0.79" stroke-opacity="0.79"/>
<circle cx="324.5" cy="239.4" r="2.5" fill="#453882" stroke="#453882" fill-opacity="0.79" stroke-opacity="0.79"/>
<circle cx="248.8" cy="381.6" r="2.5" fill="#355f8d" stroke="#355f8d" fill-opacity="0.79" stroke-opacity="0.79"/>
<circle cx="76.1" cy="180.9" r="2.5" fill="#481a6c" stroke="#481a6c" fill-opacity="0.8" stroke-opacity="0.8"/>
<circle cx="349.4" cy="151.3" r="2.5" fill="#46327e" stroke="#46327e" fill-opacity="0.8" stroke-opacity="0.8"/>
<circle cx="205.6" cy="329.2" r="2.5" fill="#482374" stroke="#482374" fill-opacity="0.8" stroke-opacity="0.8"/>
<circle cx="231.5" cy="358.9" r="2.5" fill="#472d7b" stroke="#472d7b" fill-opacity="0.8" stroke-opacity="0.8"/>
<circle cx="230.5" cy="241.1" r="2.5" fill="#3f4788" stroke="#3f4788" fill-opacity="0.8" stroke-opacity="0.8"/>
<circle cx="256.4" cy="270.8" r="2.5" fill="#482071" stroke="#482071" fill-opacity="0.8" stroke-opacity="0.8"/>
<circle cx="282.4" cy="300.5" r="2.5" fill="#472d7b" stroke="#472d7b" fill-opacity="0.8" stroke-opacity="0.8"/>
<circle cx="255.5" cy="152.9" r="2.5" fill="#472a7a" stroke="#472a7a" fill-opacity="0.8" stroke-opacity="0.8"/>
<circle cx="281.4" cy="182.6" r="2.5" fill="#46327e" stroke="#46327e" fill-opacity="0.8" stroke-opacity="0.8"/>
<circle cx="307.3" cy="212.3" r="2.5" fill="#482878" stroke="#482878" fill-opacity="0.8" stroke-opacity="0.8"/>
<circle cx="257.5" cy="384.4" r="2.5" fill="#3b528b" stroke="#3b528b" fill-opacity="0.8" stroke-opacity="0.8"/>
<circle cx="299.7" cy="316.7" r="2.5" fill="#482576" stroke="#482576" fill-opacity="0.8" stroke-opacity="0.8"/>
<circle cx="162.3" cy="272.5" r="2.5" fill="#482576" stroke="#482576" fill-opacity="0.8" stroke-opacity="0.8"/>
<circle cx="214.2" cy="332" r="2.5" fill="#32648e" stroke="#32648e" fill-opacity="0.8" stroke-opacity="0.8"/>
<circle cx="240.2" cy="361.7" r="2.5" fill="#472a7a" stroke="#472a7a" fill-opacity="0.8" stroke-opacity="0.8"/>
<circle cx="187.3" cy="184.2" r="2.5" fill="#472e7c" stroke="#472e7c" fill-opacity="0.81" stroke-opacity="0.81"/>
<circle cx="239.2" cy="243.7" r="2.5" fill="#482374" stroke="#482374" fill-opacity="0.81" stroke-opacity="0.81"/>
<circle cx="265.2" cy="273.4" r="2.5" fill="#443983" stroke="#443983" fill-opacity="0.81" stroke-opacity="0.81"/>
<circle cx="205.6" cy="318.4" r="2.5" fill="#482173" stroke="#482173" fill-opacity="0.81" stroke-opacity="0.81"/>
<circle cx="264.2" cy="155.3" r="2.5" fill="#472e7c" stroke="#472e7c" fill-opacity="0.81" stroke-opacity="0.81"/>
<circle cx="290.1" cy="185.1" r="2.5" fill="#482878" stroke="#482878" fill-opacity="0.81" stroke-opacity="0.81"/>
<circle cx="118.9" cy="215.6" r="2.5" fill="#481668" stroke="#481668" fill-opacity="0.81" stroke-opacity="0.81"/>
<circle cx="222.9" cy="334.7" r="2.5" fill="#482173" stroke="#482173" fill-opacity="0.81" stroke-opacity="0.81"/>
<circle cx="248.9" cy="364.5" r="2.5" fill="#472d7b" stroke="#472d7b" fill-opacity="0.81" stroke-opacity="0.81"/>
<circle cx="247.9" cy="246.3" r="2.5" fill="#472f7d" stroke="#472f7d" fill-opacity="0.81" stroke-opacity="0.81"/>
<circle cx="273.9" cy="276.1" r="2.5" fill="#482878" stroke="#482878" fill-opacity="0.81" stroke-opacity="0.81"/>
<circle cx="299.9" cy="305.8" r="2.5" fill="#453781" stroke="#453781" fill-opacity="0.81" stroke-opacity="0.81"/>
<circle cx="214.2" cy="321.1" r="2.5" fill="#481f70" stroke="#481f70" fill-opacity="0.82" stroke-opacity="0.82"/>
<circle cx="272.9" cy="157.8" r="2.5" fill="#482979" stroke="#482979" fill-opacity="0.82" stroke-opacity="0.82"/>
<circle cx="298.9" cy="187.6" r="2.5" fill="#472e7c" stroke="#472e7c" fill-opacity="0.82" stroke-opacity="0.82"/>
<circle cx="325" cy="217.4" r="2.5" fill="#443a83" stroke="#443a83" fill-opacity="0.82" stroke-opacity="0.82"/>
<circle cx="274.9" cy="390" r="2.5" fill="#fde725" stroke="#fde725" fill-opacity="0.82" stroke-opacity="0.82"/>
<circle cx="75.3" cy="158.5" r="2.5" fill="#481a6c" stroke="#481a6c" fill-opacity="0.82" stroke-opacity="0.82"/>
<circle cx="205.5" cy="307.6" r="2.5" fill="#482576" stroke="#482576" fill-opacity="0.82" stroke-opacity="0.82"/>
<circle cx="231.6" cy="337.4" r="2.5" fill="#463480" stroke="#463480" fill-opacity="0.82" stroke-opacity="0.82"/>
<circle cx="257.6" cy="367.2" r="2.5" fill="#46327e" stroke="#46327e" fill-opacity="0.82" stroke-opacity="0.82"/>
<circle cx="230.6" cy="219" r="2.5" fill="#472e7c" stroke="#472e7c" fill-opacity="0.82" stroke-opacity="0.82"/>
<circle cx="256.6" cy="248.8" r="2.5" fill="#482475" stroke="#482475" fill-opacity="0.82" stroke-opacity="0.82"/>
<circle cx="282.7" cy="278.7" r="2.5" fill="#482475" stroke="#482475" fill-opacity="0.82" stroke-opacity="0.82"/>
<circle cx="222.9" cy="323.9" r="2.5" fill="#482374" stroke="#482374" fill-opacity="0.82" stroke-opacity="0.82"/>
<circle cx="281.7" cy="160.2" r="2.5" fill="#472a7a" stroke="#472a7a" fill-opacity="0.82" stroke-opacity="0.82"/>
<circle cx="307.7" cy="190.1" r="2.5" fill="#472a7a" stroke="#472a7a" fill-opacity="0.82" stroke-opacity="0.82"/>
<circle cx="162" cy="250.5" r="2.5" fill="#482173" stroke="#482173" fill-opacity="0.83" stroke-opacity="0.83"/>
<circle cx="214.2" cy="310.3" r="2.5" fill="#482576" stroke="#482576" fill-opacity="0.83" stroke-opacity="0.83"/>
<circle cx="240.3" cy="340.2" r="2.5" fill="#472d7b" stroke="#472d7b" fill-opacity="0.83" stroke-opacity="0.83"/>
<circle cx="187.1" cy="161.8" r="2.5" fill="#481d6f" stroke="#481d6f" fill-opacity="0.83" stroke-opacity="0.83"/>
<circle cx="239.3" cy="221.6" r="2.5" fill="#472a7a" stroke="#472a7a" fill-opacity="0.83" stroke-opacity="0.83"/>
<circle cx="265.4" cy="251.4" r="2.5" fill="#472e7c" stroke="#472e7c" fill-opacity="0.83" stroke-opacity="0.83"/>
<circle cx="231.6" cy="326.6" r="2.5" fill="#472c7a" stroke="#472c7a" fill-opacity="0.83" stroke-opacity="0.83"/>
<circle cx="290.5" cy="162.7" r="2.5" fill="#46307e" stroke="#46307e" fill-opacity="0.83" stroke-opacity="0.83"/>
<circle cx="118.4" cy="193.3" r="2.5" fill="#3b518b" stroke="#3b518b" fill-opacity="0.83" stroke-opacity="0.83"/>
<circle cx="222.9" cy="313" r="2.5" fill="#472e7c" stroke="#472e7c" fill-opacity="0.83" stroke-opacity="0.83"/>
<circle cx="249" cy="342.9" r="2.5" fill="#46327e" stroke="#46327e" fill-opacity="0.83" stroke-opacity="0.83"/>
<circle cx="275.1" cy="372.8" r="2.5" fill="#46337f" stroke="#46337f" fill-opacity="0.83" stroke-opacity="0.83"/>
<circle cx="248" cy="224.1" r="2.5" fill="#46327e" stroke="#46327e" fill-opacity="0.84" stroke-opacity="0.84"/>
<circle cx="274.1" cy="254" r="2.5" fill="#46307e" stroke="#46307e" fill-opacity="0.84" stroke-opacity="0.84"/>
<circle cx="300.3" cy="284" r="2.5" fill="#482173" stroke="#482173" fill-opacity="0.84" stroke-opacity="0.84"/>
<circle cx="240.3" cy="329.3" r="2.5" fill="#443983" stroke="#443983" fill-opacity="0.84" stroke-opacity="0.84"/>
<circle cx="299.3" cy="165.1" r="2.5" fill="#472a7a" stroke="#472a7a" fill-opacity="0.84" stroke-opacity="0.84"/>
<circle cx="325.5" cy="195.1" r="2.5" fill="#414487" stroke="#414487" fill-opacity="0.84" stroke-opacity="0.84"/>
<circle cx="205.4" cy="285.7" r="2.5" fill="#3b518b" stroke="#3b518b" fill-opacity="0.84" stroke-opacity="0.84"/>
<circle cx="231.6" cy="315.7" r="2.5" fill="#3b518b" stroke="#3b518b" fill-opacity="0.84" stroke-opacity="0.84"/>
<circle cx="257.8" cy="345.7" r="2.5" fill="#482576" stroke="#482576" fill-opacity="0.84" stroke-opacity="0.84"/>
<circle cx="230.6" cy="196.7" r="2.5" fill="#2f6c8e" stroke="#2f6c8e" fill-opacity="0.84" stroke-opacity="0.84"/>
<circle cx="256.8" cy="226.7" r="2.5" fill="#472d7b" stroke="#472d7b" fill-opacity="0.84" stroke-opacity="0.84"/>
<circle cx="283" cy="256.7" r="2.5" fill="#482173" stroke="#482173" fill-opacity="0.84" stroke-opacity="0.84"/>
<circle cx="249.1" cy="332.1" r="2.5" fill="#482071" stroke="#482071" fill-opacity="0.85" stroke-opacity="0.85"/>
<circle cx="308.2" cy="167.6" r="2.5" fill="#482979" stroke="#482979" fill-opacity="0.85" stroke-opacity="0.85"/>
<circle cx="161.7" cy="228.3" r="2.5" fill="#482374" stroke="#482374" fill-opacity="0.85" stroke-opacity="0.85"/>
<circle cx="214.1" cy="288.4" r="2.5" fill="#482475" stroke="#482475" fill-opacity="0.85" stroke-opacity="0.85"/>
<circle cx="240.4" cy="318.4" r="2.5" fill="#3e4c8a" stroke="#3e4c8a" fill-opacity="0.85" stroke-opacity="0.85"/>
<circle cx="239.3" cy="199.2" r="2.5" fill="#482475" stroke="#482475" fill-opacity="0.85" stroke-opacity="0.85"/>
<circle cx="265.6" cy="229.2" r="2.5" fill="#482576" stroke="#482576" fill-opacity="0.85" stroke-opacity="0.85"/>
<circle cx="257.9" cy="334.8" r="2.5" fill="#482475" stroke="#482475" fill-opacity="0.85" stroke-opacity="0.85"/>
<circle cx="117.8" cy="170.8" r="2.5" fill="#48186a" stroke="#48186a" fill-opacity="0.86" stroke-opacity="0.86"/>
<circle cx="222.9" cy="291.1" r="2.5" fill="#482374" stroke="#482374" fill-opacity="0.86" stroke-opacity="0.86"/>
<circle cx="249.1" cy="321.1" r="2.5" fill="#482475" stroke="#482475" fill-opacity="0.86" stroke-opacity="0.86"/>
<circle cx="275.4" cy="351.2" r="2.5" fill="#482677" stroke="#482677" fill-opacity="0.86" stroke-opacity="0.86"/>
<circle cx="248.1" cy="201.7" r="2.5" fill="#46337f" stroke="#46337f" fill-opacity="0.86" stroke-opacity="0.86"/>
<circle cx="274.4" cy="231.8" r="2.5" fill="#482677" stroke="#482677" fill-opacity="0.86" stroke-opacity="0.86"/>
<circle cx="300.7" cy="261.9" r="2.5" fill="#472d7b" stroke="#472d7b" fill-opacity="0.86" stroke-opacity="0.86"/>
<circle cx="326" cy="172.5" r="2.5" fill="#443a83" stroke="#443a83" fill-opacity="0.86" stroke-opacity="0.86"/>
<circle cx="205.3" cy="263.6" r="2.5" fill="#482071" stroke="#482071" fill-opacity="0.86" stroke-opacity="0.86"/>
<circle cx="231.6" cy="293.7" r="2.5" fill="#482475" stroke="#482475" fill-opacity="0.86" stroke-opacity="0.86"/>
<circle cx="257.9" cy="323.9" r="2.5" fill="#482374" stroke="#482374" fill-opacity="0.87" stroke-opacity="0.87"/>
<circle cx="230.6" cy="174.1" r="2.5" fill="#482878" stroke="#482878" fill-opacity="0.87" stroke-opacity="0.87"/>
<circle cx="256.9" cy="204.3" r="2.5" fill="#463480" stroke="#463480" fill-opacity="0.87" stroke-opacity="0.87"/>
<circle cx="283.3" cy="234.4" r="2.5" fill="#482374" stroke="#482374" fill-opacity="0.87" stroke-opacity="0.87"/>
<circle cx="275.5" cy="340.3" r="2.5" fill="#482475" stroke="#482475" fill-opacity="0.87" stroke-opacity="0.87"/>
<circle cx="161.4" cy="205.9" r="2.5" fill="#482576" stroke="#482576" fill-opacity="0.87" stroke-opacity="0.87"/>
<circle cx="214.1" cy="266.3" r="2.5" fill="#481c6e" stroke="#481c6e" fill-opacity="0.87" stroke-opacity="0.87"/>
<circle cx="240.4" cy="296.4" r="2.5" fill="#46327e" stroke="#46327e" fill-opacity="0.87" stroke-opacity="0.87"/>
<circle cx="239.4" cy="176.6" r="2.5" fill="#482979" stroke="#482979" fill-opacity="0.87" stroke-opacity="0.87"/>
<circle cx="265.8" cy="206.8" r="2.5" fill="#472a7a" stroke="#472a7a" fill-opacity="0.87" stroke-opacity="0.87"/>
<circle cx="222.9" cy="268.9" r="2.5" fill="#46307e" stroke="#46307e" fill-opacity="0.88" stroke-opacity="0.88"/>
<circle cx="249.3" cy="299.2" r="2.5" fill="#482475" stroke="#482475" fill-opacity="0.88" stroke-opacity="0.88"/>
<circle cx="275.7" cy="329.4" r="2.5" fill="#482475" stroke="#482475" fill-opacity="0.88" stroke-opacity="0.88"/>
<circle cx="248.2" cy="179.1" r="2.5" fill="#472d7b" stroke="#472d7b" fill-opacity="0.88" stroke-opacity="0.88"/>
<circle cx="274.7" cy="209.4" r="2.5" fill="#414287" stroke="#414287" fill-opacity="0.88" stroke-opacity="0.88"/>
<circle cx="301.1" cy="239.6" r="2.5" fill="#472d7b" stroke="#472d7b" fill-opacity="0.88" stroke-opacity="0.88"/>
<circle cx="205.2" cy="241.3" r="2.5" fill="#481f70" stroke="#481f70" fill-opacity="0.89" stroke-opacity="0.89"/>
<circle cx="231.7" cy="271.6" r="2.5" fill="#482173" stroke="#482173" fill-opacity="0.89" stroke-opacity="0.89"/>
<circle cx="258.1" cy="301.9" r="2.5" fill="#481f70" stroke="#481f70" fill-opacity="0.89" stroke-opacity="0.89"/>
<circle cx="257.1" cy="181.7" r="2.5" fill="#463480" stroke="#463480" fill-opacity="0.89" stroke-opacity="0.89"/>
<circle cx="283.6" cy="211.9" r="2.5" fill="#472a7a" stroke="#472a7a" fill-opacity="0.89" stroke-opacity="0.89"/>
<circle cx="161.1" cy="183.3" r="2.5" fill="#39568c" stroke="#39568c" fill-opacity="0.9" stroke-opacity="0.9"/>
<circle cx="214" cy="243.9" r="2.5" fill="#481f70" stroke="#481f70" fill-opacity="0.9" stroke-opacity="0.9"/>
<circle cx="240.5" cy="274.3" r="2.5" fill="#414287" stroke="#414287" fill-opacity="0.9" stroke-opacity="0.9"/>
<circle cx="266" cy="184.2" r="2.5" fill="#482677" stroke="#482677" fill-opacity="0.9" stroke-opacity="0.9"/>
<circle cx="222.9" cy="246.6" r="2.5" fill="#46327e" stroke="#46327e" fill-opacity="0.9" stroke-opacity="0.9"/>
<circle cx="249.4" cy="276.9" r="2.5" fill="#481d6f" stroke="#481d6f" fill-opacity="0.9" stroke-opacity="0.9"/>
<circle cx="275.9" cy="307.3" r="2.5" fill="#472d7b" stroke="#472d7b" fill-opacity="0.9" stroke-opacity="0.9"/>
<circle cx="274.9" cy="186.7" r="2.5" fill="#46327e" stroke="#46327e" fill-opacity="0.91" stroke-opacity="0.91"/>
<circle cx="301.5" cy="217.1" r="2.5" fill="#482374" stroke="#482374" fill-opacity="0.91" stroke-opacity="0.91"/>
<circle cx="205.1" cy="218.8" r="2.5" fill="#440154" stroke="#440154" fill-opacity="0.91" stroke-opacity="0.91"/>
<circle cx="231.7" cy="249.2" r="2.5" fill="#46337f" stroke="#46337f" fill-opacity="0.91" stroke-opacity="0.91"/>
<circle cx="258.3" cy="279.6" r="2.5" fill="#482677" stroke="#482677" fill-opacity="0.91" stroke-opacity="0.91"/>
<circle cx="283.9" cy="189.2" r="2.5" fill="#482173" stroke="#482173" fill-opacity="0.91" stroke-opacity="0.91"/>
<circle cx="214" cy="221.4" r="2.5" fill="#482475" stroke="#482475" fill-opacity="0.92" stroke-opacity="0.92"/>
<circle cx="240.6" cy="251.8" r="2.5" fill="#472f7d" stroke="#472f7d" fill-opacity="0.92" stroke-opacity="0.92"/>
<circle cx="222.9" cy="224" r="2.5" fill="#443b84" stroke="#443b84" fill-opacity="0.93" stroke-opacity="0.93"/>
<circle cx="249.5" cy="254.5" r="2.5" fill="#472c7a" stroke="#472c7a" fill-opacity="0.93" stroke-opacity="0.93"/>
<circle cx="276.2" cy="285" r="2.5" fill="#482071" stroke="#482071" fill-opacity="0.93" stroke-opacity="0.93"/>
<circle cx="301.8" cy="194.3" r="2.5" fill="#482576" stroke="#482576" fill-opacity="0.93" stroke-opacity="0.93"/>
<circle cx="205.1" cy="196" r="2.5" fill="#482173" stroke="#482173" fill-opacity="0.93" stroke-opacity="0.93"/>
<circle cx="231.8" cy="226.6" r="2.5" fill="#482878" stroke="#482878" fill-opacity="0.94" stroke-opacity="0.94"/>
<circle cx="258.5" cy="257.2" r="2.5" fill="#482979" stroke="#482979" fill-opacity="0.94" stroke-opacity="0.94"/>
<circle cx="213.9" cy="198.6" r="2.5" fill="#481f70" stroke="#481f70" fill-opacity="0.94" stroke-opacity="0.94"/>
<circle cx="240.7" cy="229.2" r="2.5" fill="#38588c" stroke="#38588c" fill-opacity="0.94" stroke-opacity="0.94"/>
<circle cx="222.9" cy="201.2" r="2.5" fill="#443b84" stroke="#443b84" fill-opacity="0.95" stroke-opacity="0.95"/>
<circle cx="249.7" cy="231.8" r="2.5" fill="#404688" stroke="#404688" fill-opacity="0.95" stroke-opacity="0.95"/>
<circle cx="276.5" cy="262.5" r="2.5" fill="#482979" stroke="#482979" fill-opacity="0.95" stroke-opacity="0.95"/>
<circle cx="231.8" cy="203.7" r="2.5" fill="#482173" stroke="#482173" fill-opacity="0.96" stroke-opacity="0.96"/>
<circle cx="258.6" cy="234.5" r="2.5" fill="#482979" stroke="#482979" fill-opacity="0.96" stroke-opacity="0.96"/>
<circle cx="240.8" cy="206.3" r="2.5" fill="#472d7b" stroke="#472d7b" fill-opacity="0.97" stroke-opacity="0.97"/>
<circle cx="249.8" cy="208.9" r="2.5" fill="#481d6f" stroke="#481d6f" fill-opacity="0.98" stroke-opacity="0.98"/>
<circle cx="276.7" cy="239.8" r="2.5" fill="#482071" stroke="#482071" fill-opacity="0.98" stroke-opacity="0.98"/>
<circle cx="258.8" cy="211.6" r="2.5" fill="#482173" stroke="#482173" fill-opacity="0.98" stroke-opacity="0.98"/>
<circle cx="277" cy="216.8" r="2.5" fill="#46327e" stroke="#46327e" fill-opacity="1" stroke-opacity="1"/>
</g>
<circle cx="205.1" cy="218.8" r="5.6" fill="none" stroke="#f00" stroke-width="2.2"/>
<defs><linearGradient id="vg" x1="0" y1="1" x2="0" y2="0">
<stop offset="0" stop-color="#440154"/>
<stop offset="0.04" stop-color="#471063"/>
<stop offset="0.08" stop-color="#481f70"/>
<stop offset="0.12" stop-color="#472d7b"/>
<stop offset="0.17" stop-color="#443983"/>
<stop offset="0.21" stop-color="#404688"/>
<stop offset="0.25" stop-color="#3b528b"/>
<stop offset="0.29" stop-color="#365d8d"/>
<stop offset="0.33" stop-color="#31688e"/>
<stop offset="0.38" stop-color="#2c728e"/>
<stop offset="0.42" stop-color="#287c8e"/>
<stop offset="0.46" stop-color="#24868e"/>
<stop offset="0.5" stop-color="#21918c"/>
<stop offset="0.54" stop-color="#1f9a8a"/>
<stop offset="0.58" stop-color="#20a486"/>
<stop offset="0.62" stop-color="#28ae80"/>
<stop offset="0.67" stop-color="#35b779"/>
<stop offset="0.71" stop-color="#48c16e"/>
<stop offset="0.75" stop-color="#5ec962"/>
<stop offset="0.79" stop-color="#75d054"/>
<stop offset="0.83" stop-color="#90d743"/>
<stop offset="0.88" stop-color="#addc30"/>
<stop offset="0.92" stop-color="#c8e020"/>
<stop offset="0.96" stop-color="#e5e419"/>
<stop offset="1" stop-color="#fde725"/>
</linearGradient></defs>
<rect x="486.1" y="26.5" width="18.7" height="357.4" fill="url(#vg)" stroke="#1c1c1c" stroke-width="0.85"/>
<g stroke="#000" stroke-width="1">
<line x1="504.8" y1="63.4" x2="508.8" y2="63.4"/>
<line x1="504.8" y1="131.6" x2="508.8" y2="131.6"/>
<line x1="504.8" y1="199.8" x2="508.8" y2="199.8"/>
<line x1="504.8" y1="268.1" x2="508.8" y2="268.1"/>
<line x1="504.8" y1="336.3" x2="508.8" y2="336.3"/>
</g>
<g fill="#1a1a1a" stroke="#1a1a1a" stroke-width="0.3">
<text x="511.5" y="68.1">0.035</text>
<text x="511.5" y="136.3">0.030</text>
<text x="511.5" y="204.5">0.025</text>
<text x="511.5" y="272.7">0.020</text>
<text x="511.5" y="340.9">0.015</text>
</g>
</svg>
</body></html>
